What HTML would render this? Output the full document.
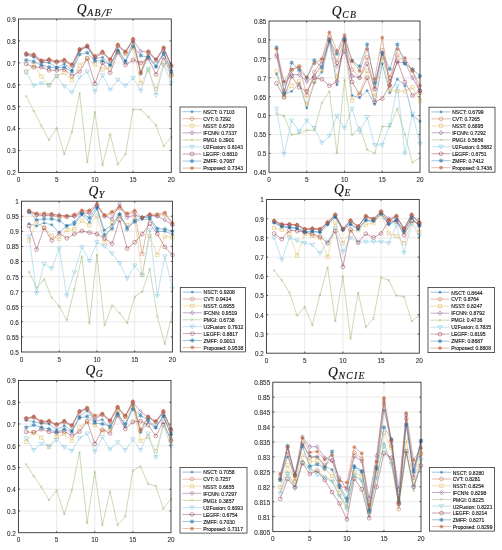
<!DOCTYPE html>
<html><head><meta charset="utf-8"><style>
html,body{margin:0;padding:0;background:#fff;}
body{width:502px;height:550px;overflow:hidden;}
svg{display:block;filter:blur(0.3px) saturate(0.75);}
.tl text{font-family:"Liberation Sans",Arial,sans-serif;font-size:6.4px;fill:#2a2a2a;stroke:#2a2a2a;stroke-width:0.08px;}
.lt{font-family:"Liberation Sans",Arial,sans-serif;font-size:5.8px;fill:#1a1a1a;stroke:#1a1a1a;stroke-width:0.16px;}
.ti{font-family:"Liberation Serif","Times New Roman",serif;font-style:italic;font-size:13.6px;fill:#111;stroke:#111;stroke-width:0.15px;}
.sub{font-size:9.8px;letter-spacing:1.2px;}
.sl{font-size:12.5px;letter-spacing:0.6px;}
</style></head><body>
<svg width="502" height="550" viewBox="0 0 502 550">
<path d="M56.7 19V172.4M94.9 19V172.4M133.1 19V172.4M18.5 150.49H171.3M18.5 128.57H171.3M18.5 106.66H171.3M18.5 84.74H171.3M18.5 62.83H171.3M18.5 40.91H171.3" stroke="#dcdcdc" stroke-width="0.6" fill="none"/>
<g opacity="0.55"><polyline points="26.14,54.94 33.78,57.13 41.42,62.17 49.06,62.83 56.7,67.21 64.34,63.92 71.98,70.28 79.62,50.34 87.26,46.83 94.9,58.45 102.54,57.35 110.18,65.02 117.82,49.68 125.46,60.86 133.1,42.01 140.74,73.79 148.38,55.82 156.02,66.12 163.66,52.31 171.3,70.28" fill="none" stroke="#0072BD" stroke-width="0.75" stroke-linejoin="round"/></g>
<g opacity="0.62"><circle cx="26.14" cy="54.94" r="1.2" fill="#0072BD" stroke="#0072BD" stroke-width="0.4"/><circle cx="33.78" cy="57.13" r="1.2" fill="#0072BD" stroke="#0072BD" stroke-width="0.4"/><circle cx="41.42" cy="62.17" r="1.2" fill="#0072BD" stroke="#0072BD" stroke-width="0.4"/><circle cx="49.06" cy="62.83" r="1.2" fill="#0072BD" stroke="#0072BD" stroke-width="0.4"/><circle cx="56.7" cy="67.21" r="1.2" fill="#0072BD" stroke="#0072BD" stroke-width="0.4"/><circle cx="64.34" cy="63.92" r="1.2" fill="#0072BD" stroke="#0072BD" stroke-width="0.4"/><circle cx="71.98" cy="70.28" r="1.2" fill="#0072BD" stroke="#0072BD" stroke-width="0.4"/><circle cx="79.62" cy="50.34" r="1.2" fill="#0072BD" stroke="#0072BD" stroke-width="0.4"/><circle cx="87.26" cy="46.83" r="1.2" fill="#0072BD" stroke="#0072BD" stroke-width="0.4"/><circle cx="94.9" cy="58.45" r="1.2" fill="#0072BD" stroke="#0072BD" stroke-width="0.4"/><circle cx="102.54" cy="57.35" r="1.2" fill="#0072BD" stroke="#0072BD" stroke-width="0.4"/><circle cx="110.18" cy="65.02" r="1.2" fill="#0072BD" stroke="#0072BD" stroke-width="0.4"/><circle cx="117.82" cy="49.68" r="1.2" fill="#0072BD" stroke="#0072BD" stroke-width="0.4"/><circle cx="125.46" cy="60.86" r="1.2" fill="#0072BD" stroke="#0072BD" stroke-width="0.4"/><circle cx="133.1" cy="42.01" r="1.2" fill="#0072BD" stroke="#0072BD" stroke-width="0.4"/><circle cx="140.74" cy="73.79" r="1.2" fill="#0072BD" stroke="#0072BD" stroke-width="0.4"/><circle cx="148.38" cy="55.82" r="1.2" fill="#0072BD" stroke="#0072BD" stroke-width="0.4"/><circle cx="156.02" cy="66.12" r="1.2" fill="#0072BD" stroke="#0072BD" stroke-width="0.4"/><circle cx="163.66" cy="52.31" r="1.2" fill="#0072BD" stroke="#0072BD" stroke-width="0.4"/><circle cx="171.3" cy="70.28" r="1.2" fill="#0072BD" stroke="#0072BD" stroke-width="0.4"/></g>
<g opacity="0.55"><polyline points="26.14,54.5 33.78,55.6 41.42,61.51 49.06,60.42 56.7,62.39 64.34,60.86 71.98,65.68 79.62,50.12 87.26,46.61 94.9,57.13 102.54,52.75 110.18,60.42 117.82,45.74 125.46,52.75 133.1,40.04 140.74,73.35 148.38,52.53 156.02,60.42 163.66,48.58 171.3,66.33" fill="none" stroke="#D95319" stroke-width="0.75" stroke-linejoin="round"/></g>
<g opacity="0.62"><circle cx="26.14" cy="54.5" r="1.9" fill="none" stroke="#D95319" stroke-width="0.7"/><circle cx="33.78" cy="55.6" r="1.9" fill="none" stroke="#D95319" stroke-width="0.7"/><circle cx="41.42" cy="61.51" r="1.9" fill="none" stroke="#D95319" stroke-width="0.7"/><circle cx="49.06" cy="60.42" r="1.9" fill="none" stroke="#D95319" stroke-width="0.7"/><circle cx="56.7" cy="62.39" r="1.9" fill="none" stroke="#D95319" stroke-width="0.7"/><circle cx="64.34" cy="60.86" r="1.9" fill="none" stroke="#D95319" stroke-width="0.7"/><circle cx="71.98" cy="65.68" r="1.9" fill="none" stroke="#D95319" stroke-width="0.7"/><circle cx="79.62" cy="50.12" r="1.9" fill="none" stroke="#D95319" stroke-width="0.7"/><circle cx="87.26" cy="46.61" r="1.9" fill="none" stroke="#D95319" stroke-width="0.7"/><circle cx="94.9" cy="57.13" r="1.9" fill="none" stroke="#D95319" stroke-width="0.7"/><circle cx="102.54" cy="52.75" r="1.9" fill="none" stroke="#D95319" stroke-width="0.7"/><circle cx="110.18" cy="60.42" r="1.9" fill="none" stroke="#D95319" stroke-width="0.7"/><circle cx="117.82" cy="45.74" r="1.9" fill="none" stroke="#D95319" stroke-width="0.7"/><circle cx="125.46" cy="52.75" r="1.9" fill="none" stroke="#D95319" stroke-width="0.7"/><circle cx="133.1" cy="40.04" r="1.9" fill="none" stroke="#D95319" stroke-width="0.7"/><circle cx="140.74" cy="73.35" r="1.9" fill="none" stroke="#D95319" stroke-width="0.7"/><circle cx="148.38" cy="52.53" r="1.9" fill="none" stroke="#D95319" stroke-width="0.7"/><circle cx="156.02" cy="60.42" r="1.9" fill="none" stroke="#D95319" stroke-width="0.7"/><circle cx="163.66" cy="48.58" r="1.9" fill="none" stroke="#D95319" stroke-width="0.7"/><circle cx="171.3" cy="66.33" r="1.9" fill="none" stroke="#D95319" stroke-width="0.7"/></g>
<g opacity="0.55"><polyline points="26.14,71.59 33.78,65.02 41.42,76.42 49.06,85.18 56.7,75.98 64.34,72.69 71.98,80.36 79.62,65.68 87.26,58.45 94.9,64.36 102.54,69.4 110.18,67.21 117.82,51.43 125.46,54.06 133.1,47.49 140.74,82.99 148.38,70.28 156.02,89.13 163.66,62.83 171.3,75.98" fill="none" stroke="#EDB120" stroke-width="0.75" stroke-linejoin="round"/></g>
<g opacity="0.62"><rect x="24.44" y="69.89" width="3.4" height="3.4" fill="none" stroke="#EDB120" stroke-width="0.7"/><rect x="32.08" y="63.32" width="3.4" height="3.4" fill="none" stroke="#EDB120" stroke-width="0.7"/><rect x="39.72" y="74.72" width="3.4" height="3.4" fill="none" stroke="#EDB120" stroke-width="0.7"/><rect x="47.36" y="83.48" width="3.4" height="3.4" fill="none" stroke="#EDB120" stroke-width="0.7"/><rect x="55" y="74.28" width="3.4" height="3.4" fill="none" stroke="#EDB120" stroke-width="0.7"/><rect x="62.64" y="70.99" width="3.4" height="3.4" fill="none" stroke="#EDB120" stroke-width="0.7"/><rect x="70.28" y="78.66" width="3.4" height="3.4" fill="none" stroke="#EDB120" stroke-width="0.7"/><rect x="77.92" y="63.98" width="3.4" height="3.4" fill="none" stroke="#EDB120" stroke-width="0.7"/><rect x="85.56" y="56.75" width="3.4" height="3.4" fill="none" stroke="#EDB120" stroke-width="0.7"/><rect x="93.2" y="62.66" width="3.4" height="3.4" fill="none" stroke="#EDB120" stroke-width="0.7"/><rect x="100.84" y="67.7" width="3.4" height="3.4" fill="none" stroke="#EDB120" stroke-width="0.7"/><rect x="108.48" y="65.51" width="3.4" height="3.4" fill="none" stroke="#EDB120" stroke-width="0.7"/><rect x="116.12" y="49.73" width="3.4" height="3.4" fill="none" stroke="#EDB120" stroke-width="0.7"/><rect x="123.76" y="52.36" width="3.4" height="3.4" fill="none" stroke="#EDB120" stroke-width="0.7"/><rect x="131.4" y="45.79" width="3.4" height="3.4" fill="none" stroke="#EDB120" stroke-width="0.7"/><rect x="139.04" y="81.29" width="3.4" height="3.4" fill="none" stroke="#EDB120" stroke-width="0.7"/><rect x="146.68" y="68.58" width="3.4" height="3.4" fill="none" stroke="#EDB120" stroke-width="0.7"/><rect x="154.32" y="87.43" width="3.4" height="3.4" fill="none" stroke="#EDB120" stroke-width="0.7"/><rect x="161.96" y="61.13" width="3.4" height="3.4" fill="none" stroke="#EDB120" stroke-width="0.7"/><rect x="169.6" y="74.28" width="3.4" height="3.4" fill="none" stroke="#EDB120" stroke-width="0.7"/></g>
<g opacity="0.55"><polyline points="26.14,54.06 33.78,55.16 41.42,61.08 49.06,59.98 56.7,61.95 64.34,60.42 71.98,65.24 79.62,49.68 87.26,46.17 94.9,58.45 102.54,52.31 110.18,59.98 117.82,45.3 125.46,52.31 133.1,39.6 140.74,51.43 148.38,52.09 156.02,59.98 163.66,48.15 171.3,65.9" fill="none" stroke="#7E2F8E" stroke-width="0.75" stroke-linejoin="round"/></g>
<g opacity="0.62"><path d="M26.14 51.86L27.9 54.06L26.14 56.26L24.38 54.06Z" fill="none" stroke="#7E2F8E" stroke-width="0.7"/><path d="M33.78 52.96L35.54 55.16L33.78 57.36L32.02 55.16Z" fill="none" stroke="#7E2F8E" stroke-width="0.7"/><path d="M41.42 58.88L43.18 61.08L41.42 63.28L39.66 61.08Z" fill="none" stroke="#7E2F8E" stroke-width="0.7"/><path d="M49.06 57.78L50.82 59.98L49.06 62.18L47.3 59.98Z" fill="none" stroke="#7E2F8E" stroke-width="0.7"/><path d="M56.7 59.75L58.46 61.95L56.7 64.15L54.94 61.95Z" fill="none" stroke="#7E2F8E" stroke-width="0.7"/><path d="M64.34 58.22L66.1 60.42L64.34 62.62L62.58 60.42Z" fill="none" stroke="#7E2F8E" stroke-width="0.7"/><path d="M71.98 63.04L73.74 65.24L71.98 67.44L70.22 65.24Z" fill="none" stroke="#7E2F8E" stroke-width="0.7"/><path d="M79.62 47.48L81.38 49.68L79.62 51.88L77.86 49.68Z" fill="none" stroke="#7E2F8E" stroke-width="0.7"/><path d="M87.26 43.97L89.02 46.17L87.26 48.37L85.5 46.17Z" fill="none" stroke="#7E2F8E" stroke-width="0.7"/><path d="M94.9 56.25L96.66 58.45L94.9 60.65L93.14 58.45Z" fill="none" stroke="#7E2F8E" stroke-width="0.7"/><path d="M102.54 50.11L104.3 52.31L102.54 54.51L100.78 52.31Z" fill="none" stroke="#7E2F8E" stroke-width="0.7"/><path d="M110.18 57.78L111.94 59.98L110.18 62.18L108.42 59.98Z" fill="none" stroke="#7E2F8E" stroke-width="0.7"/><path d="M117.82 43.1L119.58 45.3L117.82 47.5L116.06 45.3Z" fill="none" stroke="#7E2F8E" stroke-width="0.7"/><path d="M125.46 50.11L127.22 52.31L125.46 54.51L123.7 52.31Z" fill="none" stroke="#7E2F8E" stroke-width="0.7"/><path d="M133.1 37.4L134.86 39.6L133.1 41.8L131.34 39.6Z" fill="none" stroke="#7E2F8E" stroke-width="0.7"/><path d="M140.74 49.23L142.5 51.43L140.74 53.63L138.98 51.43Z" fill="none" stroke="#7E2F8E" stroke-width="0.7"/><path d="M148.38 49.89L150.14 52.09L148.38 54.29L146.62 52.09Z" fill="none" stroke="#7E2F8E" stroke-width="0.7"/><path d="M156.02 57.78L157.78 59.98L156.02 62.18L154.26 59.98Z" fill="none" stroke="#7E2F8E" stroke-width="0.7"/><path d="M163.66 45.95L165.42 48.15L163.66 50.35L161.9 48.15Z" fill="none" stroke="#7E2F8E" stroke-width="0.7"/><path d="M171.3 63.7L173.06 65.9L171.3 68.1L169.54 65.9Z" fill="none" stroke="#7E2F8E" stroke-width="0.7"/></g>
<g opacity="0.55"><polyline points="26.14,96.14 33.78,111.04 41.42,125.72 49.06,139.97 56.7,127.91 64.34,154.21 71.98,131.86 79.62,93.07 87.26,162.32 94.9,112.14 102.54,165.17 110.18,134.27 117.82,164.51 125.46,154.21 133.1,109.51 140.74,109.51 148.38,116.74 156.02,125.28 163.66,146.1 171.3,137.34" fill="none" stroke="#77AC30" stroke-width="0.75" stroke-linejoin="round"/></g>
<g opacity="0.62"><path d="M24.94 94.94L27.34 97.34M24.94 97.34L27.34 94.94" stroke="#77AC30" stroke-width="0.6"/><path d="M32.58 109.84L34.98 112.24M32.58 112.24L34.98 109.84" stroke="#77AC30" stroke-width="0.6"/><path d="M40.22 124.52L42.62 126.92M40.22 126.92L42.62 124.52" stroke="#77AC30" stroke-width="0.6"/><path d="M47.86 138.77L50.26 141.17M47.86 141.17L50.26 138.77" stroke="#77AC30" stroke-width="0.6"/><path d="M55.5 126.71L57.9 129.11M55.5 129.11L57.9 126.71" stroke="#77AC30" stroke-width="0.6"/><path d="M63.14 153.01L65.54 155.41M63.14 155.41L65.54 153.01" stroke="#77AC30" stroke-width="0.6"/><path d="M70.78 130.66L73.18 133.06M70.78 133.06L73.18 130.66" stroke="#77AC30" stroke-width="0.6"/><path d="M78.42 91.87L80.82 94.27M78.42 94.27L80.82 91.87" stroke="#77AC30" stroke-width="0.6"/><path d="M86.06 161.12L88.46 163.52M86.06 163.52L88.46 161.12" stroke="#77AC30" stroke-width="0.6"/><path d="M93.7 110.94L96.1 113.34M93.7 113.34L96.1 110.94" stroke="#77AC30" stroke-width="0.6"/><path d="M101.34 163.97L103.74 166.37M101.34 166.37L103.74 163.97" stroke="#77AC30" stroke-width="0.6"/><path d="M108.98 133.07L111.38 135.47M108.98 135.47L111.38 133.07" stroke="#77AC30" stroke-width="0.6"/><path d="M116.62 163.31L119.02 165.71M116.62 165.71L119.02 163.31" stroke="#77AC30" stroke-width="0.6"/><path d="M124.26 153.01L126.66 155.41M124.26 155.41L126.66 153.01" stroke="#77AC30" stroke-width="0.6"/><path d="M131.9 108.31L134.3 110.71M131.9 110.71L134.3 108.31" stroke="#77AC30" stroke-width="0.6"/><path d="M139.54 108.31L141.94 110.71M139.54 110.71L141.94 108.31" stroke="#77AC30" stroke-width="0.6"/><path d="M147.18 115.54L149.58 117.94M147.18 117.94L149.58 115.54" stroke="#77AC30" stroke-width="0.6"/><path d="M154.82 124.08L157.22 126.48M154.82 126.48L157.22 124.08" stroke="#77AC30" stroke-width="0.6"/><path d="M162.46 144.9L164.86 147.3M162.46 147.3L164.86 144.9" stroke="#77AC30" stroke-width="0.6"/><path d="M170.1 136.14L172.5 138.54M170.1 138.54L172.5 136.14" stroke="#77AC30" stroke-width="0.6"/></g>
<g opacity="0.55"><polyline points="26.14,72.25 33.78,85.62 41.42,83.21 49.06,85.18 56.7,75.98 64.34,86.28 71.98,92.41 79.62,77.29 87.26,71.59 94.9,91.54 102.54,75.32 110.18,89.78 117.82,79.7 125.46,85.62 133.1,77.95 140.74,90.66 148.38,68.53 156.02,95.04 163.66,65.02 171.3,82.99" fill="none" stroke="#4DBEEE" stroke-width="0.75" stroke-linejoin="round"/></g>
<g opacity="0.62"><path d="M23.94 70.71L28.34 70.71L26.14 74.45Z" fill="none" stroke="#4DBEEE" stroke-width="0.7"/><path d="M31.58 84.08L35.98 84.08L33.78 87.82Z" fill="none" stroke="#4DBEEE" stroke-width="0.7"/><path d="M39.22 81.67L43.62 81.67L41.42 85.41Z" fill="none" stroke="#4DBEEE" stroke-width="0.7"/><path d="M46.86 83.64L51.26 83.64L49.06 87.38Z" fill="none" stroke="#4DBEEE" stroke-width="0.7"/><path d="M54.5 74.44L58.9 74.44L56.7 78.18Z" fill="none" stroke="#4DBEEE" stroke-width="0.7"/><path d="M62.14 84.74L66.54 84.74L64.34 88.48Z" fill="none" stroke="#4DBEEE" stroke-width="0.7"/><path d="M69.78 90.87L74.18 90.87L71.98 94.61Z" fill="none" stroke="#4DBEEE" stroke-width="0.7"/><path d="M77.42 75.75L81.82 75.75L79.62 79.49Z" fill="none" stroke="#4DBEEE" stroke-width="0.7"/><path d="M85.06 70.05L89.46 70.05L87.26 73.79Z" fill="none" stroke="#4DBEEE" stroke-width="0.7"/><path d="M92.7 90L97.1 90L94.9 93.74Z" fill="none" stroke="#4DBEEE" stroke-width="0.7"/><path d="M100.34 73.78L104.74 73.78L102.54 77.52Z" fill="none" stroke="#4DBEEE" stroke-width="0.7"/><path d="M107.98 88.24L112.38 88.24L110.18 91.98Z" fill="none" stroke="#4DBEEE" stroke-width="0.7"/><path d="M115.62 78.16L120.02 78.16L117.82 81.9Z" fill="none" stroke="#4DBEEE" stroke-width="0.7"/><path d="M123.26 84.08L127.66 84.08L125.46 87.82Z" fill="none" stroke="#4DBEEE" stroke-width="0.7"/><path d="M130.9 76.41L135.3 76.41L133.1 80.15Z" fill="none" stroke="#4DBEEE" stroke-width="0.7"/><path d="M138.54 89.12L142.94 89.12L140.74 92.86Z" fill="none" stroke="#4DBEEE" stroke-width="0.7"/><path d="M146.18 66.99L150.58 66.99L148.38 70.73Z" fill="none" stroke="#4DBEEE" stroke-width="0.7"/><path d="M153.82 93.5L158.22 93.5L156.02 97.24Z" fill="none" stroke="#4DBEEE" stroke-width="0.7"/><path d="M161.46 63.48L165.86 63.48L163.66 67.22Z" fill="none" stroke="#4DBEEE" stroke-width="0.7"/><path d="M169.1 81.45L173.5 81.45L171.3 85.19Z" fill="none" stroke="#4DBEEE" stroke-width="0.7"/></g>
<g opacity="0.55"><polyline points="26.14,63.92 33.78,67.21 41.42,67.21 49.06,70.28 56.7,70.28 64.34,69.4 71.98,75.98 79.62,71.59 87.26,58.45 94.9,83.65 102.54,62.83 110.18,72.69 117.82,52.31 125.46,65.02 133.1,59.98 140.74,62.83 148.38,58.45 156.02,74.44 163.66,57.35 171.3,74.44" fill="none" stroke="#A2142F" stroke-width="0.75" stroke-linejoin="round"/></g>
<g opacity="0.62"><circle cx="26.14" cy="63.92" r="1.9" fill="none" stroke="#A2142F" stroke-width="0.7"/><circle cx="33.78" cy="67.21" r="1.9" fill="none" stroke="#A2142F" stroke-width="0.7"/><circle cx="41.42" cy="67.21" r="1.9" fill="none" stroke="#A2142F" stroke-width="0.7"/><circle cx="49.06" cy="70.28" r="1.9" fill="none" stroke="#A2142F" stroke-width="0.7"/><circle cx="56.7" cy="70.28" r="1.9" fill="none" stroke="#A2142F" stroke-width="0.7"/><circle cx="64.34" cy="69.4" r="1.9" fill="none" stroke="#A2142F" stroke-width="0.7"/><circle cx="71.98" cy="75.98" r="1.9" fill="none" stroke="#A2142F" stroke-width="0.7"/><circle cx="79.62" cy="71.59" r="1.9" fill="none" stroke="#A2142F" stroke-width="0.7"/><circle cx="87.26" cy="58.45" r="1.9" fill="none" stroke="#A2142F" stroke-width="0.7"/><circle cx="94.9" cy="83.65" r="1.9" fill="none" stroke="#A2142F" stroke-width="0.7"/><circle cx="102.54" cy="62.83" r="1.9" fill="none" stroke="#A2142F" stroke-width="0.7"/><circle cx="110.18" cy="72.69" r="1.9" fill="none" stroke="#A2142F" stroke-width="0.7"/><circle cx="117.82" cy="52.31" r="1.9" fill="none" stroke="#A2142F" stroke-width="0.7"/><circle cx="125.46" cy="65.02" r="1.9" fill="none" stroke="#A2142F" stroke-width="0.7"/><circle cx="133.1" cy="59.98" r="1.9" fill="none" stroke="#A2142F" stroke-width="0.7"/><circle cx="140.74" cy="62.83" r="1.9" fill="none" stroke="#A2142F" stroke-width="0.7"/><circle cx="148.38" cy="58.45" r="1.9" fill="none" stroke="#A2142F" stroke-width="0.7"/><circle cx="156.02" cy="74.44" r="1.9" fill="none" stroke="#A2142F" stroke-width="0.7"/><circle cx="163.66" cy="57.35" r="1.9" fill="none" stroke="#A2142F" stroke-width="0.7"/><circle cx="171.3" cy="74.44" r="1.9" fill="none" stroke="#A2142F" stroke-width="0.7"/></g>
<g opacity="0.55"><polyline points="26.14,60.2 33.78,61.51 41.42,65.02 49.06,67.21 56.7,67.87 64.34,67.21 71.98,71.59 79.62,54.28 87.26,52.75 94.9,60.86 102.54,60.86 110.18,65.02 117.82,50.78 125.46,61.73 133.1,46.39 140.74,55.6 148.38,57.35 156.02,66.77 163.66,53.62 171.3,71.59" fill="none" stroke="#0072BD" stroke-width="0.75" stroke-linejoin="round"/></g>
<g opacity="0.62"><polygon points="26.14,57.9 25.49,59.07 24.15,59.05 24.84,60.2 24.15,61.35 25.49,61.32 26.14,62.5 26.79,61.32 28.13,61.35 27.44,60.2 28.13,59.05 26.79,59.07" fill="#0072BD" stroke="#0072BD" stroke-width="0.3"/><polygon points="33.78,59.21 33.13,60.39 31.79,60.36 32.48,61.51 31.79,62.66 33.13,62.64 33.78,63.81 34.43,62.64 35.77,62.66 35.08,61.51 35.77,60.36 34.43,60.39" fill="#0072BD" stroke="#0072BD" stroke-width="0.3"/><polygon points="41.42,62.72 40.77,63.89 39.43,63.87 40.12,65.02 39.43,66.17 40.77,66.15 41.42,67.32 42.07,66.15 43.41,66.17 42.72,65.02 43.41,63.87 42.07,63.89" fill="#0072BD" stroke="#0072BD" stroke-width="0.3"/><polygon points="49.06,64.91 48.41,66.09 47.07,66.06 47.76,67.21 47.07,68.36 48.41,68.34 49.06,69.51 49.71,68.34 51.05,68.36 50.36,67.21 51.05,66.06 49.71,66.09" fill="#0072BD" stroke="#0072BD" stroke-width="0.3"/><polygon points="56.7,65.57 56.05,66.74 54.71,66.72 55.4,67.87 54.71,69.02 56.05,68.99 56.7,70.17 57.35,68.99 58.69,69.02 58,67.87 58.69,66.72 57.35,66.74" fill="#0072BD" stroke="#0072BD" stroke-width="0.3"/><polygon points="64.34,64.91 63.69,66.09 62.35,66.06 63.04,67.21 62.35,68.36 63.69,68.34 64.34,69.51 64.99,68.34 66.33,68.36 65.64,67.21 66.33,66.06 64.99,66.09" fill="#0072BD" stroke="#0072BD" stroke-width="0.3"/><polygon points="71.98,69.29 71.33,70.47 69.99,70.44 70.68,71.59 69.99,72.74 71.33,72.72 71.98,73.89 72.63,72.72 73.97,72.74 73.28,71.59 73.97,70.44 72.63,70.47" fill="#0072BD" stroke="#0072BD" stroke-width="0.3"/><polygon points="79.62,51.98 78.97,53.16 77.63,53.13 78.32,54.28 77.63,55.43 78.97,55.41 79.62,56.58 80.27,55.41 81.61,55.43 80.92,54.28 81.61,53.13 80.27,53.16" fill="#0072BD" stroke="#0072BD" stroke-width="0.3"/><polygon points="87.26,50.45 86.61,51.62 85.27,51.6 85.96,52.75 85.27,53.9 86.61,53.87 87.26,55.05 87.91,53.87 89.25,53.9 88.56,52.75 89.25,51.6 87.91,51.62" fill="#0072BD" stroke="#0072BD" stroke-width="0.3"/><polygon points="94.9,58.56 94.25,59.73 92.91,59.71 93.6,60.86 92.91,62.01 94.25,61.98 94.9,63.16 95.55,61.98 96.89,62.01 96.2,60.86 96.89,59.71 95.55,59.73" fill="#0072BD" stroke="#0072BD" stroke-width="0.3"/><polygon points="102.54,58.56 101.89,59.73 100.55,59.71 101.24,60.86 100.55,62.01 101.89,61.98 102.54,63.16 103.19,61.98 104.53,62.01 103.84,60.86 104.53,59.71 103.19,59.73" fill="#0072BD" stroke="#0072BD" stroke-width="0.3"/><polygon points="110.18,62.72 109.53,63.89 108.19,63.87 108.88,65.02 108.19,66.17 109.53,66.15 110.18,67.32 110.83,66.15 112.17,66.17 111.48,65.02 112.17,63.87 110.83,63.89" fill="#0072BD" stroke="#0072BD" stroke-width="0.3"/><polygon points="117.82,48.48 117.17,49.65 115.83,49.63 116.52,50.78 115.83,51.93 117.17,51.9 117.82,53.08 118.47,51.9 119.81,51.93 119.12,50.78 119.81,49.63 118.47,49.65" fill="#0072BD" stroke="#0072BD" stroke-width="0.3"/><polygon points="125.46,59.43 124.81,60.61 123.47,60.58 124.16,61.73 123.47,62.88 124.81,62.86 125.46,64.03 126.11,62.86 127.45,62.88 126.76,61.73 127.45,60.58 126.11,60.61" fill="#0072BD" stroke="#0072BD" stroke-width="0.3"/><polygon points="133.1,44.09 132.45,45.27 131.11,45.24 131.8,46.39 131.11,47.54 132.45,47.52 133.1,48.69 133.75,47.52 135.09,47.54 134.4,46.39 135.09,45.24 133.75,45.27" fill="#0072BD" stroke="#0072BD" stroke-width="0.3"/><polygon points="140.74,53.3 140.09,54.47 138.75,54.45 139.44,55.6 138.75,56.75 140.09,56.72 140.74,57.9 141.39,56.72 142.73,56.75 142.04,55.6 142.73,54.45 141.39,54.47" fill="#0072BD" stroke="#0072BD" stroke-width="0.3"/><polygon points="148.38,55.05 147.73,56.22 146.39,56.2 147.08,57.35 146.39,58.5 147.73,58.48 148.38,59.65 149.03,58.48 150.37,58.5 149.68,57.35 150.37,56.2 149.03,56.22" fill="#0072BD" stroke="#0072BD" stroke-width="0.3"/><polygon points="156.02,64.47 155.37,65.65 154.03,65.62 154.72,66.77 154.03,67.92 155.37,67.9 156.02,69.07 156.67,67.9 158.01,67.92 157.32,66.77 158.01,65.62 156.67,65.65" fill="#0072BD" stroke="#0072BD" stroke-width="0.3"/><polygon points="163.66,51.32 163.01,52.5 161.67,52.47 162.36,53.62 161.67,54.77 163.01,54.75 163.66,55.92 164.31,54.75 165.65,54.77 164.96,53.62 165.65,52.47 164.31,52.5" fill="#0072BD" stroke="#0072BD" stroke-width="0.3"/><polygon points="171.3,69.29 170.65,70.47 169.31,70.44 170,71.59 169.31,72.74 170.65,72.72 171.3,73.89 171.95,72.72 173.29,72.74 172.6,71.59 173.29,70.44 171.95,70.47" fill="#0072BD" stroke="#0072BD" stroke-width="0.3"/></g>
<g opacity="0.55"><polyline points="26.14,53.19 33.78,54.28 41.42,60.2 49.06,59.1 56.7,61.08 64.34,59.54 71.98,64.36 79.62,48.8 87.26,45.3 94.9,55.82 102.54,51.43 110.18,59.1 117.82,44.42 125.46,51.43 133.1,38.72 140.74,72.03 148.38,51.21 156.02,59.1 163.66,47.27 171.3,65.02" fill="none" stroke="#D95319" stroke-width="0.75" stroke-linejoin="round"/></g>
<g opacity="0.62"><circle cx="26.14" cy="53.19" r="1.6" fill="#D95319" stroke="#D95319" stroke-width="0.5"/><circle cx="33.78" cy="54.28" r="1.6" fill="#D95319" stroke="#D95319" stroke-width="0.5"/><circle cx="41.42" cy="60.2" r="1.6" fill="#D95319" stroke="#D95319" stroke-width="0.5"/><circle cx="49.06" cy="59.1" r="1.6" fill="#D95319" stroke="#D95319" stroke-width="0.5"/><circle cx="56.7" cy="61.08" r="1.6" fill="#D95319" stroke="#D95319" stroke-width="0.5"/><circle cx="64.34" cy="59.54" r="1.6" fill="#D95319" stroke="#D95319" stroke-width="0.5"/><circle cx="71.98" cy="64.36" r="1.6" fill="#D95319" stroke="#D95319" stroke-width="0.5"/><circle cx="79.62" cy="48.8" r="1.6" fill="#D95319" stroke="#D95319" stroke-width="0.5"/><circle cx="87.26" cy="45.3" r="1.6" fill="#D95319" stroke="#D95319" stroke-width="0.5"/><circle cx="94.9" cy="55.82" r="1.6" fill="#D95319" stroke="#D95319" stroke-width="0.5"/><circle cx="102.54" cy="51.43" r="1.6" fill="#D95319" stroke="#D95319" stroke-width="0.5"/><circle cx="110.18" cy="59.1" r="1.6" fill="#D95319" stroke="#D95319" stroke-width="0.5"/><circle cx="117.82" cy="44.42" r="1.6" fill="#D95319" stroke="#D95319" stroke-width="0.5"/><circle cx="125.46" cy="51.43" r="1.6" fill="#D95319" stroke="#D95319" stroke-width="0.5"/><circle cx="133.1" cy="38.72" r="1.6" fill="#D95319" stroke="#D95319" stroke-width="0.5"/><circle cx="140.74" cy="72.03" r="1.6" fill="#D95319" stroke="#D95319" stroke-width="0.5"/><circle cx="148.38" cy="51.21" r="1.6" fill="#D95319" stroke="#D95319" stroke-width="0.5"/><circle cx="156.02" cy="59.1" r="1.6" fill="#D95319" stroke="#D95319" stroke-width="0.5"/><circle cx="163.66" cy="47.27" r="1.6" fill="#D95319" stroke="#D95319" stroke-width="0.5"/><circle cx="171.3" cy="65.02" r="1.6" fill="#D95319" stroke="#D95319" stroke-width="0.5"/></g>
<rect x="18.5" y="19" width="152.8" height="153.4" fill="none" stroke="#333" stroke-width="0.9"/>
<path d="M56.7 172.4v-1.6M56.7 19v1.6M94.9 172.4v-1.6M94.9 19v1.6M133.1 172.4v-1.6M133.1 19v1.6M18.5 150.49h1.6M171.3 150.49h-1.6M18.5 128.57h1.6M171.3 128.57h-1.6M18.5 106.66h1.6M171.3 106.66h-1.6M18.5 84.74h1.6M171.3 84.74h-1.6M18.5 62.83h1.6M171.3 62.83h-1.6M18.5 40.91h1.6M171.3 40.91h-1.6" stroke="#333" stroke-width="0.8"/>
<g class="tl"><text x="18.5" y="181.9" text-anchor="middle">0</text><text x="56.7" y="181.9" text-anchor="middle">5</text><text x="94.9" y="181.9" text-anchor="middle">10</text><text x="133.1" y="181.9" text-anchor="middle">15</text><text x="171.3" y="181.9" text-anchor="middle">20</text><text x="15.9" y="175.3" text-anchor="end">0.2</text><text x="15.9" y="153.39" text-anchor="end">0.3</text><text x="15.9" y="131.47" text-anchor="end">0.4</text><text x="15.9" y="109.56" text-anchor="end">0.5</text><text x="15.9" y="87.64" text-anchor="end">0.6</text><text x="15.9" y="65.73" text-anchor="end">0.7</text><text x="15.9" y="43.81" text-anchor="end">0.8</text><text x="15.9" y="21.9" text-anchor="end">0.9</text></g>
<text class="ti" x="94.9" y="13.8" text-anchor="middle">Q<tspan class="sub" dx="0.6" dy="2">AB</tspan><tspan class="sl" dy="0.9">/</tspan><tspan class="sub" dy="-0.9">F</tspan></text>
<rect x="180" y="107" width="66.5" height="65.6" fill="#fff" stroke="#333" stroke-width="0.8"/><g opacity="0.55"><path d="M182.5 111.7H201.5" stroke="#0072BD" stroke-width="0.75"/></g><g opacity="0.62"><circle cx="192" cy="111.7" r="1.2" fill="#0072BD" stroke="#0072BD" stroke-width="0.4"/></g><text class="lt" transform="translate(203.2 114) scale(0.87 1)">NSCT: 0.7103</text><g opacity="0.55"><path d="M182.5 118.75H201.5" stroke="#D95319" stroke-width="0.75"/></g><g opacity="0.62"><circle cx="192" cy="118.75" r="1.9" fill="none" stroke="#D95319" stroke-width="0.7"/></g><text class="lt" transform="translate(203.2 121.05) scale(0.87 1)">CVT: 0.7292</text><g opacity="0.55"><path d="M182.5 125.8H201.5" stroke="#EDB120" stroke-width="0.75"/></g><g opacity="0.62"><rect x="190.3" y="124.1" width="3.4" height="3.4" fill="none" stroke="#EDB120" stroke-width="0.7"/></g><text class="lt" transform="translate(203.2 128.1) scale(0.87 1)">NSST: 0.6720</text><g opacity="0.55"><path d="M182.5 132.85H201.5" stroke="#7E2F8E" stroke-width="0.75"/></g><g opacity="0.62"><path d="M192 130.65L193.76 132.85L192 135.05L190.24 132.85Z" fill="none" stroke="#7E2F8E" stroke-width="0.7"/></g><text class="lt" transform="translate(203.2 135.15) scale(0.87 1)">IFCNN: 0.7337</text><g opacity="0.55"><path d="M182.5 139.9H201.5" stroke="#77AC30" stroke-width="0.75"/></g><g opacity="0.62"><path d="M190.8 138.7L193.2 141.1M190.8 141.1L193.2 138.7" stroke="#77AC30" stroke-width="0.6"/></g><text class="lt" transform="translate(203.2 142.2) scale(0.87 1)">PMGI: 0.3901</text><g opacity="0.55"><path d="M182.5 146.95H201.5" stroke="#4DBEEE" stroke-width="0.75"/></g><g opacity="0.62"><path d="M189.8 145.41L194.2 145.41L192 149.15Z" fill="none" stroke="#4DBEEE" stroke-width="0.7"/></g><text class="lt" transform="translate(203.2 149.25) scale(0.87 1)">U2Fusion: 0.6143</text><g opacity="0.55"><path d="M182.5 154H201.5" stroke="#A2142F" stroke-width="0.75"/></g><g opacity="0.62"><circle cx="192" cy="154" r="1.9" fill="none" stroke="#A2142F" stroke-width="0.7"/></g><text class="lt" transform="translate(203.2 156.3) scale(0.87 1)">LEGFF: 0.6810</text><g opacity="0.55"><path d="M182.5 161.05H201.5" stroke="#0072BD" stroke-width="0.75"/></g><g opacity="0.62"><polygon points="192,158.75 191.35,159.92 190.01,159.9 190.7,161.05 190.01,162.2 191.35,162.18 192,163.35 192.65,162.18 193.99,162.2 193.3,161.05 193.99,159.9 192.65,159.92" fill="#0072BD" stroke="#0072BD" stroke-width="0.3"/></g><text class="lt" transform="translate(203.2 163.35) scale(0.87 1)">ZMFF: 0.7087</text><g opacity="0.55"><path d="M182.5 168.1H201.5" stroke="#D95319" stroke-width="0.75"/></g><g opacity="0.62"><circle cx="192" cy="168.1" r="1.6" fill="#D95319" stroke="#D95319" stroke-width="0.5"/></g><text class="lt" transform="translate(203.2 170.4) scale(0.87 1)">Proposed: 0.7343</text>
<path d="M306.75 21V172.3M344.5 21V172.3M382.25 21V172.3M269 153.39H420M269 134.47H420M269 115.56H420M269 96.65H420M269 77.74H420M269 58.83H420M269 39.91H420" stroke="#dcdcdc" stroke-width="0.6" fill="none"/>
<g opacity="0.55"><polyline points="276.55,73.96 284.1,94.38 291.65,91.35 299.2,83.41 306.75,108 314.3,82.65 321.85,72.06 329.4,41.8 336.95,84.92 344.5,39.91 352.05,95.52 359.6,97.78 367.15,90.6 374.7,104.22 382.25,63.74 389.8,92.87 397.35,79.25 404.9,85.68 412.45,115.56 420,121.24" fill="none" stroke="#0072BD" stroke-width="0.75" stroke-linejoin="round"/></g>
<g opacity="0.62"><circle cx="276.55" cy="73.96" r="1.2" fill="#0072BD" stroke="#0072BD" stroke-width="0.4"/><circle cx="284.1" cy="94.38" r="1.2" fill="#0072BD" stroke="#0072BD" stroke-width="0.4"/><circle cx="291.65" cy="91.35" r="1.2" fill="#0072BD" stroke="#0072BD" stroke-width="0.4"/><circle cx="299.2" cy="83.41" r="1.2" fill="#0072BD" stroke="#0072BD" stroke-width="0.4"/><circle cx="306.75" cy="108" r="1.2" fill="#0072BD" stroke="#0072BD" stroke-width="0.4"/><circle cx="314.3" cy="82.65" r="1.2" fill="#0072BD" stroke="#0072BD" stroke-width="0.4"/><circle cx="321.85" cy="72.06" r="1.2" fill="#0072BD" stroke="#0072BD" stroke-width="0.4"/><circle cx="329.4" cy="41.8" r="1.2" fill="#0072BD" stroke="#0072BD" stroke-width="0.4"/><circle cx="336.95" cy="84.92" r="1.2" fill="#0072BD" stroke="#0072BD" stroke-width="0.4"/><circle cx="344.5" cy="39.91" r="1.2" fill="#0072BD" stroke="#0072BD" stroke-width="0.4"/><circle cx="352.05" cy="95.52" r="1.2" fill="#0072BD" stroke="#0072BD" stroke-width="0.4"/><circle cx="359.6" cy="97.78" r="1.2" fill="#0072BD" stroke="#0072BD" stroke-width="0.4"/><circle cx="367.15" cy="90.6" r="1.2" fill="#0072BD" stroke="#0072BD" stroke-width="0.4"/><circle cx="374.7" cy="104.22" r="1.2" fill="#0072BD" stroke="#0072BD" stroke-width="0.4"/><circle cx="382.25" cy="63.74" r="1.2" fill="#0072BD" stroke="#0072BD" stroke-width="0.4"/><circle cx="389.8" cy="92.87" r="1.2" fill="#0072BD" stroke="#0072BD" stroke-width="0.4"/><circle cx="397.35" cy="79.25" r="1.2" fill="#0072BD" stroke="#0072BD" stroke-width="0.4"/><circle cx="404.9" cy="85.68" r="1.2" fill="#0072BD" stroke="#0072BD" stroke-width="0.4"/><circle cx="412.45" cy="115.56" r="1.2" fill="#0072BD" stroke="#0072BD" stroke-width="0.4"/><circle cx="420" cy="121.24" r="1.2" fill="#0072BD" stroke="#0072BD" stroke-width="0.4"/></g>
<g opacity="0.55"><polyline points="276.55,56.18 284.1,90.98 291.65,70.17 299.2,66.39 306.75,95.14 314.3,72.06 321.85,60.72 329.4,36.51 336.95,62.61 344.5,39.91 352.05,69.42 359.6,77.74 367.15,57.31 374.7,88.71 382.25,50.13 389.8,77.74 397.35,55.04 404.9,62.61 412.45,70.17 420,92.87" fill="none" stroke="#D95319" stroke-width="0.75" stroke-linejoin="round"/></g>
<g opacity="0.62"><circle cx="276.55" cy="56.18" r="1.9" fill="none" stroke="#D95319" stroke-width="0.7"/><circle cx="284.1" cy="90.98" r="1.9" fill="none" stroke="#D95319" stroke-width="0.7"/><circle cx="291.65" cy="70.17" r="1.9" fill="none" stroke="#D95319" stroke-width="0.7"/><circle cx="299.2" cy="66.39" r="1.9" fill="none" stroke="#D95319" stroke-width="0.7"/><circle cx="306.75" cy="95.14" r="1.9" fill="none" stroke="#D95319" stroke-width="0.7"/><circle cx="314.3" cy="72.06" r="1.9" fill="none" stroke="#D95319" stroke-width="0.7"/><circle cx="321.85" cy="60.72" r="1.9" fill="none" stroke="#D95319" stroke-width="0.7"/><circle cx="329.4" cy="36.51" r="1.9" fill="none" stroke="#D95319" stroke-width="0.7"/><circle cx="336.95" cy="62.61" r="1.9" fill="none" stroke="#D95319" stroke-width="0.7"/><circle cx="344.5" cy="39.91" r="1.9" fill="none" stroke="#D95319" stroke-width="0.7"/><circle cx="352.05" cy="69.42" r="1.9" fill="none" stroke="#D95319" stroke-width="0.7"/><circle cx="359.6" cy="77.74" r="1.9" fill="none" stroke="#D95319" stroke-width="0.7"/><circle cx="367.15" cy="57.31" r="1.9" fill="none" stroke="#D95319" stroke-width="0.7"/><circle cx="374.7" cy="88.71" r="1.9" fill="none" stroke="#D95319" stroke-width="0.7"/><circle cx="382.25" cy="50.13" r="1.9" fill="none" stroke="#D95319" stroke-width="0.7"/><circle cx="389.8" cy="77.74" r="1.9" fill="none" stroke="#D95319" stroke-width="0.7"/><circle cx="397.35" cy="55.04" r="1.9" fill="none" stroke="#D95319" stroke-width="0.7"/><circle cx="404.9" cy="62.61" r="1.9" fill="none" stroke="#D95319" stroke-width="0.7"/><circle cx="412.45" cy="70.17" r="1.9" fill="none" stroke="#D95319" stroke-width="0.7"/><circle cx="420" cy="92.87" r="1.9" fill="none" stroke="#D95319" stroke-width="0.7"/></g>
<g opacity="0.55"><polyline points="276.55,70.93 284.1,96.65 291.65,85.68 299.2,81.52 306.75,104.22 314.3,81.52 321.85,69.79 329.4,39.91 336.95,76.98 344.5,47.48 352.05,100.43 359.6,92.87 367.15,70.93 374.7,96.65 382.25,57.31 389.8,90.6 397.35,90.98 404.9,91.35 412.45,87.19 420,100.43" fill="none" stroke="#EDB120" stroke-width="0.75" stroke-linejoin="round"/></g>
<g opacity="0.62"><rect x="274.85" y="69.23" width="3.4" height="3.4" fill="none" stroke="#EDB120" stroke-width="0.7"/><rect x="282.4" y="94.95" width="3.4" height="3.4" fill="none" stroke="#EDB120" stroke-width="0.7"/><rect x="289.95" y="83.98" width="3.4" height="3.4" fill="none" stroke="#EDB120" stroke-width="0.7"/><rect x="297.5" y="79.82" width="3.4" height="3.4" fill="none" stroke="#EDB120" stroke-width="0.7"/><rect x="305.05" y="102.52" width="3.4" height="3.4" fill="none" stroke="#EDB120" stroke-width="0.7"/><rect x="312.6" y="79.82" width="3.4" height="3.4" fill="none" stroke="#EDB120" stroke-width="0.7"/><rect x="320.15" y="68.09" width="3.4" height="3.4" fill="none" stroke="#EDB120" stroke-width="0.7"/><rect x="327.7" y="38.21" width="3.4" height="3.4" fill="none" stroke="#EDB120" stroke-width="0.7"/><rect x="335.25" y="75.28" width="3.4" height="3.4" fill="none" stroke="#EDB120" stroke-width="0.7"/><rect x="342.8" y="45.78" width="3.4" height="3.4" fill="none" stroke="#EDB120" stroke-width="0.7"/><rect x="350.35" y="98.73" width="3.4" height="3.4" fill="none" stroke="#EDB120" stroke-width="0.7"/><rect x="357.9" y="91.17" width="3.4" height="3.4" fill="none" stroke="#EDB120" stroke-width="0.7"/><rect x="365.45" y="69.23" width="3.4" height="3.4" fill="none" stroke="#EDB120" stroke-width="0.7"/><rect x="373" y="94.95" width="3.4" height="3.4" fill="none" stroke="#EDB120" stroke-width="0.7"/><rect x="380.55" y="55.61" width="3.4" height="3.4" fill="none" stroke="#EDB120" stroke-width="0.7"/><rect x="388.1" y="88.9" width="3.4" height="3.4" fill="none" stroke="#EDB120" stroke-width="0.7"/><rect x="395.65" y="89.28" width="3.4" height="3.4" fill="none" stroke="#EDB120" stroke-width="0.7"/><rect x="403.2" y="89.65" width="3.4" height="3.4" fill="none" stroke="#EDB120" stroke-width="0.7"/><rect x="410.75" y="85.49" width="3.4" height="3.4" fill="none" stroke="#EDB120" stroke-width="0.7"/><rect x="418.3" y="98.73" width="3.4" height="3.4" fill="none" stroke="#EDB120" stroke-width="0.7"/></g>
<g opacity="0.55"><polyline points="276.55,54.66 284.1,83.41 291.65,74.71 299.2,74.71 306.75,81.52 314.3,76.22 321.85,64.5 329.4,39.91 336.95,66.39 344.5,51.26 352.05,75.85 359.6,77.74 367.15,63.74 374.7,89.08 382.25,53.15 389.8,81.52 397.35,62.23 404.9,62.61 412.45,77.74 420,90.98" fill="none" stroke="#7E2F8E" stroke-width="0.75" stroke-linejoin="round"/></g>
<g opacity="0.62"><path d="M276.55 52.46L278.31 54.66L276.55 56.86L274.79 54.66Z" fill="none" stroke="#7E2F8E" stroke-width="0.7"/><path d="M284.1 81.21L285.86 83.41L284.1 85.61L282.34 83.41Z" fill="none" stroke="#7E2F8E" stroke-width="0.7"/><path d="M291.65 72.51L293.41 74.71L291.65 76.91L289.89 74.71Z" fill="none" stroke="#7E2F8E" stroke-width="0.7"/><path d="M299.2 72.51L300.96 74.71L299.2 76.91L297.44 74.71Z" fill="none" stroke="#7E2F8E" stroke-width="0.7"/><path d="M306.75 79.32L308.51 81.52L306.75 83.72L304.99 81.52Z" fill="none" stroke="#7E2F8E" stroke-width="0.7"/><path d="M314.3 74.02L316.06 76.22L314.3 78.42L312.54 76.22Z" fill="none" stroke="#7E2F8E" stroke-width="0.7"/><path d="M321.85 62.3L323.61 64.5L321.85 66.7L320.09 64.5Z" fill="none" stroke="#7E2F8E" stroke-width="0.7"/><path d="M329.4 37.71L331.16 39.91L329.4 42.11L327.64 39.91Z" fill="none" stroke="#7E2F8E" stroke-width="0.7"/><path d="M336.95 64.19L338.71 66.39L336.95 68.59L335.19 66.39Z" fill="none" stroke="#7E2F8E" stroke-width="0.7"/><path d="M344.5 49.06L346.26 51.26L344.5 53.46L342.74 51.26Z" fill="none" stroke="#7E2F8E" stroke-width="0.7"/><path d="M352.05 73.65L353.81 75.85L352.05 78.05L350.29 75.85Z" fill="none" stroke="#7E2F8E" stroke-width="0.7"/><path d="M359.6 75.54L361.36 77.74L359.6 79.94L357.84 77.74Z" fill="none" stroke="#7E2F8E" stroke-width="0.7"/><path d="M367.15 61.54L368.91 63.74L367.15 65.94L365.39 63.74Z" fill="none" stroke="#7E2F8E" stroke-width="0.7"/><path d="M374.7 86.88L376.46 89.08L374.7 91.28L372.94 89.08Z" fill="none" stroke="#7E2F8E" stroke-width="0.7"/><path d="M382.25 50.95L384.01 53.15L382.25 55.35L380.49 53.15Z" fill="none" stroke="#7E2F8E" stroke-width="0.7"/><path d="M389.8 79.32L391.56 81.52L389.8 83.72L388.04 81.52Z" fill="none" stroke="#7E2F8E" stroke-width="0.7"/><path d="M397.35 60.03L399.11 62.23L397.35 64.43L395.59 62.23Z" fill="none" stroke="#7E2F8E" stroke-width="0.7"/><path d="M404.9 60.41L406.66 62.61L404.9 64.81L403.14 62.61Z" fill="none" stroke="#7E2F8E" stroke-width="0.7"/><path d="M412.45 75.54L414.21 77.74L412.45 79.94L410.69 77.74Z" fill="none" stroke="#7E2F8E" stroke-width="0.7"/><path d="M420 88.78L421.76 90.98L420 93.18L418.24 90.98Z" fill="none" stroke="#7E2F8E" stroke-width="0.7"/></g>
<g opacity="0.55"><polyline points="276.55,113.67 284.1,115.94 291.65,134.85 299.2,133.34 306.75,130.31 314.3,130.31 321.85,102.7 329.4,91.35 336.95,153.39 344.5,79.63 352.05,134.85 359.6,127.29 367.15,149.61 374.7,153.39 382.25,126.53 389.8,126.53 397.35,108.75 404.9,134.47 412.45,162.47 420,157.93" fill="none" stroke="#77AC30" stroke-width="0.75" stroke-linejoin="round"/></g>
<g opacity="0.62"><path d="M275.35 112.47L277.75 114.87M275.35 114.87L277.75 112.47" stroke="#77AC30" stroke-width="0.6"/><path d="M282.9 114.74L285.3 117.14M282.9 117.14L285.3 114.74" stroke="#77AC30" stroke-width="0.6"/><path d="M290.45 133.65L292.85 136.05M290.45 136.05L292.85 133.65" stroke="#77AC30" stroke-width="0.6"/><path d="M298 132.14L300.4 134.54M298 134.54L300.4 132.14" stroke="#77AC30" stroke-width="0.6"/><path d="M305.55 129.11L307.95 131.51M305.55 131.51L307.95 129.11" stroke="#77AC30" stroke-width="0.6"/><path d="M313.1 129.11L315.5 131.51M313.1 131.51L315.5 129.11" stroke="#77AC30" stroke-width="0.6"/><path d="M320.65 101.5L323.05 103.9M320.65 103.9L323.05 101.5" stroke="#77AC30" stroke-width="0.6"/><path d="M328.2 90.15L330.6 92.55M328.2 92.55L330.6 90.15" stroke="#77AC30" stroke-width="0.6"/><path d="M335.75 152.19L338.15 154.59M335.75 154.59L338.15 152.19" stroke="#77AC30" stroke-width="0.6"/><path d="M343.3 78.43L345.7 80.83M343.3 80.83L345.7 78.43" stroke="#77AC30" stroke-width="0.6"/><path d="M350.85 133.65L353.25 136.05M350.85 136.05L353.25 133.65" stroke="#77AC30" stroke-width="0.6"/><path d="M358.4 126.09L360.8 128.49M358.4 128.49L360.8 126.09" stroke="#77AC30" stroke-width="0.6"/><path d="M365.95 148.41L368.35 150.81M365.95 150.81L368.35 148.41" stroke="#77AC30" stroke-width="0.6"/><path d="M373.5 152.19L375.9 154.59M373.5 154.59L375.9 152.19" stroke="#77AC30" stroke-width="0.6"/><path d="M381.05 125.33L383.45 127.73M381.05 127.73L383.45 125.33" stroke="#77AC30" stroke-width="0.6"/><path d="M388.6 125.33L391 127.73M388.6 127.73L391 125.33" stroke="#77AC30" stroke-width="0.6"/><path d="M396.15 107.55L398.55 109.95M396.15 109.95L398.55 107.55" stroke="#77AC30" stroke-width="0.6"/><path d="M403.7 133.28L406.1 135.67M403.7 135.67L406.1 133.28" stroke="#77AC30" stroke-width="0.6"/><path d="M411.25 161.27L413.65 163.67M411.25 163.67L413.65 161.27" stroke="#77AC30" stroke-width="0.6"/><path d="M418.8 156.73L421.2 159.13M418.8 159.13L421.2 156.73" stroke="#77AC30" stroke-width="0.6"/></g>
<g opacity="0.55"><polyline points="276.55,108.75 284.1,154.14 291.65,120.48 299.2,131.45 306.75,120.48 314.3,128.04 321.85,142.8 329.4,135.99 336.95,115.94 344.5,128.04 352.05,108.75 359.6,131.83 367.15,117.08 374.7,145.07 382.25,145.07 389.8,125.02 397.35,86.06 404.9,153.39 412.45,113.67 420,143.93" fill="none" stroke="#4DBEEE" stroke-width="0.75" stroke-linejoin="round"/></g>
<g opacity="0.62"><path d="M274.35 107.21L278.75 107.21L276.55 110.95Z" fill="none" stroke="#4DBEEE" stroke-width="0.7"/><path d="M281.9 152.6L286.3 152.6L284.1 156.34Z" fill="none" stroke="#4DBEEE" stroke-width="0.7"/><path d="M289.45 118.94L293.85 118.94L291.65 122.68Z" fill="none" stroke="#4DBEEE" stroke-width="0.7"/><path d="M297 129.91L301.4 129.91L299.2 133.65Z" fill="none" stroke="#4DBEEE" stroke-width="0.7"/><path d="M304.55 118.94L308.95 118.94L306.75 122.68Z" fill="none" stroke="#4DBEEE" stroke-width="0.7"/><path d="M312.1 126.5L316.5 126.5L314.3 130.24Z" fill="none" stroke="#4DBEEE" stroke-width="0.7"/><path d="M319.65 141.26L324.05 141.26L321.85 145Z" fill="none" stroke="#4DBEEE" stroke-width="0.7"/><path d="M327.2 134.45L331.6 134.45L329.4 138.19Z" fill="none" stroke="#4DBEEE" stroke-width="0.7"/><path d="M334.75 114.4L339.15 114.4L336.95 118.14Z" fill="none" stroke="#4DBEEE" stroke-width="0.7"/><path d="M342.3 126.5L346.7 126.5L344.5 130.24Z" fill="none" stroke="#4DBEEE" stroke-width="0.7"/><path d="M349.85 107.21L354.25 107.21L352.05 110.95Z" fill="none" stroke="#4DBEEE" stroke-width="0.7"/><path d="M357.4 130.29L361.8 130.29L359.6 134.03Z" fill="none" stroke="#4DBEEE" stroke-width="0.7"/><path d="M364.95 115.54L369.35 115.54L367.15 119.28Z" fill="none" stroke="#4DBEEE" stroke-width="0.7"/><path d="M372.5 143.53L376.9 143.53L374.7 147.27Z" fill="none" stroke="#4DBEEE" stroke-width="0.7"/><path d="M380.05 143.53L384.45 143.53L382.25 147.27Z" fill="none" stroke="#4DBEEE" stroke-width="0.7"/><path d="M387.6 123.48L392 123.48L389.8 127.22Z" fill="none" stroke="#4DBEEE" stroke-width="0.7"/><path d="M395.15 84.52L399.55 84.52L397.35 88.26Z" fill="none" stroke="#4DBEEE" stroke-width="0.7"/><path d="M402.7 151.85L407.1 151.85L404.9 155.59Z" fill="none" stroke="#4DBEEE" stroke-width="0.7"/><path d="M410.25 112.13L414.65 112.13L412.45 115.87Z" fill="none" stroke="#4DBEEE" stroke-width="0.7"/><path d="M417.8 142.39L422.2 142.39L420 146.13Z" fill="none" stroke="#4DBEEE" stroke-width="0.7"/></g>
<g opacity="0.55"><polyline points="276.55,83.41 284.1,97.41 291.65,76.22 299.2,87.19 306.75,91.35 314.3,77.74 321.85,79.25 329.4,85.68 336.95,81.52 344.5,39.91 352.05,81.9 359.6,94.76 367.15,77.74 374.7,101.95 382.25,98.54 389.8,85.3 397.35,60.72 404.9,81.9 412.45,95.52 420,90.6" fill="none" stroke="#A2142F" stroke-width="0.75" stroke-linejoin="round"/></g>
<g opacity="0.62"><circle cx="276.55" cy="83.41" r="1.9" fill="none" stroke="#A2142F" stroke-width="0.7"/><circle cx="284.1" cy="97.41" r="1.9" fill="none" stroke="#A2142F" stroke-width="0.7"/><circle cx="291.65" cy="76.22" r="1.9" fill="none" stroke="#A2142F" stroke-width="0.7"/><circle cx="299.2" cy="87.19" r="1.9" fill="none" stroke="#A2142F" stroke-width="0.7"/><circle cx="306.75" cy="91.35" r="1.9" fill="none" stroke="#A2142F" stroke-width="0.7"/><circle cx="314.3" cy="77.74" r="1.9" fill="none" stroke="#A2142F" stroke-width="0.7"/><circle cx="321.85" cy="79.25" r="1.9" fill="none" stroke="#A2142F" stroke-width="0.7"/><circle cx="329.4" cy="85.68" r="1.9" fill="none" stroke="#A2142F" stroke-width="0.7"/><circle cx="336.95" cy="81.52" r="1.9" fill="none" stroke="#A2142F" stroke-width="0.7"/><circle cx="344.5" cy="39.91" r="1.9" fill="none" stroke="#A2142F" stroke-width="0.7"/><circle cx="352.05" cy="81.9" r="1.9" fill="none" stroke="#A2142F" stroke-width="0.7"/><circle cx="359.6" cy="94.76" r="1.9" fill="none" stroke="#A2142F" stroke-width="0.7"/><circle cx="367.15" cy="77.74" r="1.9" fill="none" stroke="#A2142F" stroke-width="0.7"/><circle cx="374.7" cy="101.95" r="1.9" fill="none" stroke="#A2142F" stroke-width="0.7"/><circle cx="382.25" cy="98.54" r="1.9" fill="none" stroke="#A2142F" stroke-width="0.7"/><circle cx="389.8" cy="85.3" r="1.9" fill="none" stroke="#A2142F" stroke-width="0.7"/><circle cx="397.35" cy="60.72" r="1.9" fill="none" stroke="#A2142F" stroke-width="0.7"/><circle cx="404.9" cy="81.9" r="1.9" fill="none" stroke="#A2142F" stroke-width="0.7"/><circle cx="412.45" cy="95.52" r="1.9" fill="none" stroke="#A2142F" stroke-width="0.7"/><circle cx="420" cy="90.6" r="1.9" fill="none" stroke="#A2142F" stroke-width="0.7"/></g>
<g opacity="0.55"><polyline points="276.55,47.48 284.1,92.87 291.65,62.61 299.2,70.17 306.75,77.74 314.3,60.34 321.85,67.52 329.4,39.91 336.95,53.91 344.5,38.02 352.05,60.72 359.6,66.39 367.15,44.45 374.7,83.03 382.25,53.15 389.8,69.04 397.35,44.45 404.9,63.74 412.45,69.42 420,75.85" fill="none" stroke="#0072BD" stroke-width="0.75" stroke-linejoin="round"/></g>
<g opacity="0.62"><polygon points="276.55,45.18 275.9,46.35 274.56,46.33 275.25,47.48 274.56,48.63 275.9,48.6 276.55,49.78 277.2,48.6 278.54,48.63 277.85,47.48 278.54,46.33 277.2,46.35" fill="#0072BD" stroke="#0072BD" stroke-width="0.3"/><polygon points="284.1,90.57 283.45,91.74 282.11,91.72 282.8,92.87 282.11,94.02 283.45,93.99 284.1,95.17 284.75,93.99 286.09,94.02 285.4,92.87 286.09,91.72 284.75,91.74" fill="#0072BD" stroke="#0072BD" stroke-width="0.3"/><polygon points="291.65,60.31 291,61.48 289.66,61.46 290.35,62.61 289.66,63.76 291,63.73 291.65,64.91 292.3,63.73 293.64,63.76 292.95,62.61 293.64,61.46 292.3,61.48" fill="#0072BD" stroke="#0072BD" stroke-width="0.3"/><polygon points="299.2,67.87 298.55,69.05 297.21,69.02 297.9,70.17 297.21,71.32 298.55,71.3 299.2,72.47 299.85,71.3 301.19,71.32 300.5,70.17 301.19,69.02 299.85,69.05" fill="#0072BD" stroke="#0072BD" stroke-width="0.3"/><polygon points="306.75,75.44 306.1,76.61 304.76,76.59 305.45,77.74 304.76,78.89 306.1,78.86 306.75,80.04 307.4,78.86 308.74,78.89 308.05,77.74 308.74,76.59 307.4,76.61" fill="#0072BD" stroke="#0072BD" stroke-width="0.3"/><polygon points="314.3,58.04 313.65,59.21 312.31,59.19 313,60.34 312.31,61.49 313.65,61.46 314.3,62.64 314.95,61.46 316.29,61.49 315.6,60.34 316.29,59.19 314.95,59.21" fill="#0072BD" stroke="#0072BD" stroke-width="0.3"/><polygon points="321.85,65.22 321.2,66.4 319.86,66.37 320.55,67.52 319.86,68.67 321.2,68.65 321.85,69.82 322.5,68.65 323.84,68.67 323.15,67.52 323.84,66.37 322.5,66.4" fill="#0072BD" stroke="#0072BD" stroke-width="0.3"/><polygon points="329.4,37.61 328.75,38.79 327.41,38.76 328.1,39.91 327.41,41.06 328.75,41.04 329.4,42.21 330.05,41.04 331.39,41.06 330.7,39.91 331.39,38.76 330.05,38.79" fill="#0072BD" stroke="#0072BD" stroke-width="0.3"/><polygon points="336.95,51.61 336.3,52.78 334.96,52.76 335.65,53.91 334.96,55.06 336.3,55.03 336.95,56.21 337.6,55.03 338.94,55.06 338.25,53.91 338.94,52.76 337.6,52.78" fill="#0072BD" stroke="#0072BD" stroke-width="0.3"/><polygon points="344.5,35.72 343.85,36.9 342.51,36.87 343.2,38.02 342.51,39.17 343.85,39.15 344.5,40.32 345.15,39.15 346.49,39.17 345.8,38.02 346.49,36.87 345.15,36.9" fill="#0072BD" stroke="#0072BD" stroke-width="0.3"/><polygon points="352.05,58.42 351.4,59.59 350.06,59.57 350.75,60.72 350.06,61.87 351.4,61.84 352.05,63.02 352.7,61.84 354.04,61.87 353.35,60.72 354.04,59.57 352.7,59.59" fill="#0072BD" stroke="#0072BD" stroke-width="0.3"/><polygon points="359.6,64.09 358.95,65.26 357.61,65.24 358.3,66.39 357.61,67.54 358.95,67.52 359.6,68.69 360.25,67.52 361.59,67.54 360.9,66.39 361.59,65.24 360.25,65.26" fill="#0072BD" stroke="#0072BD" stroke-width="0.3"/><polygon points="367.15,42.15 366.5,43.33 365.16,43.3 365.85,44.45 365.16,45.6 366.5,45.58 367.15,46.75 367.8,45.58 369.14,45.6 368.45,44.45 369.14,43.3 367.8,43.33" fill="#0072BD" stroke="#0072BD" stroke-width="0.3"/><polygon points="374.7,80.73 374.05,81.91 372.71,81.88 373.4,83.03 372.71,84.18 374.05,84.16 374.7,85.33 375.35,84.16 376.69,84.18 376,83.03 376.69,81.88 375.35,81.91" fill="#0072BD" stroke="#0072BD" stroke-width="0.3"/><polygon points="382.25,50.85 381.6,52.03 380.26,52 380.95,53.15 380.26,54.3 381.6,54.28 382.25,55.45 382.9,54.28 384.24,54.3 383.55,53.15 384.24,52 382.9,52.03" fill="#0072BD" stroke="#0072BD" stroke-width="0.3"/><polygon points="389.8,66.74 389.15,67.91 387.81,67.89 388.5,69.04 387.81,70.19 389.15,70.16 389.8,71.34 390.45,70.16 391.79,70.19 391.1,69.04 391.79,67.89 390.45,67.91" fill="#0072BD" stroke="#0072BD" stroke-width="0.3"/><polygon points="397.35,42.15 396.7,43.33 395.36,43.3 396.05,44.45 395.36,45.6 396.7,45.58 397.35,46.75 398,45.58 399.34,45.6 398.65,44.45 399.34,43.3 398,43.33" fill="#0072BD" stroke="#0072BD" stroke-width="0.3"/><polygon points="404.9,61.44 404.25,62.62 402.91,62.59 403.6,63.74 402.91,64.89 404.25,64.87 404.9,66.04 405.55,64.87 406.89,64.89 406.2,63.74 406.89,62.59 405.55,62.62" fill="#0072BD" stroke="#0072BD" stroke-width="0.3"/><polygon points="412.45,67.12 411.8,68.29 410.46,68.27 411.15,69.42 410.46,70.57 411.8,70.54 412.45,71.72 413.1,70.54 414.44,70.57 413.75,69.42 414.44,68.27 413.1,68.29" fill="#0072BD" stroke="#0072BD" stroke-width="0.3"/><polygon points="420,73.55 419.35,74.72 418.01,74.7 418.7,75.85 418.01,77 419.35,76.97 420,78.15 420.65,76.97 421.99,77 421.3,75.85 421.99,74.7 420.65,74.72" fill="#0072BD" stroke="#0072BD" stroke-width="0.3"/></g>
<g opacity="0.55"><polyline points="276.55,48.99 284.1,81.52 291.65,69.42 299.2,66.77 306.75,77.74 314.3,63.36 321.85,58.83 329.4,32.35 336.95,50.88 344.5,35 352.05,61.09 359.6,70.93 367.15,48.99 374.7,79.25 382.25,37.64 389.8,85.68 397.35,48.99 404.9,58.07 412.45,70.93 420,85.68" fill="none" stroke="#D95319" stroke-width="0.75" stroke-linejoin="round"/></g>
<g opacity="0.62"><circle cx="276.55" cy="48.99" r="1.6" fill="#D95319" stroke="#D95319" stroke-width="0.5"/><circle cx="284.1" cy="81.52" r="1.6" fill="#D95319" stroke="#D95319" stroke-width="0.5"/><circle cx="291.65" cy="69.42" r="1.6" fill="#D95319" stroke="#D95319" stroke-width="0.5"/><circle cx="299.2" cy="66.77" r="1.6" fill="#D95319" stroke="#D95319" stroke-width="0.5"/><circle cx="306.75" cy="77.74" r="1.6" fill="#D95319" stroke="#D95319" stroke-width="0.5"/><circle cx="314.3" cy="63.36" r="1.6" fill="#D95319" stroke="#D95319" stroke-width="0.5"/><circle cx="321.85" cy="58.83" r="1.6" fill="#D95319" stroke="#D95319" stroke-width="0.5"/><circle cx="329.4" cy="32.35" r="1.6" fill="#D95319" stroke="#D95319" stroke-width="0.5"/><circle cx="336.95" cy="50.88" r="1.6" fill="#D95319" stroke="#D95319" stroke-width="0.5"/><circle cx="344.5" cy="35" r="1.6" fill="#D95319" stroke="#D95319" stroke-width="0.5"/><circle cx="352.05" cy="61.09" r="1.6" fill="#D95319" stroke="#D95319" stroke-width="0.5"/><circle cx="359.6" cy="70.93" r="1.6" fill="#D95319" stroke="#D95319" stroke-width="0.5"/><circle cx="367.15" cy="48.99" r="1.6" fill="#D95319" stroke="#D95319" stroke-width="0.5"/><circle cx="374.7" cy="79.25" r="1.6" fill="#D95319" stroke="#D95319" stroke-width="0.5"/><circle cx="382.25" cy="37.64" r="1.6" fill="#D95319" stroke="#D95319" stroke-width="0.5"/><circle cx="389.8" cy="85.68" r="1.6" fill="#D95319" stroke="#D95319" stroke-width="0.5"/><circle cx="397.35" cy="48.99" r="1.6" fill="#D95319" stroke="#D95319" stroke-width="0.5"/><circle cx="404.9" cy="58.07" r="1.6" fill="#D95319" stroke="#D95319" stroke-width="0.5"/><circle cx="412.45" cy="70.93" r="1.6" fill="#D95319" stroke="#D95319" stroke-width="0.5"/><circle cx="420" cy="85.68" r="1.6" fill="#D95319" stroke="#D95319" stroke-width="0.5"/></g>
<rect x="269" y="21" width="151" height="151.3" fill="none" stroke="#333" stroke-width="0.9"/>
<path d="M306.75 172.3v-1.6M306.75 21v1.6M344.5 172.3v-1.6M344.5 21v1.6M382.25 172.3v-1.6M382.25 21v1.6M269 153.39h1.6M420 153.39h-1.6M269 134.47h1.6M420 134.47h-1.6M269 115.56h1.6M420 115.56h-1.6M269 96.65h1.6M420 96.65h-1.6M269 77.74h1.6M420 77.74h-1.6M269 58.83h1.6M420 58.83h-1.6M269 39.91h1.6M420 39.91h-1.6" stroke="#333" stroke-width="0.8"/>
<g class="tl"><text x="269" y="181.8" text-anchor="middle">0</text><text x="306.75" y="181.8" text-anchor="middle">5</text><text x="344.5" y="181.8" text-anchor="middle">10</text><text x="382.25" y="181.8" text-anchor="middle">15</text><text x="420" y="181.8" text-anchor="middle">20</text><text x="266.4" y="175.2" text-anchor="end">0.45</text><text x="266.4" y="156.29" text-anchor="end">0.5</text><text x="266.4" y="137.38" text-anchor="end">0.55</text><text x="266.4" y="118.46" text-anchor="end">0.6</text><text x="266.4" y="99.55" text-anchor="end">0.65</text><text x="266.4" y="80.64" text-anchor="end">0.7</text><text x="266.4" y="61.73" text-anchor="end">0.75</text><text x="266.4" y="42.81" text-anchor="end">0.8</text><text x="266.4" y="23.9" text-anchor="end">0.85</text></g>
<text class="ti" x="344.5" y="15.8" text-anchor="middle">Q<tspan class="sub" dx="0.6" dy="2">CB</tspan></text>
<rect x="429" y="107.2" width="66" height="65" fill="#fff" stroke="#333" stroke-width="0.8"/><g opacity="0.55"><path d="M431.5 111.9H450.5" stroke="#0072BD" stroke-width="0.75"/></g><g opacity="0.62"><circle cx="441" cy="111.9" r="1.2" fill="#0072BD" stroke="#0072BD" stroke-width="0.4"/></g><text class="lt" transform="translate(452.2 114.2) scale(0.87 1)">NSCT: 0.6799</text><g opacity="0.55"><path d="M431.5 118.88H450.5" stroke="#D95319" stroke-width="0.75"/></g><g opacity="0.62"><circle cx="441" cy="118.88" r="1.9" fill="none" stroke="#D95319" stroke-width="0.7"/></g><text class="lt" transform="translate(452.2 121.17) scale(0.87 1)">CVT: 0.7265</text><g opacity="0.55"><path d="M431.5 125.85H450.5" stroke="#EDB120" stroke-width="0.75"/></g><g opacity="0.62"><rect x="439.3" y="124.15" width="3.4" height="3.4" fill="none" stroke="#EDB120" stroke-width="0.7"/></g><text class="lt" transform="translate(452.2 128.15) scale(0.87 1)">NSST: 0.6895</text><g opacity="0.55"><path d="M431.5 132.82H450.5" stroke="#7E2F8E" stroke-width="0.75"/></g><g opacity="0.62"><path d="M441 130.62L442.76 132.82L441 135.02L439.24 132.82Z" fill="none" stroke="#7E2F8E" stroke-width="0.7"/></g><text class="lt" transform="translate(452.2 135.12) scale(0.87 1)">IFCNN: 0.7292</text><g opacity="0.55"><path d="M431.5 139.8H450.5" stroke="#77AC30" stroke-width="0.75"/></g><g opacity="0.62"><path d="M439.8 138.6L442.2 141M439.8 141L442.2 138.6" stroke="#77AC30" stroke-width="0.6"/></g><text class="lt" transform="translate(452.2 142.1) scale(0.87 1)">PMGI: 0.5656</text><g opacity="0.55"><path d="M431.5 146.77H450.5" stroke="#4DBEEE" stroke-width="0.75"/></g><g opacity="0.62"><path d="M438.8 145.23L443.2 145.23L441 148.97Z" fill="none" stroke="#4DBEEE" stroke-width="0.7"/></g><text class="lt" transform="translate(452.2 149.07) scale(0.87 1)">U2Fusion: 0.5682</text><g opacity="0.55"><path d="M431.5 153.75H450.5" stroke="#A2142F" stroke-width="0.75"/></g><g opacity="0.62"><circle cx="441" cy="153.75" r="1.9" fill="none" stroke="#A2142F" stroke-width="0.7"/></g><text class="lt" transform="translate(452.2 156.05) scale(0.87 1)">LEGFF: 0.6751</text><g opacity="0.55"><path d="M431.5 160.72H450.5" stroke="#0072BD" stroke-width="0.75"/></g><g opacity="0.62"><polygon points="441,158.42 440.35,159.6 439.01,159.57 439.7,160.72 439.01,161.88 440.35,161.85 441,163.03 441.65,161.85 442.99,161.88 442.3,160.72 442.99,159.57 441.65,159.6" fill="#0072BD" stroke="#0072BD" stroke-width="0.3"/></g><text class="lt" transform="translate(452.2 163.03) scale(0.87 1)">ZMFF: 0.7412</text><g opacity="0.55"><path d="M431.5 167.7H450.5" stroke="#D95319" stroke-width="0.75"/></g><g opacity="0.62"><circle cx="441" cy="167.7" r="1.6" fill="#D95319" stroke="#D95319" stroke-width="0.5"/></g><text class="lt" transform="translate(452.2 170) scale(0.87 1)">Proposed: 0.7436</text>
<path d="M59.23 201.2V352M96.95 201.2V352M134.68 201.2V352M21.5 336.92H172.4M21.5 321.84H172.4M21.5 306.76H172.4M21.5 291.68H172.4M21.5 276.6H172.4M21.5 261.52H172.4M21.5 246.44H172.4M21.5 231.36H172.4M21.5 216.28H172.4" stroke="#dcdcdc" stroke-width="0.6" fill="none"/>
<g opacity="0.55"><polyline points="29.05,223.82 36.59,225.93 44.14,222.92 51.68,224.72 59.23,232.57 66.77,225.33 74.31,224.72 81.86,214.77 89.41,222.31 96.95,208.74 104.5,230.15 112.04,224.72 119.59,214.17 127.13,226.84 134.68,222.31 142.22,219.3 149.77,219.3 157.31,231.36 164.85,231.36 172.4,234.38" fill="none" stroke="#0072BD" stroke-width="0.75" stroke-linejoin="round"/></g>
<g opacity="0.62"><circle cx="29.05" cy="223.82" r="1.2" fill="#0072BD" stroke="#0072BD" stroke-width="0.4"/><circle cx="36.59" cy="225.93" r="1.2" fill="#0072BD" stroke="#0072BD" stroke-width="0.4"/><circle cx="44.14" cy="222.92" r="1.2" fill="#0072BD" stroke="#0072BD" stroke-width="0.4"/><circle cx="51.68" cy="224.72" r="1.2" fill="#0072BD" stroke="#0072BD" stroke-width="0.4"/><circle cx="59.23" cy="232.57" r="1.2" fill="#0072BD" stroke="#0072BD" stroke-width="0.4"/><circle cx="66.77" cy="225.33" r="1.2" fill="#0072BD" stroke="#0072BD" stroke-width="0.4"/><circle cx="74.31" cy="224.72" r="1.2" fill="#0072BD" stroke="#0072BD" stroke-width="0.4"/><circle cx="81.86" cy="214.77" r="1.2" fill="#0072BD" stroke="#0072BD" stroke-width="0.4"/><circle cx="89.41" cy="222.31" r="1.2" fill="#0072BD" stroke="#0072BD" stroke-width="0.4"/><circle cx="96.95" cy="208.74" r="1.2" fill="#0072BD" stroke="#0072BD" stroke-width="0.4"/><circle cx="104.5" cy="230.15" r="1.2" fill="#0072BD" stroke="#0072BD" stroke-width="0.4"/><circle cx="112.04" cy="224.72" r="1.2" fill="#0072BD" stroke="#0072BD" stroke-width="0.4"/><circle cx="119.59" cy="214.17" r="1.2" fill="#0072BD" stroke="#0072BD" stroke-width="0.4"/><circle cx="127.13" cy="226.84" r="1.2" fill="#0072BD" stroke="#0072BD" stroke-width="0.4"/><circle cx="134.68" cy="222.31" r="1.2" fill="#0072BD" stroke="#0072BD" stroke-width="0.4"/><circle cx="142.22" cy="219.3" r="1.2" fill="#0072BD" stroke="#0072BD" stroke-width="0.4"/><circle cx="149.77" cy="219.3" r="1.2" fill="#0072BD" stroke="#0072BD" stroke-width="0.4"/><circle cx="157.31" cy="231.36" r="1.2" fill="#0072BD" stroke="#0072BD" stroke-width="0.4"/><circle cx="164.85" cy="231.36" r="1.2" fill="#0072BD" stroke="#0072BD" stroke-width="0.4"/><circle cx="172.4" cy="234.38" r="1.2" fill="#0072BD" stroke="#0072BD" stroke-width="0.4"/></g>
<g opacity="0.55"><polyline points="29.05,211.76 36.59,214.77 44.14,214.77 51.68,215.38 59.23,217.18 66.77,217.18 74.31,215.98 81.86,211.76 89.41,211.76 96.95,205.42 104.5,216.58 112.04,213.26 119.59,208.44 127.13,214.77 134.68,212.06 142.22,253.98 149.77,215.68 157.31,215.68 164.85,214.17 172.4,224.42" fill="none" stroke="#D95319" stroke-width="0.75" stroke-linejoin="round"/></g>
<g opacity="0.62"><circle cx="29.05" cy="211.76" r="1.9" fill="none" stroke="#D95319" stroke-width="0.7"/><circle cx="36.59" cy="214.77" r="1.9" fill="none" stroke="#D95319" stroke-width="0.7"/><circle cx="44.14" cy="214.77" r="1.9" fill="none" stroke="#D95319" stroke-width="0.7"/><circle cx="51.68" cy="215.38" r="1.9" fill="none" stroke="#D95319" stroke-width="0.7"/><circle cx="59.23" cy="217.18" r="1.9" fill="none" stroke="#D95319" stroke-width="0.7"/><circle cx="66.77" cy="217.18" r="1.9" fill="none" stroke="#D95319" stroke-width="0.7"/><circle cx="74.31" cy="215.98" r="1.9" fill="none" stroke="#D95319" stroke-width="0.7"/><circle cx="81.86" cy="211.76" r="1.9" fill="none" stroke="#D95319" stroke-width="0.7"/><circle cx="89.41" cy="211.76" r="1.9" fill="none" stroke="#D95319" stroke-width="0.7"/><circle cx="96.95" cy="205.42" r="1.9" fill="none" stroke="#D95319" stroke-width="0.7"/><circle cx="104.5" cy="216.58" r="1.9" fill="none" stroke="#D95319" stroke-width="0.7"/><circle cx="112.04" cy="213.26" r="1.9" fill="none" stroke="#D95319" stroke-width="0.7"/><circle cx="119.59" cy="208.44" r="1.9" fill="none" stroke="#D95319" stroke-width="0.7"/><circle cx="127.13" cy="214.77" r="1.9" fill="none" stroke="#D95319" stroke-width="0.7"/><circle cx="134.68" cy="212.06" r="1.9" fill="none" stroke="#D95319" stroke-width="0.7"/><circle cx="142.22" cy="253.98" r="1.9" fill="none" stroke="#D95319" stroke-width="0.7"/><circle cx="149.77" cy="215.68" r="1.9" fill="none" stroke="#D95319" stroke-width="0.7"/><circle cx="157.31" cy="215.68" r="1.9" fill="none" stroke="#D95319" stroke-width="0.7"/><circle cx="164.85" cy="214.17" r="1.9" fill="none" stroke="#D95319" stroke-width="0.7"/><circle cx="172.4" cy="224.42" r="1.9" fill="none" stroke="#D95319" stroke-width="0.7"/></g>
<g opacity="0.55"><polyline points="29.05,240.41 36.59,222.31 44.14,228.34 51.68,235.88 59.23,238.9 66.77,230.15 74.31,229.25 81.86,220.5 89.41,225.33 96.95,216.28 104.5,242.22 112.04,222.31 119.59,215.68 127.13,225.33 134.68,218.99 142.22,274.79 149.77,235.88 157.31,254.88 164.85,236.49 172.4,237.39" fill="none" stroke="#EDB120" stroke-width="0.75" stroke-linejoin="round"/></g>
<g opacity="0.62"><rect x="27.35" y="238.71" width="3.4" height="3.4" fill="none" stroke="#EDB120" stroke-width="0.7"/><rect x="34.89" y="220.61" width="3.4" height="3.4" fill="none" stroke="#EDB120" stroke-width="0.7"/><rect x="42.44" y="226.64" width="3.4" height="3.4" fill="none" stroke="#EDB120" stroke-width="0.7"/><rect x="49.98" y="234.18" width="3.4" height="3.4" fill="none" stroke="#EDB120" stroke-width="0.7"/><rect x="57.52" y="237.2" width="3.4" height="3.4" fill="none" stroke="#EDB120" stroke-width="0.7"/><rect x="65.07" y="228.45" width="3.4" height="3.4" fill="none" stroke="#EDB120" stroke-width="0.7"/><rect x="72.61" y="227.55" width="3.4" height="3.4" fill="none" stroke="#EDB120" stroke-width="0.7"/><rect x="80.16" y="218.8" width="3.4" height="3.4" fill="none" stroke="#EDB120" stroke-width="0.7"/><rect x="87.7" y="223.63" width="3.4" height="3.4" fill="none" stroke="#EDB120" stroke-width="0.7"/><rect x="95.25" y="214.58" width="3.4" height="3.4" fill="none" stroke="#EDB120" stroke-width="0.7"/><rect x="102.8" y="240.52" width="3.4" height="3.4" fill="none" stroke="#EDB120" stroke-width="0.7"/><rect x="110.34" y="220.61" width="3.4" height="3.4" fill="none" stroke="#EDB120" stroke-width="0.7"/><rect x="117.89" y="213.98" width="3.4" height="3.4" fill="none" stroke="#EDB120" stroke-width="0.7"/><rect x="125.43" y="223.63" width="3.4" height="3.4" fill="none" stroke="#EDB120" stroke-width="0.7"/><rect x="132.98" y="217.29" width="3.4" height="3.4" fill="none" stroke="#EDB120" stroke-width="0.7"/><rect x="140.52" y="273.09" width="3.4" height="3.4" fill="none" stroke="#EDB120" stroke-width="0.7"/><rect x="148.07" y="234.18" width="3.4" height="3.4" fill="none" stroke="#EDB120" stroke-width="0.7"/><rect x="155.61" y="253.18" width="3.4" height="3.4" fill="none" stroke="#EDB120" stroke-width="0.7"/><rect x="163.16" y="234.79" width="3.4" height="3.4" fill="none" stroke="#EDB120" stroke-width="0.7"/><rect x="170.7" y="235.69" width="3.4" height="3.4" fill="none" stroke="#EDB120" stroke-width="0.7"/></g>
<g opacity="0.55"><polyline points="29.05,211.76 36.59,214.77 44.14,215.68 51.68,214.77 59.23,215.07 66.77,216.28 74.31,216.28 81.86,213.26 89.41,213.26 96.95,205.72 104.5,215.68 112.04,218.99 119.59,203.91 127.13,217.49 134.68,215.07 142.22,217.49 149.77,214.77 157.31,216.28 164.85,219.9 172.4,225.33" fill="none" stroke="#7E2F8E" stroke-width="0.75" stroke-linejoin="round"/></g>
<g opacity="0.62"><path d="M29.05 209.56L30.81 211.76L29.05 213.96L27.29 211.76Z" fill="none" stroke="#7E2F8E" stroke-width="0.7"/><path d="M36.59 212.57L38.35 214.77L36.59 216.97L34.83 214.77Z" fill="none" stroke="#7E2F8E" stroke-width="0.7"/><path d="M44.14 213.48L45.9 215.68L44.14 217.88L42.38 215.68Z" fill="none" stroke="#7E2F8E" stroke-width="0.7"/><path d="M51.68 212.57L53.44 214.77L51.68 216.97L49.92 214.77Z" fill="none" stroke="#7E2F8E" stroke-width="0.7"/><path d="M59.23 212.87L60.98 215.07L59.23 217.27L57.47 215.07Z" fill="none" stroke="#7E2F8E" stroke-width="0.7"/><path d="M66.77 214.08L68.53 216.28L66.77 218.48L65.01 216.28Z" fill="none" stroke="#7E2F8E" stroke-width="0.7"/><path d="M74.31 214.08L76.08 216.28L74.31 218.48L72.55 216.28Z" fill="none" stroke="#7E2F8E" stroke-width="0.7"/><path d="M81.86 211.06L83.62 213.26L81.86 215.46L80.1 213.26Z" fill="none" stroke="#7E2F8E" stroke-width="0.7"/><path d="M89.41 211.06L91.17 213.26L89.41 215.46L87.64 213.26Z" fill="none" stroke="#7E2F8E" stroke-width="0.7"/><path d="M96.95 203.52L98.71 205.72L96.95 207.92L95.19 205.72Z" fill="none" stroke="#7E2F8E" stroke-width="0.7"/><path d="M104.5 213.48L106.26 215.68L104.5 217.88L102.73 215.68Z" fill="none" stroke="#7E2F8E" stroke-width="0.7"/><path d="M112.04 216.79L113.8 218.99L112.04 221.19L110.28 218.99Z" fill="none" stroke="#7E2F8E" stroke-width="0.7"/><path d="M119.59 201.71L121.35 203.91L119.59 206.11L117.83 203.91Z" fill="none" stroke="#7E2F8E" stroke-width="0.7"/><path d="M127.13 215.29L128.89 217.49L127.13 219.69L125.37 217.49Z" fill="none" stroke="#7E2F8E" stroke-width="0.7"/><path d="M134.68 212.87L136.44 215.07L134.68 217.27L132.92 215.07Z" fill="none" stroke="#7E2F8E" stroke-width="0.7"/><path d="M142.22 215.29L143.98 217.49L142.22 219.69L140.46 217.49Z" fill="none" stroke="#7E2F8E" stroke-width="0.7"/><path d="M149.77 212.57L151.53 214.77L149.77 216.97L148.01 214.77Z" fill="none" stroke="#7E2F8E" stroke-width="0.7"/><path d="M157.31 214.08L159.07 216.28L157.31 218.48L155.55 216.28Z" fill="none" stroke="#7E2F8E" stroke-width="0.7"/><path d="M164.85 217.7L166.61 219.9L164.85 222.1L163.09 219.9Z" fill="none" stroke="#7E2F8E" stroke-width="0.7"/><path d="M172.4 223.13L174.16 225.33L172.4 227.53L170.64 225.33Z" fill="none" stroke="#7E2F8E" stroke-width="0.7"/></g>
<g opacity="0.55"><polyline points="29.05,271.77 36.59,288.06 44.14,279.31 51.68,297.71 59.23,306.16 66.77,320.33 74.31,289.57 81.86,256.39 89.41,323.35 96.95,254.88 104.5,325.46 112.04,305.55 119.59,313.09 127.13,323.05 134.68,296.81 142.22,291.68 149.77,269.06 157.31,316.41 164.85,343.86 172.4,312.79" fill="none" stroke="#77AC30" stroke-width="0.75" stroke-linejoin="round"/></g>
<g opacity="0.62"><path d="M27.85 270.57L30.25 272.97M27.85 272.97L30.25 270.57" stroke="#77AC30" stroke-width="0.6"/><path d="M35.39 286.86L37.79 289.26M35.39 289.26L37.79 286.86" stroke="#77AC30" stroke-width="0.6"/><path d="M42.94 278.11L45.34 280.51M42.94 280.51L45.34 278.11" stroke="#77AC30" stroke-width="0.6"/><path d="M50.48 296.51L52.88 298.91M50.48 298.91L52.88 296.51" stroke="#77AC30" stroke-width="0.6"/><path d="M58.02 304.96L60.43 307.36M58.02 307.36L60.43 304.96" stroke="#77AC30" stroke-width="0.6"/><path d="M65.57 319.13L67.97 321.53M65.57 321.53L67.97 319.13" stroke="#77AC30" stroke-width="0.6"/><path d="M73.11 288.37L75.52 290.77M73.11 290.77L75.52 288.37" stroke="#77AC30" stroke-width="0.6"/><path d="M80.66 255.19L83.06 257.59M80.66 257.59L83.06 255.19" stroke="#77AC30" stroke-width="0.6"/><path d="M88.2 322.15L90.61 324.55M88.2 324.55L90.61 322.15" stroke="#77AC30" stroke-width="0.6"/><path d="M95.75 253.68L98.15 256.08M95.75 256.08L98.15 253.68" stroke="#77AC30" stroke-width="0.6"/><path d="M103.3 324.26L105.7 326.66M103.3 326.66L105.7 324.26" stroke="#77AC30" stroke-width="0.6"/><path d="M110.84 304.35L113.24 306.75M110.84 306.75L113.24 304.35" stroke="#77AC30" stroke-width="0.6"/><path d="M118.39 311.89L120.79 314.29M118.39 314.29L120.79 311.89" stroke="#77AC30" stroke-width="0.6"/><path d="M125.93 321.85L128.33 324.25M125.93 324.25L128.33 321.85" stroke="#77AC30" stroke-width="0.6"/><path d="M133.48 295.61L135.88 298.01M133.48 298.01L135.88 295.61" stroke="#77AC30" stroke-width="0.6"/><path d="M141.02 290.48L143.42 292.88M141.02 292.88L143.42 290.48" stroke="#77AC30" stroke-width="0.6"/><path d="M148.57 267.86L150.97 270.26M148.57 270.26L150.97 267.86" stroke="#77AC30" stroke-width="0.6"/><path d="M156.11 315.21L158.51 317.61M156.11 317.61L158.51 315.21" stroke="#77AC30" stroke-width="0.6"/><path d="M163.66 342.66L166.05 345.06M163.66 345.06L166.05 342.66" stroke="#77AC30" stroke-width="0.6"/><path d="M171.2 311.59L173.6 313.99M171.2 313.99L173.6 311.59" stroke="#77AC30" stroke-width="0.6"/></g>
<g opacity="0.55"><polyline points="29.05,236.49 36.59,293.19 44.14,263.93 51.68,268.46 59.23,248.55 66.77,295.6 74.31,272.38 81.86,247.04 89.41,260.92 96.95,242.22 104.5,246.14 112.04,253.38 119.59,263.03 127.13,278.41 134.68,265.44 142.22,275.39 149.77,230.15 157.31,296.2 164.85,256.39 172.4,288.66" fill="none" stroke="#4DBEEE" stroke-width="0.75" stroke-linejoin="round"/></g>
<g opacity="0.62"><path d="M26.85 234.95L31.25 234.95L29.05 238.69Z" fill="none" stroke="#4DBEEE" stroke-width="0.7"/><path d="M34.39 291.65L38.79 291.65L36.59 295.39Z" fill="none" stroke="#4DBEEE" stroke-width="0.7"/><path d="M41.94 262.39L46.34 262.39L44.14 266.13Z" fill="none" stroke="#4DBEEE" stroke-width="0.7"/><path d="M49.48 266.92L53.88 266.92L51.68 270.66Z" fill="none" stroke="#4DBEEE" stroke-width="0.7"/><path d="M57.02 247.01L61.43 247.01L59.23 250.75Z" fill="none" stroke="#4DBEEE" stroke-width="0.7"/><path d="M64.57 294.06L68.97 294.06L66.77 297.8Z" fill="none" stroke="#4DBEEE" stroke-width="0.7"/><path d="M72.11 270.84L76.52 270.84L74.31 274.58Z" fill="none" stroke="#4DBEEE" stroke-width="0.7"/><path d="M79.66 245.5L84.06 245.5L81.86 249.24Z" fill="none" stroke="#4DBEEE" stroke-width="0.7"/><path d="M87.2 259.38L91.61 259.38L89.41 263.12Z" fill="none" stroke="#4DBEEE" stroke-width="0.7"/><path d="M94.75 240.68L99.15 240.68L96.95 244.42Z" fill="none" stroke="#4DBEEE" stroke-width="0.7"/><path d="M102.3 244.6L106.7 244.6L104.5 248.34Z" fill="none" stroke="#4DBEEE" stroke-width="0.7"/><path d="M109.84 251.84L114.24 251.84L112.04 255.58Z" fill="none" stroke="#4DBEEE" stroke-width="0.7"/><path d="M117.39 261.49L121.79 261.49L119.59 265.23Z" fill="none" stroke="#4DBEEE" stroke-width="0.7"/><path d="M124.93 276.87L129.33 276.87L127.13 280.61Z" fill="none" stroke="#4DBEEE" stroke-width="0.7"/><path d="M132.48 263.9L136.88 263.9L134.68 267.64Z" fill="none" stroke="#4DBEEE" stroke-width="0.7"/><path d="M140.02 273.85L144.42 273.85L142.22 277.59Z" fill="none" stroke="#4DBEEE" stroke-width="0.7"/><path d="M147.57 228.61L151.97 228.61L149.77 232.35Z" fill="none" stroke="#4DBEEE" stroke-width="0.7"/><path d="M155.11 294.66L159.51 294.66L157.31 298.4Z" fill="none" stroke="#4DBEEE" stroke-width="0.7"/><path d="M162.66 254.85L167.05 254.85L164.85 258.59Z" fill="none" stroke="#4DBEEE" stroke-width="0.7"/><path d="M170.2 287.12L174.6 287.12L172.4 290.86Z" fill="none" stroke="#4DBEEE" stroke-width="0.7"/></g>
<g opacity="0.55"><polyline points="29.05,225.93 36.59,249.46 44.14,227.74 51.68,240.41 59.23,233.47 66.77,238.3 74.31,234.07 81.86,231.06 89.41,232.57 96.95,234.07 104.5,238.3 112.04,243.73 119.59,219.9 127.13,248.55 134.68,242.22 142.22,234.07 149.77,223.82 157.31,234.07 164.85,247.04 172.4,254.88" fill="none" stroke="#A2142F" stroke-width="0.75" stroke-linejoin="round"/></g>
<g opacity="0.62"><circle cx="29.05" cy="225.93" r="1.9" fill="none" stroke="#A2142F" stroke-width="0.7"/><circle cx="36.59" cy="249.46" r="1.9" fill="none" stroke="#A2142F" stroke-width="0.7"/><circle cx="44.14" cy="227.74" r="1.9" fill="none" stroke="#A2142F" stroke-width="0.7"/><circle cx="51.68" cy="240.41" r="1.9" fill="none" stroke="#A2142F" stroke-width="0.7"/><circle cx="59.23" cy="233.47" r="1.9" fill="none" stroke="#A2142F" stroke-width="0.7"/><circle cx="66.77" cy="238.3" r="1.9" fill="none" stroke="#A2142F" stroke-width="0.7"/><circle cx="74.31" cy="234.07" r="1.9" fill="none" stroke="#A2142F" stroke-width="0.7"/><circle cx="81.86" cy="231.06" r="1.9" fill="none" stroke="#A2142F" stroke-width="0.7"/><circle cx="89.41" cy="232.57" r="1.9" fill="none" stroke="#A2142F" stroke-width="0.7"/><circle cx="96.95" cy="234.07" r="1.9" fill="none" stroke="#A2142F" stroke-width="0.7"/><circle cx="104.5" cy="238.3" r="1.9" fill="none" stroke="#A2142F" stroke-width="0.7"/><circle cx="112.04" cy="243.73" r="1.9" fill="none" stroke="#A2142F" stroke-width="0.7"/><circle cx="119.59" cy="219.9" r="1.9" fill="none" stroke="#A2142F" stroke-width="0.7"/><circle cx="127.13" cy="248.55" r="1.9" fill="none" stroke="#A2142F" stroke-width="0.7"/><circle cx="134.68" cy="242.22" r="1.9" fill="none" stroke="#A2142F" stroke-width="0.7"/><circle cx="142.22" cy="234.07" r="1.9" fill="none" stroke="#A2142F" stroke-width="0.7"/><circle cx="149.77" cy="223.82" r="1.9" fill="none" stroke="#A2142F" stroke-width="0.7"/><circle cx="157.31" cy="234.07" r="1.9" fill="none" stroke="#A2142F" stroke-width="0.7"/><circle cx="164.85" cy="247.04" r="1.9" fill="none" stroke="#A2142F" stroke-width="0.7"/><circle cx="172.4" cy="254.88" r="1.9" fill="none" stroke="#A2142F" stroke-width="0.7"/></g>
<g opacity="0.55"><polyline points="29.05,211.76 36.59,219.9 44.14,218.99 51.68,218.99 59.23,220.5 66.77,226.23 74.31,222.31 81.86,213.26 89.41,218.09 96.95,206.93 104.5,234.98 112.04,228.65 119.59,214.17 127.13,229.25 134.68,220.5 142.22,217.49 149.77,217.49 157.31,228.65 164.85,229.25 172.4,231.06" fill="none" stroke="#0072BD" stroke-width="0.75" stroke-linejoin="round"/></g>
<g opacity="0.62"><polygon points="29.05,209.46 28.4,210.63 27.05,210.61 27.75,211.76 27.05,212.91 28.4,212.88 29.05,214.06 29.7,212.88 31.04,212.91 30.35,211.76 31.04,210.61 29.7,210.63" fill="#0072BD" stroke="#0072BD" stroke-width="0.3"/><polygon points="36.59,217.6 35.94,218.77 34.6,218.75 35.29,219.9 34.6,221.05 35.94,221.03 36.59,222.2 37.24,221.03 38.58,221.05 37.89,219.9 38.58,218.75 37.24,218.77" fill="#0072BD" stroke="#0072BD" stroke-width="0.3"/><polygon points="44.14,216.69 43.49,217.87 42.14,217.84 42.84,218.99 42.14,220.14 43.49,220.12 44.14,221.29 44.79,220.12 46.13,220.14 45.44,218.99 46.13,217.84 44.79,217.87" fill="#0072BD" stroke="#0072BD" stroke-width="0.3"/><polygon points="51.68,216.69 51.03,217.87 49.69,217.84 50.38,218.99 49.69,220.14 51.03,220.12 51.68,221.29 52.33,220.12 53.67,220.14 52.98,218.99 53.67,217.84 52.33,217.87" fill="#0072BD" stroke="#0072BD" stroke-width="0.3"/><polygon points="59.23,218.2 58.58,219.38 57.23,219.35 57.93,220.5 57.23,221.65 58.58,221.63 59.23,222.8 59.88,221.63 61.22,221.65 60.52,220.5 61.22,219.35 59.88,219.38" fill="#0072BD" stroke="#0072BD" stroke-width="0.3"/><polygon points="66.77,223.93 66.12,225.11 64.78,225.08 65.47,226.23 64.78,227.38 66.12,227.36 66.77,228.53 67.42,227.36 68.76,227.38 68.07,226.23 68.76,225.08 67.42,225.11" fill="#0072BD" stroke="#0072BD" stroke-width="0.3"/><polygon points="74.31,220.01 73.66,221.19 72.32,221.16 73.02,222.31 72.32,223.46 73.66,223.44 74.31,224.61 74.97,223.44 76.31,223.46 75.61,222.31 76.31,221.16 74.97,221.19" fill="#0072BD" stroke="#0072BD" stroke-width="0.3"/><polygon points="81.86,210.96 81.21,212.14 79.87,212.11 80.56,213.26 79.87,214.41 81.21,214.39 81.86,215.56 82.51,214.39 83.85,214.41 83.16,213.26 83.85,212.11 82.51,212.14" fill="#0072BD" stroke="#0072BD" stroke-width="0.3"/><polygon points="89.41,215.79 88.75,216.96 87.41,216.94 88.11,218.09 87.41,219.24 88.75,219.22 89.41,220.39 90.06,219.22 91.4,219.24 90.7,218.09 91.4,216.94 90.06,216.96" fill="#0072BD" stroke="#0072BD" stroke-width="0.3"/><polygon points="96.95,204.63 96.3,205.8 94.96,205.78 95.65,206.93 94.96,208.08 96.3,208.06 96.95,209.23 97.6,208.06 98.94,208.08 98.25,206.93 98.94,205.78 97.6,205.8" fill="#0072BD" stroke="#0072BD" stroke-width="0.3"/><polygon points="104.5,232.68 103.84,233.85 102.5,233.83 103.2,234.98 102.5,236.13 103.84,236.11 104.5,237.28 105.15,236.11 106.49,236.13 105.8,234.98 106.49,233.83 105.15,233.85" fill="#0072BD" stroke="#0072BD" stroke-width="0.3"/><polygon points="112.04,226.35 111.39,227.52 110.05,227.5 110.74,228.65 110.05,229.8 111.39,229.77 112.04,230.95 112.69,229.77 114.03,229.8 113.34,228.65 114.03,227.5 112.69,227.52" fill="#0072BD" stroke="#0072BD" stroke-width="0.3"/><polygon points="119.59,211.87 118.94,213.04 117.59,213.02 118.29,214.17 117.59,215.32 118.94,215.29 119.59,216.47 120.24,215.29 121.58,215.32 120.89,214.17 121.58,213.02 120.24,213.04" fill="#0072BD" stroke="#0072BD" stroke-width="0.3"/><polygon points="127.13,226.95 126.48,228.12 125.14,228.1 125.83,229.25 125.14,230.4 126.48,230.37 127.13,231.55 127.78,230.37 129.12,230.4 128.43,229.25 129.12,228.1 127.78,228.12" fill="#0072BD" stroke="#0072BD" stroke-width="0.3"/><polygon points="134.68,218.2 134.03,219.38 132.68,219.35 133.38,220.5 132.68,221.65 134.03,221.63 134.68,222.8 135.33,221.63 136.67,221.65 135.98,220.5 136.67,219.35 135.33,219.38" fill="#0072BD" stroke="#0072BD" stroke-width="0.3"/><polygon points="142.22,215.19 141.57,216.36 140.23,216.34 140.92,217.49 140.23,218.64 141.57,218.61 142.22,219.79 142.87,218.61 144.21,218.64 143.52,217.49 144.21,216.34 142.87,216.36" fill="#0072BD" stroke="#0072BD" stroke-width="0.3"/><polygon points="149.77,215.19 149.12,216.36 147.77,216.34 148.47,217.49 147.77,218.64 149.12,218.61 149.77,219.79 150.42,218.61 151.76,218.64 151.07,217.49 151.76,216.34 150.42,216.36" fill="#0072BD" stroke="#0072BD" stroke-width="0.3"/><polygon points="157.31,226.35 156.66,227.52 155.32,227.5 156.01,228.65 155.32,229.8 156.66,229.77 157.31,230.95 157.96,229.77 159.3,229.8 158.61,228.65 159.3,227.5 157.96,227.52" fill="#0072BD" stroke="#0072BD" stroke-width="0.3"/><polygon points="164.85,226.95 164.2,228.12 162.86,228.1 163.55,229.25 162.86,230.4 164.2,230.37 164.85,231.55 165.5,230.37 166.85,230.4 166.16,229.25 166.85,228.1 165.5,228.12" fill="#0072BD" stroke="#0072BD" stroke-width="0.3"/><polygon points="172.4,228.76 171.75,229.93 170.41,229.91 171.1,231.06 170.41,232.21 171.75,232.18 172.4,233.36 173.05,232.18 174.39,232.21 173.7,231.06 174.39,229.91 173.05,229.93" fill="#0072BD" stroke="#0072BD" stroke-width="0.3"/></g>
<g opacity="0.55"><polyline points="29.05,210.25 36.59,213.26 44.14,213.26 51.68,213.87 59.23,215.68 66.77,215.68 74.31,214.47 81.86,210.25 89.41,210.25 96.95,203.91 104.5,215.07 112.04,211.76 119.59,206.93 127.13,213.26 134.68,210.55 142.22,217.79 149.77,214.17 157.31,214.17 164.85,212.66 172.4,222.92" fill="none" stroke="#D95319" stroke-width="0.75" stroke-linejoin="round"/></g>
<g opacity="0.62"><circle cx="29.05" cy="210.25" r="1.6" fill="#D95319" stroke="#D95319" stroke-width="0.5"/><circle cx="36.59" cy="213.26" r="1.6" fill="#D95319" stroke="#D95319" stroke-width="0.5"/><circle cx="44.14" cy="213.26" r="1.6" fill="#D95319" stroke="#D95319" stroke-width="0.5"/><circle cx="51.68" cy="213.87" r="1.6" fill="#D95319" stroke="#D95319" stroke-width="0.5"/><circle cx="59.23" cy="215.68" r="1.6" fill="#D95319" stroke="#D95319" stroke-width="0.5"/><circle cx="66.77" cy="215.68" r="1.6" fill="#D95319" stroke="#D95319" stroke-width="0.5"/><circle cx="74.31" cy="214.47" r="1.6" fill="#D95319" stroke="#D95319" stroke-width="0.5"/><circle cx="81.86" cy="210.25" r="1.6" fill="#D95319" stroke="#D95319" stroke-width="0.5"/><circle cx="89.41" cy="210.25" r="1.6" fill="#D95319" stroke="#D95319" stroke-width="0.5"/><circle cx="96.95" cy="203.91" r="1.6" fill="#D95319" stroke="#D95319" stroke-width="0.5"/><circle cx="104.5" cy="215.07" r="1.6" fill="#D95319" stroke="#D95319" stroke-width="0.5"/><circle cx="112.04" cy="211.76" r="1.6" fill="#D95319" stroke="#D95319" stroke-width="0.5"/><circle cx="119.59" cy="206.93" r="1.6" fill="#D95319" stroke="#D95319" stroke-width="0.5"/><circle cx="127.13" cy="213.26" r="1.6" fill="#D95319" stroke="#D95319" stroke-width="0.5"/><circle cx="134.68" cy="210.55" r="1.6" fill="#D95319" stroke="#D95319" stroke-width="0.5"/><circle cx="142.22" cy="217.79" r="1.6" fill="#D95319" stroke="#D95319" stroke-width="0.5"/><circle cx="149.77" cy="214.17" r="1.6" fill="#D95319" stroke="#D95319" stroke-width="0.5"/><circle cx="157.31" cy="214.17" r="1.6" fill="#D95319" stroke="#D95319" stroke-width="0.5"/><circle cx="164.85" cy="212.66" r="1.6" fill="#D95319" stroke="#D95319" stroke-width="0.5"/><circle cx="172.4" cy="222.92" r="1.6" fill="#D95319" stroke="#D95319" stroke-width="0.5"/></g>
<rect x="21.5" y="201.2" width="150.9" height="150.8" fill="none" stroke="#333" stroke-width="0.9"/>
<path d="M59.23 352v-1.6M59.23 201.2v1.6M96.95 352v-1.6M96.95 201.2v1.6M134.68 352v-1.6M134.68 201.2v1.6M21.5 336.92h1.6M172.4 336.92h-1.6M21.5 321.84h1.6M172.4 321.84h-1.6M21.5 306.76h1.6M172.4 306.76h-1.6M21.5 291.68h1.6M172.4 291.68h-1.6M21.5 276.6h1.6M172.4 276.6h-1.6M21.5 261.52h1.6M172.4 261.52h-1.6M21.5 246.44h1.6M172.4 246.44h-1.6M21.5 231.36h1.6M172.4 231.36h-1.6M21.5 216.28h1.6M172.4 216.28h-1.6" stroke="#333" stroke-width="0.8"/>
<g class="tl"><text x="21.5" y="361.5" text-anchor="middle">0</text><text x="59.23" y="361.5" text-anchor="middle">5</text><text x="96.95" y="361.5" text-anchor="middle">10</text><text x="134.68" y="361.5" text-anchor="middle">15</text><text x="172.4" y="361.5" text-anchor="middle">20</text><text x="18.9" y="354.9" text-anchor="end">0.5</text><text x="18.9" y="339.82" text-anchor="end">0.55</text><text x="18.9" y="324.74" text-anchor="end">0.6</text><text x="18.9" y="309.66" text-anchor="end">0.65</text><text x="18.9" y="294.58" text-anchor="end">0.7</text><text x="18.9" y="279.5" text-anchor="end">0.75</text><text x="18.9" y="264.42" text-anchor="end">0.8</text><text x="18.9" y="249.34" text-anchor="end">0.85</text><text x="18.9" y="234.26" text-anchor="end">0.9</text><text x="18.9" y="219.18" text-anchor="end">0.95</text><text x="18.9" y="204.1" text-anchor="end">1</text></g>
<text class="ti" x="96.95" y="196" text-anchor="middle">Q<tspan class="sub" dx="0.6" dy="2">Y</tspan></text>
<rect x="180.3" y="287.4" width="65.2" height="64.5" fill="#fff" stroke="#333" stroke-width="0.8"/><g opacity="0.55"><path d="M182.8 292.1H201.8" stroke="#0072BD" stroke-width="0.75"/></g><g opacity="0.62"><circle cx="192.3" cy="292.1" r="1.2" fill="#0072BD" stroke="#0072BD" stroke-width="0.4"/></g><text class="lt" transform="translate(203.5 294.4) scale(0.87 1)">NSCT: 0.9208</text><g opacity="0.55"><path d="M182.8 299.01H201.8" stroke="#D95319" stroke-width="0.75"/></g><g opacity="0.62"><circle cx="192.3" cy="299.01" r="1.9" fill="none" stroke="#D95319" stroke-width="0.7"/></g><text class="lt" transform="translate(203.5 301.31) scale(0.87 1)">CVT: 0.9434</text><g opacity="0.55"><path d="M182.8 305.92H201.8" stroke="#EDB120" stroke-width="0.75"/></g><g opacity="0.62"><rect x="190.6" y="304.22" width="3.4" height="3.4" fill="none" stroke="#EDB120" stroke-width="0.7"/></g><text class="lt" transform="translate(203.5 308.22) scale(0.87 1)">NSST: 0.8955</text><g opacity="0.55"><path d="M182.8 312.84H201.8" stroke="#7E2F8E" stroke-width="0.75"/></g><g opacity="0.62"><path d="M192.3 310.64L194.06 312.84L192.3 315.04L190.54 312.84Z" fill="none" stroke="#7E2F8E" stroke-width="0.7"/></g><text class="lt" transform="translate(203.5 315.14) scale(0.87 1)">IFCNN: 0.9519</text><g opacity="0.55"><path d="M182.8 319.75H201.8" stroke="#77AC30" stroke-width="0.75"/></g><g opacity="0.62"><path d="M191.1 318.55L193.5 320.95M191.1 320.95L193.5 318.55" stroke="#77AC30" stroke-width="0.6"/></g><text class="lt" transform="translate(203.5 322.05) scale(0.87 1)">PMGI: 0.6738</text><g opacity="0.55"><path d="M182.8 326.66H201.8" stroke="#4DBEEE" stroke-width="0.75"/></g><g opacity="0.62"><path d="M190.1 325.12L194.5 325.12L192.3 328.86Z" fill="none" stroke="#4DBEEE" stroke-width="0.7"/></g><text class="lt" transform="translate(203.5 328.96) scale(0.87 1)">U2Fusion: 0.7912</text><g opacity="0.55"><path d="M182.8 333.57H201.8" stroke="#A2142F" stroke-width="0.75"/></g><g opacity="0.62"><circle cx="192.3" cy="333.57" r="1.9" fill="none" stroke="#A2142F" stroke-width="0.7"/></g><text class="lt" transform="translate(203.5 335.87) scale(0.87 1)">LEGFF: 0.8817</text><g opacity="0.55"><path d="M182.8 340.49H201.8" stroke="#0072BD" stroke-width="0.75"/></g><g opacity="0.62"><polygon points="192.3,338.19 191.65,339.36 190.31,339.34 191,340.49 190.31,341.64 191.65,341.61 192.3,342.79 192.95,341.61 194.29,341.64 193.6,340.49 194.29,339.34 192.95,339.36" fill="#0072BD" stroke="#0072BD" stroke-width="0.3"/></g><text class="lt" transform="translate(203.5 342.79) scale(0.87 1)">ZMFF: 0.9013</text><g opacity="0.55"><path d="M182.8 347.4H201.8" stroke="#D95319" stroke-width="0.75"/></g><g opacity="0.62"><circle cx="192.3" cy="347.4" r="1.6" fill="#D95319" stroke="#D95319" stroke-width="0.5"/></g><text class="lt" transform="translate(203.5 349.7) scale(0.87 1)">Proposed: 0.9538</text>
<path d="M304.7 199.5V353.2M342.9 199.5V353.2M381.1 199.5V353.2M266.5 333.99H419.3M266.5 314.77H419.3M266.5 295.56H419.3M266.5 276.35H419.3M266.5 257.14H419.3M266.5 237.92H419.3M266.5 218.71H419.3" stroke="#dcdcdc" stroke-width="0.6" fill="none"/>
<g opacity="0.55"><polyline points="274.14,222.94 281.78,226.97 289.42,227.74 297.06,228.7 304.7,232.55 312.34,231.78 319.98,232.55 327.62,224.67 335.26,217.37 342.9,230.24 350.54,224.67 358.18,229.47 365.82,220.63 373.46,221.4 381.1,214.29 388.74,224.67 396.38,220.63 404.02,231.78 411.66,218.14 419.3,226.21" fill="none" stroke="#0072BD" stroke-width="0.75" stroke-linejoin="round"/></g>
<g opacity="0.62"><circle cx="274.14" cy="222.94" r="1.2" fill="#0072BD" stroke="#0072BD" stroke-width="0.4"/><circle cx="281.78" cy="226.97" r="1.2" fill="#0072BD" stroke="#0072BD" stroke-width="0.4"/><circle cx="289.42" cy="227.74" r="1.2" fill="#0072BD" stroke="#0072BD" stroke-width="0.4"/><circle cx="297.06" cy="228.7" r="1.2" fill="#0072BD" stroke="#0072BD" stroke-width="0.4"/><circle cx="304.7" cy="232.55" r="1.2" fill="#0072BD" stroke="#0072BD" stroke-width="0.4"/><circle cx="312.34" cy="231.78" r="1.2" fill="#0072BD" stroke="#0072BD" stroke-width="0.4"/><circle cx="319.98" cy="232.55" r="1.2" fill="#0072BD" stroke="#0072BD" stroke-width="0.4"/><circle cx="327.62" cy="224.67" r="1.2" fill="#0072BD" stroke="#0072BD" stroke-width="0.4"/><circle cx="335.26" cy="217.37" r="1.2" fill="#0072BD" stroke="#0072BD" stroke-width="0.4"/><circle cx="342.9" cy="230.24" r="1.2" fill="#0072BD" stroke="#0072BD" stroke-width="0.4"/><circle cx="350.54" cy="224.67" r="1.2" fill="#0072BD" stroke="#0072BD" stroke-width="0.4"/><circle cx="358.18" cy="229.47" r="1.2" fill="#0072BD" stroke="#0072BD" stroke-width="0.4"/><circle cx="365.82" cy="220.63" r="1.2" fill="#0072BD" stroke="#0072BD" stroke-width="0.4"/><circle cx="373.46" cy="221.4" r="1.2" fill="#0072BD" stroke="#0072BD" stroke-width="0.4"/><circle cx="381.1" cy="214.29" r="1.2" fill="#0072BD" stroke="#0072BD" stroke-width="0.4"/><circle cx="388.74" cy="224.67" r="1.2" fill="#0072BD" stroke="#0072BD" stroke-width="0.4"/><circle cx="396.38" cy="220.63" r="1.2" fill="#0072BD" stroke="#0072BD" stroke-width="0.4"/><circle cx="404.02" cy="231.78" r="1.2" fill="#0072BD" stroke="#0072BD" stroke-width="0.4"/><circle cx="411.66" cy="218.14" r="1.2" fill="#0072BD" stroke="#0072BD" stroke-width="0.4"/><circle cx="419.3" cy="226.21" r="1.2" fill="#0072BD" stroke="#0072BD" stroke-width="0.4"/></g>
<g opacity="0.55"><polyline points="274.14,221.4 281.78,224.86 289.42,224.86 297.06,225.44 304.7,229.66 312.34,229.09 319.98,229.66 327.62,222.94 335.26,215.25 342.9,229.47 350.54,221.02 358.18,226.97 365.82,216.6 373.46,219.48 381.1,212.18 388.74,221.4 396.38,216.6 404.02,229.09 411.66,215.25 419.3,222.94" fill="none" stroke="#D95319" stroke-width="0.75" stroke-linejoin="round"/></g>
<g opacity="0.62"><circle cx="274.14" cy="221.4" r="1.9" fill="none" stroke="#D95319" stroke-width="0.7"/><circle cx="281.78" cy="224.86" r="1.9" fill="none" stroke="#D95319" stroke-width="0.7"/><circle cx="289.42" cy="224.86" r="1.9" fill="none" stroke="#D95319" stroke-width="0.7"/><circle cx="297.06" cy="225.44" r="1.9" fill="none" stroke="#D95319" stroke-width="0.7"/><circle cx="304.7" cy="229.66" r="1.9" fill="none" stroke="#D95319" stroke-width="0.7"/><circle cx="312.34" cy="229.09" r="1.9" fill="none" stroke="#D95319" stroke-width="0.7"/><circle cx="319.98" cy="229.66" r="1.9" fill="none" stroke="#D95319" stroke-width="0.7"/><circle cx="327.62" cy="222.94" r="1.9" fill="none" stroke="#D95319" stroke-width="0.7"/><circle cx="335.26" cy="215.25" r="1.9" fill="none" stroke="#D95319" stroke-width="0.7"/><circle cx="342.9" cy="229.47" r="1.9" fill="none" stroke="#D95319" stroke-width="0.7"/><circle cx="350.54" cy="221.02" r="1.9" fill="none" stroke="#D95319" stroke-width="0.7"/><circle cx="358.18" cy="226.97" r="1.9" fill="none" stroke="#D95319" stroke-width="0.7"/><circle cx="365.82" cy="216.6" r="1.9" fill="none" stroke="#D95319" stroke-width="0.7"/><circle cx="373.46" cy="219.48" r="1.9" fill="none" stroke="#D95319" stroke-width="0.7"/><circle cx="381.1" cy="212.18" r="1.9" fill="none" stroke="#D95319" stroke-width="0.7"/><circle cx="388.74" cy="221.4" r="1.9" fill="none" stroke="#D95319" stroke-width="0.7"/><circle cx="396.38" cy="216.6" r="1.9" fill="none" stroke="#D95319" stroke-width="0.7"/><circle cx="404.02" cy="229.09" r="1.9" fill="none" stroke="#D95319" stroke-width="0.7"/><circle cx="411.66" cy="215.25" r="1.9" fill="none" stroke="#D95319" stroke-width="0.7"/><circle cx="419.3" cy="222.94" r="1.9" fill="none" stroke="#D95319" stroke-width="0.7"/></g>
<g opacity="0.55"><polyline points="274.14,227.93 281.78,229.86 289.42,234.08 297.06,255.6 304.7,234.08 312.34,236 319.98,237.92 327.62,257.14 335.26,222.56 342.9,243.11 350.54,231.01 358.18,230.24 365.82,224.48 373.46,223.13 381.1,214.29 388.74,233.51 396.38,236 404.02,243.11 411.66,221.4 419.3,232.16" fill="none" stroke="#EDB120" stroke-width="0.75" stroke-linejoin="round"/></g>
<g opacity="0.62"><rect x="272.44" y="226.23" width="3.4" height="3.4" fill="none" stroke="#EDB120" stroke-width="0.7"/><rect x="280.08" y="228.16" width="3.4" height="3.4" fill="none" stroke="#EDB120" stroke-width="0.7"/><rect x="287.72" y="232.38" width="3.4" height="3.4" fill="none" stroke="#EDB120" stroke-width="0.7"/><rect x="295.36" y="253.9" width="3.4" height="3.4" fill="none" stroke="#EDB120" stroke-width="0.7"/><rect x="303" y="232.38" width="3.4" height="3.4" fill="none" stroke="#EDB120" stroke-width="0.7"/><rect x="310.64" y="234.3" width="3.4" height="3.4" fill="none" stroke="#EDB120" stroke-width="0.7"/><rect x="318.28" y="236.22" width="3.4" height="3.4" fill="none" stroke="#EDB120" stroke-width="0.7"/><rect x="325.92" y="255.44" width="3.4" height="3.4" fill="none" stroke="#EDB120" stroke-width="0.7"/><rect x="333.56" y="220.86" width="3.4" height="3.4" fill="none" stroke="#EDB120" stroke-width="0.7"/><rect x="341.2" y="241.41" width="3.4" height="3.4" fill="none" stroke="#EDB120" stroke-width="0.7"/><rect x="348.84" y="229.31" width="3.4" height="3.4" fill="none" stroke="#EDB120" stroke-width="0.7"/><rect x="356.48" y="228.54" width="3.4" height="3.4" fill="none" stroke="#EDB120" stroke-width="0.7"/><rect x="364.12" y="222.78" width="3.4" height="3.4" fill="none" stroke="#EDB120" stroke-width="0.7"/><rect x="371.76" y="221.43" width="3.4" height="3.4" fill="none" stroke="#EDB120" stroke-width="0.7"/><rect x="379.4" y="212.59" width="3.4" height="3.4" fill="none" stroke="#EDB120" stroke-width="0.7"/><rect x="387.04" y="231.81" width="3.4" height="3.4" fill="none" stroke="#EDB120" stroke-width="0.7"/><rect x="394.68" y="234.3" width="3.4" height="3.4" fill="none" stroke="#EDB120" stroke-width="0.7"/><rect x="402.32" y="241.41" width="3.4" height="3.4" fill="none" stroke="#EDB120" stroke-width="0.7"/><rect x="409.96" y="219.7" width="3.4" height="3.4" fill="none" stroke="#EDB120" stroke-width="0.7"/><rect x="417.6" y="230.46" width="3.4" height="3.4" fill="none" stroke="#EDB120" stroke-width="0.7"/></g>
<g opacity="0.55"><polyline points="274.14,221.02 281.78,224.48 289.42,224.48 297.06,225.05 304.7,229.28 312.34,228.7 319.98,229.28 327.62,222.56 335.26,214.87 342.9,229.09 350.54,220.63 358.18,226.59 365.82,216.21 373.46,219.1 381.1,211.8 388.74,218.71 396.38,216.21 404.02,228.7 411.66,214.87 419.3,222.56" fill="none" stroke="#7E2F8E" stroke-width="0.75" stroke-linejoin="round"/></g>
<g opacity="0.62"><path d="M274.14 218.82L275.9 221.02L274.14 223.22L272.38 221.02Z" fill="none" stroke="#7E2F8E" stroke-width="0.7"/><path d="M281.78 222.28L283.54 224.48L281.78 226.68L280.02 224.48Z" fill="none" stroke="#7E2F8E" stroke-width="0.7"/><path d="M289.42 222.28L291.18 224.48L289.42 226.68L287.66 224.48Z" fill="none" stroke="#7E2F8E" stroke-width="0.7"/><path d="M297.06 222.85L298.82 225.05L297.06 227.25L295.3 225.05Z" fill="none" stroke="#7E2F8E" stroke-width="0.7"/><path d="M304.7 227.08L306.46 229.28L304.7 231.48L302.94 229.28Z" fill="none" stroke="#7E2F8E" stroke-width="0.7"/><path d="M312.34 226.5L314.1 228.7L312.34 230.9L310.58 228.7Z" fill="none" stroke="#7E2F8E" stroke-width="0.7"/><path d="M319.98 227.08L321.74 229.28L319.98 231.48L318.22 229.28Z" fill="none" stroke="#7E2F8E" stroke-width="0.7"/><path d="M327.62 220.36L329.38 222.56L327.62 224.76L325.86 222.56Z" fill="none" stroke="#7E2F8E" stroke-width="0.7"/><path d="M335.26 212.67L337.02 214.87L335.26 217.07L333.5 214.87Z" fill="none" stroke="#7E2F8E" stroke-width="0.7"/><path d="M342.9 226.89L344.66 229.09L342.9 231.29L341.14 229.09Z" fill="none" stroke="#7E2F8E" stroke-width="0.7"/><path d="M350.54 218.43L352.3 220.63L350.54 222.83L348.78 220.63Z" fill="none" stroke="#7E2F8E" stroke-width="0.7"/><path d="M358.18 224.39L359.94 226.59L358.18 228.79L356.42 226.59Z" fill="none" stroke="#7E2F8E" stroke-width="0.7"/><path d="M365.82 214.01L367.58 216.21L365.82 218.41L364.06 216.21Z" fill="none" stroke="#7E2F8E" stroke-width="0.7"/><path d="M373.46 216.9L375.22 219.1L373.46 221.3L371.7 219.1Z" fill="none" stroke="#7E2F8E" stroke-width="0.7"/><path d="M381.1 209.6L382.86 211.8L381.1 214L379.34 211.8Z" fill="none" stroke="#7E2F8E" stroke-width="0.7"/><path d="M388.74 216.51L390.5 218.71L388.74 220.91L386.98 218.71Z" fill="none" stroke="#7E2F8E" stroke-width="0.7"/><path d="M396.38 214.01L398.14 216.21L396.38 218.41L394.62 216.21Z" fill="none" stroke="#7E2F8E" stroke-width="0.7"/><path d="M404.02 226.5L405.78 228.7L404.02 230.9L402.26 228.7Z" fill="none" stroke="#7E2F8E" stroke-width="0.7"/><path d="M411.66 212.67L413.42 214.87L411.66 217.07L409.9 214.87Z" fill="none" stroke="#7E2F8E" stroke-width="0.7"/><path d="M419.3 220.36L421.06 222.56L419.3 224.76L417.54 222.56Z" fill="none" stroke="#7E2F8E" stroke-width="0.7"/></g>
<g opacity="0.55"><polyline points="274.14,270.39 281.78,280.19 289.42,292.49 297.06,315.54 304.7,306.71 312.34,325.15 319.98,294.99 327.62,267.32 335.26,321.12 342.9,276.35 350.54,338.6 358.18,292.87 365.82,327.26 373.46,318.62 381.1,277.31 388.74,280.19 396.38,295.56 404.02,296.52 411.66,321.12 419.3,315.54" fill="none" stroke="#77AC30" stroke-width="0.75" stroke-linejoin="round"/></g>
<g opacity="0.62"><path d="M272.94 269.19L275.34 271.59M272.94 271.59L275.34 269.19" stroke="#77AC30" stroke-width="0.6"/><path d="M280.58 278.99L282.98 281.39M280.58 281.39L282.98 278.99" stroke="#77AC30" stroke-width="0.6"/><path d="M288.22 291.29L290.62 293.69M288.22 293.69L290.62 291.29" stroke="#77AC30" stroke-width="0.6"/><path d="M295.86 314.34L298.26 316.74M295.86 316.74L298.26 314.34" stroke="#77AC30" stroke-width="0.6"/><path d="M303.5 305.51L305.9 307.91M303.5 307.91L305.9 305.51" stroke="#77AC30" stroke-width="0.6"/><path d="M311.14 323.95L313.54 326.35M311.14 326.35L313.54 323.95" stroke="#77AC30" stroke-width="0.6"/><path d="M318.78 293.79L321.18 296.19M318.78 296.19L321.18 293.79" stroke="#77AC30" stroke-width="0.6"/><path d="M326.42 266.12L328.82 268.52M326.42 268.52L328.82 266.12" stroke="#77AC30" stroke-width="0.6"/><path d="M334.06 319.92L336.46 322.32M334.06 322.32L336.46 319.92" stroke="#77AC30" stroke-width="0.6"/><path d="M341.7 275.15L344.1 277.55M341.7 277.55L344.1 275.15" stroke="#77AC30" stroke-width="0.6"/><path d="M349.34 337.4L351.74 339.8M349.34 339.8L351.74 337.4" stroke="#77AC30" stroke-width="0.6"/><path d="M356.98 291.67L359.38 294.07M356.98 294.07L359.38 291.67" stroke="#77AC30" stroke-width="0.6"/><path d="M364.62 326.06L367.02 328.46M364.62 328.46L367.02 326.06" stroke="#77AC30" stroke-width="0.6"/><path d="M372.26 317.42L374.66 319.82M372.26 319.82L374.66 317.42" stroke="#77AC30" stroke-width="0.6"/><path d="M379.9 276.11L382.3 278.51M379.9 278.51L382.3 276.11" stroke="#77AC30" stroke-width="0.6"/><path d="M387.54 278.99L389.94 281.39M387.54 281.39L389.94 278.99" stroke="#77AC30" stroke-width="0.6"/><path d="M395.18 294.36L397.58 296.76M395.18 296.76L397.58 294.36" stroke="#77AC30" stroke-width="0.6"/><path d="M402.82 295.32L405.22 297.72M402.82 297.72L405.22 295.32" stroke="#77AC30" stroke-width="0.6"/><path d="M410.46 319.92L412.86 322.32M410.46 322.32L412.86 319.92" stroke="#77AC30" stroke-width="0.6"/><path d="M418.1 314.34L420.5 316.74M418.1 316.74L420.5 314.34" stroke="#77AC30" stroke-width="0.6"/></g>
<g opacity="0.55"><polyline points="274.14,237.92 281.78,259.83 289.42,237.92 297.06,240.61 304.7,243.11 312.34,244.65 319.98,253.3 327.62,241.77 335.26,228.32 342.9,251.76 350.54,237.92 358.18,241.77 365.82,241.77 373.46,241.77 381.1,241.77 388.74,243.11 396.38,225.44 404.02,252.72 411.66,223.9 419.3,236" fill="none" stroke="#4DBEEE" stroke-width="0.75" stroke-linejoin="round"/></g>
<g opacity="0.62"><path d="M271.94 236.38L276.34 236.38L274.14 240.12Z" fill="none" stroke="#4DBEEE" stroke-width="0.7"/><path d="M279.58 258.29L283.98 258.29L281.78 262.03Z" fill="none" stroke="#4DBEEE" stroke-width="0.7"/><path d="M287.22 236.38L291.62 236.38L289.42 240.12Z" fill="none" stroke="#4DBEEE" stroke-width="0.7"/><path d="M294.86 239.07L299.26 239.07L297.06 242.81Z" fill="none" stroke="#4DBEEE" stroke-width="0.7"/><path d="M302.5 241.57L306.9 241.57L304.7 245.31Z" fill="none" stroke="#4DBEEE" stroke-width="0.7"/><path d="M310.14 243.11L314.54 243.11L312.34 246.85Z" fill="none" stroke="#4DBEEE" stroke-width="0.7"/><path d="M317.78 251.76L322.18 251.76L319.98 255.5Z" fill="none" stroke="#4DBEEE" stroke-width="0.7"/><path d="M325.42 240.23L329.82 240.23L327.62 243.97Z" fill="none" stroke="#4DBEEE" stroke-width="0.7"/><path d="M333.06 226.78L337.46 226.78L335.26 230.52Z" fill="none" stroke="#4DBEEE" stroke-width="0.7"/><path d="M340.7 250.22L345.1 250.22L342.9 253.96Z" fill="none" stroke="#4DBEEE" stroke-width="0.7"/><path d="M348.34 236.38L352.74 236.38L350.54 240.12Z" fill="none" stroke="#4DBEEE" stroke-width="0.7"/><path d="M355.98 240.23L360.38 240.23L358.18 243.97Z" fill="none" stroke="#4DBEEE" stroke-width="0.7"/><path d="M363.62 240.23L368.02 240.23L365.82 243.97Z" fill="none" stroke="#4DBEEE" stroke-width="0.7"/><path d="M371.26 240.23L375.66 240.23L373.46 243.97Z" fill="none" stroke="#4DBEEE" stroke-width="0.7"/><path d="M378.9 240.23L383.3 240.23L381.1 243.97Z" fill="none" stroke="#4DBEEE" stroke-width="0.7"/><path d="M386.54 241.57L390.94 241.57L388.74 245.31Z" fill="none" stroke="#4DBEEE" stroke-width="0.7"/><path d="M394.18 223.9L398.58 223.9L396.38 227.64Z" fill="none" stroke="#4DBEEE" stroke-width="0.7"/><path d="M401.82 251.18L406.22 251.18L404.02 254.92Z" fill="none" stroke="#4DBEEE" stroke-width="0.7"/><path d="M409.46 222.36L413.86 222.36L411.66 226.1Z" fill="none" stroke="#4DBEEE" stroke-width="0.7"/><path d="M417.1 234.46L421.5 234.46L419.3 238.2Z" fill="none" stroke="#4DBEEE" stroke-width="0.7"/></g>
<g opacity="0.55"><polyline points="274.14,233.51 281.78,239.08 289.42,230.24 297.06,231.01 304.7,232.16 312.34,234.08 319.98,236.58 327.62,243.11 335.26,231.01 342.9,266.74 350.54,229.47 358.18,242.73 365.82,233.7 373.46,237.54 381.1,233.51 388.74,220.63 396.38,221.4 404.02,235.04 411.66,220.63 419.3,224.48" fill="none" stroke="#A2142F" stroke-width="0.75" stroke-linejoin="round"/></g>
<g opacity="0.62"><circle cx="274.14" cy="233.51" r="1.9" fill="none" stroke="#A2142F" stroke-width="0.7"/><circle cx="281.78" cy="239.08" r="1.9" fill="none" stroke="#A2142F" stroke-width="0.7"/><circle cx="289.42" cy="230.24" r="1.9" fill="none" stroke="#A2142F" stroke-width="0.7"/><circle cx="297.06" cy="231.01" r="1.9" fill="none" stroke="#A2142F" stroke-width="0.7"/><circle cx="304.7" cy="232.16" r="1.9" fill="none" stroke="#A2142F" stroke-width="0.7"/><circle cx="312.34" cy="234.08" r="1.9" fill="none" stroke="#A2142F" stroke-width="0.7"/><circle cx="319.98" cy="236.58" r="1.9" fill="none" stroke="#A2142F" stroke-width="0.7"/><circle cx="327.62" cy="243.11" r="1.9" fill="none" stroke="#A2142F" stroke-width="0.7"/><circle cx="335.26" cy="231.01" r="1.9" fill="none" stroke="#A2142F" stroke-width="0.7"/><circle cx="342.9" cy="266.74" r="1.9" fill="none" stroke="#A2142F" stroke-width="0.7"/><circle cx="350.54" cy="229.47" r="1.9" fill="none" stroke="#A2142F" stroke-width="0.7"/><circle cx="358.18" cy="242.73" r="1.9" fill="none" stroke="#A2142F" stroke-width="0.7"/><circle cx="365.82" cy="233.7" r="1.9" fill="none" stroke="#A2142F" stroke-width="0.7"/><circle cx="373.46" cy="237.54" r="1.9" fill="none" stroke="#A2142F" stroke-width="0.7"/><circle cx="381.1" cy="233.51" r="1.9" fill="none" stroke="#A2142F" stroke-width="0.7"/><circle cx="388.74" cy="220.63" r="1.9" fill="none" stroke="#A2142F" stroke-width="0.7"/><circle cx="396.38" cy="221.4" r="1.9" fill="none" stroke="#A2142F" stroke-width="0.7"/><circle cx="404.02" cy="235.04" r="1.9" fill="none" stroke="#A2142F" stroke-width="0.7"/><circle cx="411.66" cy="220.63" r="1.9" fill="none" stroke="#A2142F" stroke-width="0.7"/><circle cx="419.3" cy="224.48" r="1.9" fill="none" stroke="#A2142F" stroke-width="0.7"/></g>
<g opacity="0.55"><polyline points="274.14,222.17 281.78,226.21 289.42,226.97 297.06,227.93 304.7,231.78 312.34,231.01 319.98,231.78 327.62,223.9 335.26,216.6 342.9,229.47 350.54,223.9 358.18,228.7 365.82,219.87 373.46,220.63 381.1,213.53 388.74,223.9 396.38,219.87 404.02,231.01 411.66,217.37 419.3,225.44" fill="none" stroke="#0072BD" stroke-width="0.75" stroke-linejoin="round"/></g>
<g opacity="0.62"><polygon points="274.14,219.87 273.49,221.04 272.15,221.02 272.84,222.17 272.15,223.32 273.49,223.3 274.14,224.47 274.79,223.3 276.13,223.32 275.44,222.17 276.13,221.02 274.79,221.04" fill="#0072BD" stroke="#0072BD" stroke-width="0.3"/><polygon points="281.78,223.91 281.13,225.08 279.79,225.06 280.48,226.21 279.79,227.36 281.13,227.33 281.78,228.51 282.43,227.33 283.77,227.36 283.08,226.21 283.77,225.06 282.43,225.08" fill="#0072BD" stroke="#0072BD" stroke-width="0.3"/><polygon points="289.42,224.67 288.77,225.85 287.43,225.82 288.12,226.97 287.43,228.12 288.77,228.1 289.42,229.27 290.07,228.1 291.41,228.12 290.72,226.97 291.41,225.82 290.07,225.85" fill="#0072BD" stroke="#0072BD" stroke-width="0.3"/><polygon points="297.06,225.63 296.41,226.81 295.07,226.78 295.76,227.93 295.07,229.08 296.41,229.06 297.06,230.23 297.71,229.06 299.05,229.08 298.36,227.93 299.05,226.78 297.71,226.81" fill="#0072BD" stroke="#0072BD" stroke-width="0.3"/><polygon points="304.7,229.48 304.05,230.65 302.71,230.63 303.4,231.78 302.71,232.93 304.05,232.9 304.7,234.08 305.35,232.9 306.69,232.93 306,231.78 306.69,230.63 305.35,230.65" fill="#0072BD" stroke="#0072BD" stroke-width="0.3"/><polygon points="312.34,228.71 311.69,229.88 310.35,229.86 311.04,231.01 310.35,232.16 311.69,232.13 312.34,233.31 312.99,232.13 314.33,232.16 313.64,231.01 314.33,229.86 312.99,229.88" fill="#0072BD" stroke="#0072BD" stroke-width="0.3"/><polygon points="319.98,229.48 319.33,230.65 317.99,230.63 318.68,231.78 317.99,232.93 319.33,232.9 319.98,234.08 320.63,232.9 321.97,232.93 321.28,231.78 321.97,230.63 320.63,230.65" fill="#0072BD" stroke="#0072BD" stroke-width="0.3"/><polygon points="327.62,221.6 326.97,222.77 325.63,222.75 326.32,223.9 325.63,225.05 326.97,225.03 327.62,226.2 328.27,225.03 329.61,225.05 328.92,223.9 329.61,222.75 328.27,222.77" fill="#0072BD" stroke="#0072BD" stroke-width="0.3"/><polygon points="335.26,214.3 334.61,215.47 333.27,215.45 333.96,216.6 333.27,217.75 334.61,217.72 335.26,218.9 335.91,217.72 337.25,217.75 336.56,216.6 337.25,215.45 335.91,215.47" fill="#0072BD" stroke="#0072BD" stroke-width="0.3"/><polygon points="342.9,227.17 342.25,228.35 340.91,228.32 341.6,229.47 340.91,230.62 342.25,230.6 342.9,231.77 343.55,230.6 344.89,230.62 344.2,229.47 344.89,228.32 343.55,228.35" fill="#0072BD" stroke="#0072BD" stroke-width="0.3"/><polygon points="350.54,221.6 349.89,222.77 348.55,222.75 349.24,223.9 348.55,225.05 349.89,225.03 350.54,226.2 351.19,225.03 352.53,225.05 351.84,223.9 352.53,222.75 351.19,222.77" fill="#0072BD" stroke="#0072BD" stroke-width="0.3"/><polygon points="358.18,226.4 357.53,227.58 356.19,227.55 356.88,228.7 356.19,229.85 357.53,229.83 358.18,231 358.83,229.83 360.17,229.85 359.48,228.7 360.17,227.55 358.83,227.58" fill="#0072BD" stroke="#0072BD" stroke-width="0.3"/><polygon points="365.82,217.57 365.17,218.74 363.83,218.72 364.52,219.87 363.83,221.02 365.17,220.99 365.82,222.17 366.47,220.99 367.81,221.02 367.12,219.87 367.81,218.72 366.47,218.74" fill="#0072BD" stroke="#0072BD" stroke-width="0.3"/><polygon points="373.46,218.33 372.81,219.51 371.47,219.48 372.16,220.63 371.47,221.78 372.81,221.76 373.46,222.93 374.11,221.76 375.45,221.78 374.76,220.63 375.45,219.48 374.11,219.51" fill="#0072BD" stroke="#0072BD" stroke-width="0.3"/><polygon points="381.1,211.23 380.45,212.4 379.11,212.38 379.8,213.53 379.11,214.68 380.45,214.65 381.1,215.83 381.75,214.65 383.09,214.68 382.4,213.53 383.09,212.38 381.75,212.4" fill="#0072BD" stroke="#0072BD" stroke-width="0.3"/><polygon points="388.74,221.6 388.09,222.77 386.75,222.75 387.44,223.9 386.75,225.05 388.09,225.03 388.74,226.2 389.39,225.03 390.73,225.05 390.04,223.9 390.73,222.75 389.39,222.77" fill="#0072BD" stroke="#0072BD" stroke-width="0.3"/><polygon points="396.38,217.57 395.73,218.74 394.39,218.72 395.08,219.87 394.39,221.02 395.73,220.99 396.38,222.17 397.03,220.99 398.37,221.02 397.68,219.87 398.37,218.72 397.03,218.74" fill="#0072BD" stroke="#0072BD" stroke-width="0.3"/><polygon points="404.02,228.71 403.37,229.88 402.03,229.86 402.72,231.01 402.03,232.16 403.37,232.13 404.02,233.31 404.67,232.13 406.01,232.16 405.32,231.01 406.01,229.86 404.67,229.88" fill="#0072BD" stroke="#0072BD" stroke-width="0.3"/><polygon points="411.66,215.07 411.01,216.24 409.67,216.22 410.36,217.37 409.67,218.52 411.01,218.49 411.66,219.67 412.31,218.49 413.65,218.52 412.96,217.37 413.65,216.22 412.31,216.24" fill="#0072BD" stroke="#0072BD" stroke-width="0.3"/><polygon points="419.3,223.14 418.65,224.31 417.31,224.29 418,225.44 417.31,226.59 418.65,226.56 419.3,227.74 419.95,226.56 421.29,226.59 420.6,225.44 421.29,224.29 419.95,224.31" fill="#0072BD" stroke="#0072BD" stroke-width="0.3"/></g>
<g opacity="0.55"><polyline points="274.14,220.63 281.78,224.09 289.42,224.09 297.06,224.67 304.7,228.9 312.34,228.32 319.98,228.9 327.62,222.17 335.26,214.49 342.9,228.7 350.54,220.25 358.18,226.21 365.82,215.83 373.46,218.71 381.1,211.41 388.74,220.63 396.38,215.83 404.02,228.32 411.66,214.49 419.3,222.17" fill="none" stroke="#D95319" stroke-width="0.75" stroke-linejoin="round"/></g>
<g opacity="0.62"><circle cx="274.14" cy="220.63" r="1.6" fill="#D95319" stroke="#D95319" stroke-width="0.5"/><circle cx="281.78" cy="224.09" r="1.6" fill="#D95319" stroke="#D95319" stroke-width="0.5"/><circle cx="289.42" cy="224.09" r="1.6" fill="#D95319" stroke="#D95319" stroke-width="0.5"/><circle cx="297.06" cy="224.67" r="1.6" fill="#D95319" stroke="#D95319" stroke-width="0.5"/><circle cx="304.7" cy="228.9" r="1.6" fill="#D95319" stroke="#D95319" stroke-width="0.5"/><circle cx="312.34" cy="228.32" r="1.6" fill="#D95319" stroke="#D95319" stroke-width="0.5"/><circle cx="319.98" cy="228.9" r="1.6" fill="#D95319" stroke="#D95319" stroke-width="0.5"/><circle cx="327.62" cy="222.17" r="1.6" fill="#D95319" stroke="#D95319" stroke-width="0.5"/><circle cx="335.26" cy="214.49" r="1.6" fill="#D95319" stroke="#D95319" stroke-width="0.5"/><circle cx="342.9" cy="228.7" r="1.6" fill="#D95319" stroke="#D95319" stroke-width="0.5"/><circle cx="350.54" cy="220.25" r="1.6" fill="#D95319" stroke="#D95319" stroke-width="0.5"/><circle cx="358.18" cy="226.21" r="1.6" fill="#D95319" stroke="#D95319" stroke-width="0.5"/><circle cx="365.82" cy="215.83" r="1.6" fill="#D95319" stroke="#D95319" stroke-width="0.5"/><circle cx="373.46" cy="218.71" r="1.6" fill="#D95319" stroke="#D95319" stroke-width="0.5"/><circle cx="381.1" cy="211.41" r="1.6" fill="#D95319" stroke="#D95319" stroke-width="0.5"/><circle cx="388.74" cy="220.63" r="1.6" fill="#D95319" stroke="#D95319" stroke-width="0.5"/><circle cx="396.38" cy="215.83" r="1.6" fill="#D95319" stroke="#D95319" stroke-width="0.5"/><circle cx="404.02" cy="228.32" r="1.6" fill="#D95319" stroke="#D95319" stroke-width="0.5"/><circle cx="411.66" cy="214.49" r="1.6" fill="#D95319" stroke="#D95319" stroke-width="0.5"/><circle cx="419.3" cy="222.17" r="1.6" fill="#D95319" stroke="#D95319" stroke-width="0.5"/></g>
<rect x="266.5" y="199.5" width="152.8" height="153.7" fill="none" stroke="#333" stroke-width="0.9"/>
<path d="M304.7 353.2v-1.6M304.7 199.5v1.6M342.9 353.2v-1.6M342.9 199.5v1.6M381.1 353.2v-1.6M381.1 199.5v1.6M266.5 333.99h1.6M419.3 333.99h-1.6M266.5 314.77h1.6M419.3 314.77h-1.6M266.5 295.56h1.6M419.3 295.56h-1.6M266.5 276.35h1.6M419.3 276.35h-1.6M266.5 257.14h1.6M419.3 257.14h-1.6M266.5 237.92h1.6M419.3 237.92h-1.6M266.5 218.71h1.6M419.3 218.71h-1.6" stroke="#333" stroke-width="0.8"/>
<g class="tl"><text x="266.5" y="362.7" text-anchor="middle">0</text><text x="304.7" y="362.7" text-anchor="middle">5</text><text x="342.9" y="362.7" text-anchor="middle">10</text><text x="381.1" y="362.7" text-anchor="middle">15</text><text x="419.3" y="362.7" text-anchor="middle">20</text><text x="263.9" y="356.1" text-anchor="end">0.2</text><text x="263.9" y="336.89" text-anchor="end">0.3</text><text x="263.9" y="317.67" text-anchor="end">0.4</text><text x="263.9" y="298.46" text-anchor="end">0.5</text><text x="263.9" y="279.25" text-anchor="end">0.6</text><text x="263.9" y="260.04" text-anchor="end">0.7</text><text x="263.9" y="240.82" text-anchor="end">0.8</text><text x="263.9" y="221.61" text-anchor="end">0.9</text><text x="263.9" y="202.4" text-anchor="end">1</text></g>
<text class="ti" x="342.9" y="194.3" text-anchor="middle">Q<tspan class="sub" dx="0.6" dy="2">E</tspan></text>
<rect x="428" y="287.5" width="66.5" height="65.1" fill="#fff" stroke="#333" stroke-width="0.8"/><g opacity="0.55"><path d="M430.5 292.2H449.5" stroke="#0072BD" stroke-width="0.75"/></g><g opacity="0.62"><circle cx="440" cy="292.2" r="1.2" fill="#0072BD" stroke="#0072BD" stroke-width="0.4"/></g><text class="lt" transform="translate(451.2 294.5) scale(0.87 1)">NSCT: 0.8644</text><g opacity="0.55"><path d="M430.5 299.19H449.5" stroke="#D95319" stroke-width="0.75"/></g><g opacity="0.62"><circle cx="440" cy="299.19" r="1.9" fill="none" stroke="#D95319" stroke-width="0.7"/></g><text class="lt" transform="translate(451.2 301.49) scale(0.87 1)">CVT: 0.8764</text><g opacity="0.55"><path d="M430.5 306.18H449.5" stroke="#EDB120" stroke-width="0.75"/></g><g opacity="0.62"><rect x="438.3" y="304.48" width="3.4" height="3.4" fill="none" stroke="#EDB120" stroke-width="0.7"/></g><text class="lt" transform="translate(451.2 308.48) scale(0.87 1)">NSST: 0.8247</text><g opacity="0.55"><path d="M430.5 313.16H449.5" stroke="#7E2F8E" stroke-width="0.75"/></g><g opacity="0.62"><path d="M440 310.96L441.76 313.16L440 315.36L438.24 313.16Z" fill="none" stroke="#7E2F8E" stroke-width="0.7"/></g><text class="lt" transform="translate(451.2 315.46) scale(0.87 1)">IFCNN: 0.8792</text><g opacity="0.55"><path d="M430.5 320.15H449.5" stroke="#77AC30" stroke-width="0.75"/></g><g opacity="0.62"><path d="M438.8 318.95L441.2 321.35M438.8 321.35L441.2 318.95" stroke="#77AC30" stroke-width="0.6"/></g><text class="lt" transform="translate(451.2 322.45) scale(0.87 1)">PMGI: 0.4736</text><g opacity="0.55"><path d="M430.5 327.14H449.5" stroke="#4DBEEE" stroke-width="0.75"/></g><g opacity="0.62"><path d="M437.8 325.6L442.2 325.6L440 329.34Z" fill="none" stroke="#4DBEEE" stroke-width="0.7"/></g><text class="lt" transform="translate(451.2 329.44) scale(0.87 1)">U2Fusion: 0.7835</text><g opacity="0.55"><path d="M430.5 334.12H449.5" stroke="#A2142F" stroke-width="0.75"/></g><g opacity="0.62"><circle cx="440" cy="334.12" r="1.9" fill="none" stroke="#A2142F" stroke-width="0.7"/></g><text class="lt" transform="translate(451.2 336.43) scale(0.87 1)">LEGFF: 0.8195</text><g opacity="0.55"><path d="M430.5 341.11H449.5" stroke="#0072BD" stroke-width="0.75"/></g><g opacity="0.62"><polygon points="440,338.81 439.35,339.99 438.01,339.96 438.7,341.11 438.01,342.26 439.35,342.24 440,343.41 440.65,342.24 441.99,342.26 441.3,341.11 441.99,339.96 440.65,339.99" fill="#0072BD" stroke="#0072BD" stroke-width="0.3"/></g><text class="lt" transform="translate(451.2 343.41) scale(0.87 1)">ZMFF: 0.8687</text><g opacity="0.55"><path d="M430.5 348.1H449.5" stroke="#D95319" stroke-width="0.75"/></g><g opacity="0.62"><circle cx="440" cy="348.1" r="1.6" fill="#D95319" stroke="#D95319" stroke-width="0.5"/></g><text class="lt" transform="translate(451.2 350.4) scale(0.87 1)">Proposed: 0.8808</text>
<path d="M56.62 380.5V532.7M94.75 380.5V532.7M132.88 380.5V532.7M18.5 510.96H171M18.5 489.21H171M18.5 467.47H171M18.5 445.73H171M18.5 423.99H171M18.5 402.24H171" stroke="#dcdcdc" stroke-width="0.6" fill="none"/>
<g opacity="0.55"><polyline points="26.12,420.29 33.75,421.81 41.38,423.33 49,423.99 56.62,429.64 64.25,425.73 71.88,430.51 79.5,416.38 87.12,410.94 94.75,421.16 102.38,419.64 110,428.12 117.62,412.46 125.25,426.59 132.88,405.29 140.5,432.47 148.12,421.81 155.75,428.12 163.38,415.51 171,435.29" fill="none" stroke="#0072BD" stroke-width="0.75" stroke-linejoin="round"/></g>
<g opacity="0.62"><circle cx="26.12" cy="420.29" r="1.2" fill="#0072BD" stroke="#0072BD" stroke-width="0.4"/><circle cx="33.75" cy="421.81" r="1.2" fill="#0072BD" stroke="#0072BD" stroke-width="0.4"/><circle cx="41.38" cy="423.33" r="1.2" fill="#0072BD" stroke="#0072BD" stroke-width="0.4"/><circle cx="49" cy="423.99" r="1.2" fill="#0072BD" stroke="#0072BD" stroke-width="0.4"/><circle cx="56.62" cy="429.64" r="1.2" fill="#0072BD" stroke="#0072BD" stroke-width="0.4"/><circle cx="64.25" cy="425.73" r="1.2" fill="#0072BD" stroke="#0072BD" stroke-width="0.4"/><circle cx="71.88" cy="430.51" r="1.2" fill="#0072BD" stroke="#0072BD" stroke-width="0.4"/><circle cx="79.5" cy="416.38" r="1.2" fill="#0072BD" stroke="#0072BD" stroke-width="0.4"/><circle cx="87.12" cy="410.94" r="1.2" fill="#0072BD" stroke="#0072BD" stroke-width="0.4"/><circle cx="94.75" cy="421.16" r="1.2" fill="#0072BD" stroke="#0072BD" stroke-width="0.4"/><circle cx="102.38" cy="419.64" r="1.2" fill="#0072BD" stroke="#0072BD" stroke-width="0.4"/><circle cx="110" cy="428.12" r="1.2" fill="#0072BD" stroke="#0072BD" stroke-width="0.4"/><circle cx="117.62" cy="412.46" r="1.2" fill="#0072BD" stroke="#0072BD" stroke-width="0.4"/><circle cx="125.25" cy="426.59" r="1.2" fill="#0072BD" stroke="#0072BD" stroke-width="0.4"/><circle cx="132.88" cy="405.29" r="1.2" fill="#0072BD" stroke="#0072BD" stroke-width="0.4"/><circle cx="140.5" cy="432.47" r="1.2" fill="#0072BD" stroke="#0072BD" stroke-width="0.4"/><circle cx="148.12" cy="421.81" r="1.2" fill="#0072BD" stroke="#0072BD" stroke-width="0.4"/><circle cx="155.75" cy="428.12" r="1.2" fill="#0072BD" stroke="#0072BD" stroke-width="0.4"/><circle cx="163.38" cy="415.51" r="1.2" fill="#0072BD" stroke="#0072BD" stroke-width="0.4"/><circle cx="171" cy="435.29" r="1.2" fill="#0072BD" stroke="#0072BD" stroke-width="0.4"/></g>
<g opacity="0.55"><polyline points="26.12,419.2 33.75,417.68 41.38,422.46 49,422.03 56.62,425.29 64.25,422.03 71.88,426.38 79.5,412.24 87.12,408.98 94.75,416.81 102.38,414.85 110,421.59 117.62,407.9 125.25,416.81 132.88,402.68 140.5,430.94 148.12,417.68 155.75,422.46 163.38,412.24 171,430.29" fill="none" stroke="#D95319" stroke-width="0.75" stroke-linejoin="round"/></g>
<g opacity="0.62"><circle cx="26.12" cy="419.2" r="1.9" fill="none" stroke="#D95319" stroke-width="0.7"/><circle cx="33.75" cy="417.68" r="1.9" fill="none" stroke="#D95319" stroke-width="0.7"/><circle cx="41.38" cy="422.46" r="1.9" fill="none" stroke="#D95319" stroke-width="0.7"/><circle cx="49" cy="422.03" r="1.9" fill="none" stroke="#D95319" stroke-width="0.7"/><circle cx="56.62" cy="425.29" r="1.9" fill="none" stroke="#D95319" stroke-width="0.7"/><circle cx="64.25" cy="422.03" r="1.9" fill="none" stroke="#D95319" stroke-width="0.7"/><circle cx="71.88" cy="426.38" r="1.9" fill="none" stroke="#D95319" stroke-width="0.7"/><circle cx="79.5" cy="412.24" r="1.9" fill="none" stroke="#D95319" stroke-width="0.7"/><circle cx="87.12" cy="408.98" r="1.9" fill="none" stroke="#D95319" stroke-width="0.7"/><circle cx="94.75" cy="416.81" r="1.9" fill="none" stroke="#D95319" stroke-width="0.7"/><circle cx="102.38" cy="414.85" r="1.9" fill="none" stroke="#D95319" stroke-width="0.7"/><circle cx="110" cy="421.59" r="1.9" fill="none" stroke="#D95319" stroke-width="0.7"/><circle cx="117.62" cy="407.9" r="1.9" fill="none" stroke="#D95319" stroke-width="0.7"/><circle cx="125.25" cy="416.81" r="1.9" fill="none" stroke="#D95319" stroke-width="0.7"/><circle cx="132.88" cy="402.68" r="1.9" fill="none" stroke="#D95319" stroke-width="0.7"/><circle cx="140.5" cy="430.94" r="1.9" fill="none" stroke="#D95319" stroke-width="0.7"/><circle cx="148.12" cy="417.68" r="1.9" fill="none" stroke="#D95319" stroke-width="0.7"/><circle cx="155.75" cy="422.46" r="1.9" fill="none" stroke="#D95319" stroke-width="0.7"/><circle cx="163.38" cy="412.24" r="1.9" fill="none" stroke="#D95319" stroke-width="0.7"/><circle cx="171" cy="430.29" r="1.9" fill="none" stroke="#D95319" stroke-width="0.7"/></g>
<g opacity="0.55"><polyline points="26.12,441.81 33.75,432.03 41.38,437.68 49,447.03 56.62,437.03 64.25,433.77 71.88,440.73 79.5,427.46 87.12,421.81 94.75,425.07 102.38,431.38 110,428.99 117.62,410.07 125.25,418.77 132.88,407.03 140.5,440.73 148.12,436.81 155.75,450.95 163.38,425.07 171,439.21" fill="none" stroke="#EDB120" stroke-width="0.75" stroke-linejoin="round"/></g>
<g opacity="0.62"><rect x="24.43" y="440.11" width="3.4" height="3.4" fill="none" stroke="#EDB120" stroke-width="0.7"/><rect x="32.05" y="430.33" width="3.4" height="3.4" fill="none" stroke="#EDB120" stroke-width="0.7"/><rect x="39.67" y="435.98" width="3.4" height="3.4" fill="none" stroke="#EDB120" stroke-width="0.7"/><rect x="47.3" y="445.33" width="3.4" height="3.4" fill="none" stroke="#EDB120" stroke-width="0.7"/><rect x="54.92" y="435.33" width="3.4" height="3.4" fill="none" stroke="#EDB120" stroke-width="0.7"/><rect x="62.55" y="432.07" width="3.4" height="3.4" fill="none" stroke="#EDB120" stroke-width="0.7"/><rect x="70.17" y="439.03" width="3.4" height="3.4" fill="none" stroke="#EDB120" stroke-width="0.7"/><rect x="77.8" y="425.76" width="3.4" height="3.4" fill="none" stroke="#EDB120" stroke-width="0.7"/><rect x="85.42" y="420.11" width="3.4" height="3.4" fill="none" stroke="#EDB120" stroke-width="0.7"/><rect x="93.05" y="423.37" width="3.4" height="3.4" fill="none" stroke="#EDB120" stroke-width="0.7"/><rect x="100.67" y="429.68" width="3.4" height="3.4" fill="none" stroke="#EDB120" stroke-width="0.7"/><rect x="108.3" y="427.29" width="3.4" height="3.4" fill="none" stroke="#EDB120" stroke-width="0.7"/><rect x="115.92" y="408.37" width="3.4" height="3.4" fill="none" stroke="#EDB120" stroke-width="0.7"/><rect x="123.55" y="417.07" width="3.4" height="3.4" fill="none" stroke="#EDB120" stroke-width="0.7"/><rect x="131.18" y="405.33" width="3.4" height="3.4" fill="none" stroke="#EDB120" stroke-width="0.7"/><rect x="138.8" y="439.03" width="3.4" height="3.4" fill="none" stroke="#EDB120" stroke-width="0.7"/><rect x="146.43" y="435.11" width="3.4" height="3.4" fill="none" stroke="#EDB120" stroke-width="0.7"/><rect x="154.05" y="449.25" width="3.4" height="3.4" fill="none" stroke="#EDB120" stroke-width="0.7"/><rect x="161.68" y="423.37" width="3.4" height="3.4" fill="none" stroke="#EDB120" stroke-width="0.7"/><rect x="169.3" y="437.51" width="3.4" height="3.4" fill="none" stroke="#EDB120" stroke-width="0.7"/></g>
<g opacity="0.55"><polyline points="26.12,418.55 33.75,417.03 41.38,421.81 49,421.38 56.62,424.64 64.25,421.38 71.88,425.73 79.5,411.59 87.12,408.33 94.75,419.64 102.38,414.2 110,420.94 117.62,407.24 125.25,416.16 132.88,402.03 140.5,411.59 148.12,417.03 155.75,421.81 163.38,411.59 171,429.64" fill="none" stroke="#7E2F8E" stroke-width="0.75" stroke-linejoin="round"/></g>
<g opacity="0.62"><path d="M26.12 416.35L27.89 418.55L26.12 420.75L24.36 418.55Z" fill="none" stroke="#7E2F8E" stroke-width="0.7"/><path d="M33.75 414.83L35.51 417.03L33.75 419.23L31.99 417.03Z" fill="none" stroke="#7E2F8E" stroke-width="0.7"/><path d="M41.38 419.61L43.13 421.81L41.38 424.01L39.62 421.81Z" fill="none" stroke="#7E2F8E" stroke-width="0.7"/><path d="M49 419.18L50.76 421.38L49 423.58L47.24 421.38Z" fill="none" stroke="#7E2F8E" stroke-width="0.7"/><path d="M56.62 422.44L58.38 424.64L56.62 426.84L54.87 424.64Z" fill="none" stroke="#7E2F8E" stroke-width="0.7"/><path d="M64.25 419.18L66.01 421.38L64.25 423.58L62.49 421.38Z" fill="none" stroke="#7E2F8E" stroke-width="0.7"/><path d="M71.88 423.53L73.64 425.73L71.88 427.93L70.11 425.73Z" fill="none" stroke="#7E2F8E" stroke-width="0.7"/><path d="M79.5 409.39L81.26 411.59L79.5 413.79L77.74 411.59Z" fill="none" stroke="#7E2F8E" stroke-width="0.7"/><path d="M87.12 406.13L88.89 408.33L87.12 410.53L85.36 408.33Z" fill="none" stroke="#7E2F8E" stroke-width="0.7"/><path d="M94.75 417.44L96.51 419.64L94.75 421.84L92.99 419.64Z" fill="none" stroke="#7E2F8E" stroke-width="0.7"/><path d="M102.38 412L104.14 414.2L102.38 416.4L100.61 414.2Z" fill="none" stroke="#7E2F8E" stroke-width="0.7"/><path d="M110 418.74L111.76 420.94L110 423.14L108.24 420.94Z" fill="none" stroke="#7E2F8E" stroke-width="0.7"/><path d="M117.62 405.04L119.39 407.24L117.62 409.44L115.86 407.24Z" fill="none" stroke="#7E2F8E" stroke-width="0.7"/><path d="M125.25 413.96L127.01 416.16L125.25 418.36L123.49 416.16Z" fill="none" stroke="#7E2F8E" stroke-width="0.7"/><path d="M132.88 399.83L134.63 402.03L132.88 404.23L131.12 402.03Z" fill="none" stroke="#7E2F8E" stroke-width="0.7"/><path d="M140.5 409.39L142.26 411.59L140.5 413.79L138.74 411.59Z" fill="none" stroke="#7E2F8E" stroke-width="0.7"/><path d="M148.12 414.83L149.88 417.03L148.12 419.23L146.37 417.03Z" fill="none" stroke="#7E2F8E" stroke-width="0.7"/><path d="M155.75 419.61L157.51 421.81L155.75 424.01L153.99 421.81Z" fill="none" stroke="#7E2F8E" stroke-width="0.7"/><path d="M163.38 409.39L165.13 411.59L163.38 413.79L161.62 411.59Z" fill="none" stroke="#7E2F8E" stroke-width="0.7"/><path d="M171 427.44L172.76 429.64L171 431.84L169.24 429.64Z" fill="none" stroke="#7E2F8E" stroke-width="0.7"/></g>
<g opacity="0.55"><polyline points="26.12,464.21 33.75,476.17 41.38,487.04 49,500.09 56.62,490.3 64.25,514.22 71.88,490.3 79.5,452.25 87.12,522.92 94.75,471.82 102.38,525.09 110,491.39 117.62,525.09 125.25,516.39 132.88,470.73 140.5,466.38 148.12,483.78 155.75,485.95 163.38,508.78 171,499" fill="none" stroke="#77AC30" stroke-width="0.75" stroke-linejoin="round"/></g>
<g opacity="0.62"><path d="M24.93 463.01L27.32 465.41M24.93 465.41L27.32 463.01" stroke="#77AC30" stroke-width="0.6"/><path d="M32.55 474.97L34.95 477.37M32.55 477.37L34.95 474.97" stroke="#77AC30" stroke-width="0.6"/><path d="M40.17 485.84L42.58 488.24M40.17 488.24L42.58 485.84" stroke="#77AC30" stroke-width="0.6"/><path d="M47.8 498.89L50.2 501.29M47.8 501.29L50.2 498.89" stroke="#77AC30" stroke-width="0.6"/><path d="M55.42 489.1L57.83 491.5M55.42 491.5L57.83 489.1" stroke="#77AC30" stroke-width="0.6"/><path d="M63.05 513.02L65.45 515.42M63.05 515.42L65.45 513.02" stroke="#77AC30" stroke-width="0.6"/><path d="M70.67 489.1L73.08 491.5M70.67 491.5L73.08 489.1" stroke="#77AC30" stroke-width="0.6"/><path d="M78.3 451.05L80.7 453.45M78.3 453.45L80.7 451.05" stroke="#77AC30" stroke-width="0.6"/><path d="M85.92 521.72L88.33 524.12M85.92 524.12L88.33 521.72" stroke="#77AC30" stroke-width="0.6"/><path d="M93.55 470.62L95.95 473.02M93.55 473.02L95.95 470.62" stroke="#77AC30" stroke-width="0.6"/><path d="M101.17 523.89L103.58 526.29M101.17 526.29L103.58 523.89" stroke="#77AC30" stroke-width="0.6"/><path d="M108.8 490.19L111.2 492.59M108.8 492.59L111.2 490.19" stroke="#77AC30" stroke-width="0.6"/><path d="M116.42 523.89L118.83 526.29M116.42 526.29L118.83 523.89" stroke="#77AC30" stroke-width="0.6"/><path d="M124.05 515.19L126.45 517.59M124.05 517.59L126.45 515.19" stroke="#77AC30" stroke-width="0.6"/><path d="M131.68 469.53L134.07 471.93M131.68 471.93L134.07 469.53" stroke="#77AC30" stroke-width="0.6"/><path d="M139.3 465.18L141.7 467.58M139.3 467.58L141.7 465.18" stroke="#77AC30" stroke-width="0.6"/><path d="M146.93 482.58L149.32 484.98M146.93 484.98L149.32 482.58" stroke="#77AC30" stroke-width="0.6"/><path d="M154.55 484.75L156.95 487.15M154.55 487.15L156.95 484.75" stroke="#77AC30" stroke-width="0.6"/><path d="M162.18 507.58L164.57 509.98M162.18 509.98L164.57 507.58" stroke="#77AC30" stroke-width="0.6"/><path d="M169.8 497.8L172.2 500.2M169.8 500.2L172.2 497.8" stroke="#77AC30" stroke-width="0.6"/></g>
<g opacity="0.55"><polyline points="26.12,438.12 33.75,450.08 41.38,443.77 49,446.16 56.62,439.86 64.25,447.03 71.88,450.95 79.5,438.12 87.12,433.55 94.75,451.6 102.38,437.03 110,449.42 117.62,442.25 125.25,450.08 132.88,439.21 140.5,450.08 148.12,433.55 155.75,457.25 163.38,425.07 171,446.16" fill="none" stroke="#4DBEEE" stroke-width="0.75" stroke-linejoin="round"/></g>
<g opacity="0.62"><path d="M23.93 436.58L28.32 436.58L26.12 440.32Z" fill="none" stroke="#4DBEEE" stroke-width="0.7"/><path d="M31.55 448.54L35.95 448.54L33.75 452.28Z" fill="none" stroke="#4DBEEE" stroke-width="0.7"/><path d="M39.17 442.23L43.58 442.23L41.38 445.97Z" fill="none" stroke="#4DBEEE" stroke-width="0.7"/><path d="M46.8 444.62L51.2 444.62L49 448.36Z" fill="none" stroke="#4DBEEE" stroke-width="0.7"/><path d="M54.42 438.32L58.83 438.32L56.62 442.06Z" fill="none" stroke="#4DBEEE" stroke-width="0.7"/><path d="M62.05 445.49L66.45 445.49L64.25 449.23Z" fill="none" stroke="#4DBEEE" stroke-width="0.7"/><path d="M69.67 449.41L74.08 449.41L71.88 453.15Z" fill="none" stroke="#4DBEEE" stroke-width="0.7"/><path d="M77.3 436.58L81.7 436.58L79.5 440.32Z" fill="none" stroke="#4DBEEE" stroke-width="0.7"/><path d="M84.92 432.01L89.33 432.01L87.12 435.75Z" fill="none" stroke="#4DBEEE" stroke-width="0.7"/><path d="M92.55 450.06L96.95 450.06L94.75 453.8Z" fill="none" stroke="#4DBEEE" stroke-width="0.7"/><path d="M100.17 435.49L104.58 435.49L102.38 439.23Z" fill="none" stroke="#4DBEEE" stroke-width="0.7"/><path d="M107.8 447.88L112.2 447.88L110 451.62Z" fill="none" stroke="#4DBEEE" stroke-width="0.7"/><path d="M115.42 440.71L119.83 440.71L117.62 444.45Z" fill="none" stroke="#4DBEEE" stroke-width="0.7"/><path d="M123.05 448.54L127.45 448.54L125.25 452.28Z" fill="none" stroke="#4DBEEE" stroke-width="0.7"/><path d="M130.68 437.67L135.07 437.67L132.88 441.41Z" fill="none" stroke="#4DBEEE" stroke-width="0.7"/><path d="M138.3 448.54L142.7 448.54L140.5 452.28Z" fill="none" stroke="#4DBEEE" stroke-width="0.7"/><path d="M145.93 432.01L150.32 432.01L148.12 435.75Z" fill="none" stroke="#4DBEEE" stroke-width="0.7"/><path d="M153.55 455.71L157.95 455.71L155.75 459.45Z" fill="none" stroke="#4DBEEE" stroke-width="0.7"/><path d="M161.18 423.53L165.57 423.53L163.38 427.27Z" fill="none" stroke="#4DBEEE" stroke-width="0.7"/><path d="M168.8 444.62L173.2 444.62L171 448.36Z" fill="none" stroke="#4DBEEE" stroke-width="0.7"/></g>
<g opacity="0.55"><polyline points="26.12,431.81 33.75,432.47 41.38,429.2 49,431.81 56.62,432.68 64.25,431.6 71.88,435.51 79.5,431.81 87.12,421.16 94.75,443.77 102.38,429.64 110,433.34 117.62,415.51 125.25,428.99 132.88,421.81 140.5,421.16 148.12,425.07 155.75,435.94 163.38,421.81 171,440.73" fill="none" stroke="#A2142F" stroke-width="0.75" stroke-linejoin="round"/></g>
<g opacity="0.62"><circle cx="26.12" cy="431.81" r="1.9" fill="none" stroke="#A2142F" stroke-width="0.7"/><circle cx="33.75" cy="432.47" r="1.9" fill="none" stroke="#A2142F" stroke-width="0.7"/><circle cx="41.38" cy="429.2" r="1.9" fill="none" stroke="#A2142F" stroke-width="0.7"/><circle cx="49" cy="431.81" r="1.9" fill="none" stroke="#A2142F" stroke-width="0.7"/><circle cx="56.62" cy="432.68" r="1.9" fill="none" stroke="#A2142F" stroke-width="0.7"/><circle cx="64.25" cy="431.6" r="1.9" fill="none" stroke="#A2142F" stroke-width="0.7"/><circle cx="71.88" cy="435.51" r="1.9" fill="none" stroke="#A2142F" stroke-width="0.7"/><circle cx="79.5" cy="431.81" r="1.9" fill="none" stroke="#A2142F" stroke-width="0.7"/><circle cx="87.12" cy="421.16" r="1.9" fill="none" stroke="#A2142F" stroke-width="0.7"/><circle cx="94.75" cy="443.77" r="1.9" fill="none" stroke="#A2142F" stroke-width="0.7"/><circle cx="102.38" cy="429.64" r="1.9" fill="none" stroke="#A2142F" stroke-width="0.7"/><circle cx="110" cy="433.34" r="1.9" fill="none" stroke="#A2142F" stroke-width="0.7"/><circle cx="117.62" cy="415.51" r="1.9" fill="none" stroke="#A2142F" stroke-width="0.7"/><circle cx="125.25" cy="428.99" r="1.9" fill="none" stroke="#A2142F" stroke-width="0.7"/><circle cx="132.88" cy="421.81" r="1.9" fill="none" stroke="#A2142F" stroke-width="0.7"/><circle cx="140.5" cy="421.16" r="1.9" fill="none" stroke="#A2142F" stroke-width="0.7"/><circle cx="148.12" cy="425.07" r="1.9" fill="none" stroke="#A2142F" stroke-width="0.7"/><circle cx="155.75" cy="435.94" r="1.9" fill="none" stroke="#A2142F" stroke-width="0.7"/><circle cx="163.38" cy="421.81" r="1.9" fill="none" stroke="#A2142F" stroke-width="0.7"/><circle cx="171" cy="440.73" r="1.9" fill="none" stroke="#A2142F" stroke-width="0.7"/></g>
<g opacity="0.55"><polyline points="26.12,427.46 33.75,425.07 41.38,427.46 49,428.99 56.62,432.03 64.25,429.2 71.88,431.81 79.5,417.9 87.12,416.38 94.75,422.9 102.38,423.99 110,426.16 117.62,414.2 125.25,423.99 132.88,409.2 140.5,415.51 148.12,419.64 155.75,427.25 163.38,416.38 171,433.77" fill="none" stroke="#0072BD" stroke-width="0.75" stroke-linejoin="round"/></g>
<g opacity="0.62"><polygon points="26.12,425.16 25.48,426.34 24.13,426.31 24.82,427.46 24.13,428.61 25.48,428.59 26.12,429.76 26.77,428.59 28.12,428.61 27.43,427.46 28.12,426.31 26.78,426.34" fill="#0072BD" stroke="#0072BD" stroke-width="0.3"/><polygon points="33.75,422.77 33.1,423.95 31.76,423.92 32.45,425.07 31.76,426.22 33.1,426.2 33.75,427.37 34.4,426.2 35.74,426.22 35.05,425.07 35.74,423.92 34.4,423.95" fill="#0072BD" stroke="#0072BD" stroke-width="0.3"/><polygon points="41.38,425.16 40.73,426.34 39.38,426.31 40.08,427.46 39.38,428.61 40.73,428.59 41.38,429.76 42.02,428.59 43.37,428.61 42.67,427.46 43.37,426.31 42.02,426.34" fill="#0072BD" stroke="#0072BD" stroke-width="0.3"/><polygon points="49,426.69 48.35,427.86 47.01,427.84 47.7,428.99 47.01,430.14 48.35,430.11 49,431.29 49.65,430.11 50.99,430.14 50.3,428.99 50.99,427.84 49.65,427.86" fill="#0072BD" stroke="#0072BD" stroke-width="0.3"/><polygon points="56.62,429.73 55.98,430.9 54.63,430.88 55.33,432.03 54.63,433.18 55.98,433.16 56.62,434.33 57.27,433.16 58.62,433.18 57.92,432.03 58.62,430.88 57.27,430.9" fill="#0072BD" stroke="#0072BD" stroke-width="0.3"/><polygon points="64.25,426.9 63.6,428.08 62.26,428.05 62.95,429.2 62.26,430.35 63.6,430.33 64.25,431.5 64.9,430.33 66.24,430.35 65.55,429.2 66.24,428.05 64.9,428.08" fill="#0072BD" stroke="#0072BD" stroke-width="0.3"/><polygon points="71.88,429.51 71.22,430.69 69.88,430.66 70.58,431.81 69.88,432.96 71.22,432.94 71.88,434.11 72.53,432.94 73.87,432.96 73.17,431.81 73.87,430.66 72.53,430.69" fill="#0072BD" stroke="#0072BD" stroke-width="0.3"/><polygon points="79.5,415.6 78.85,416.77 77.51,416.75 78.2,417.9 77.51,419.05 78.85,419.02 79.5,420.2 80.15,419.02 81.49,419.05 80.8,417.9 81.49,416.75 80.15,416.77" fill="#0072BD" stroke="#0072BD" stroke-width="0.3"/><polygon points="87.12,414.08 86.47,415.25 85.13,415.23 85.83,416.38 85.13,417.53 86.47,417.5 87.12,418.68 87.78,417.5 89.12,417.53 88.42,416.38 89.12,415.23 87.78,415.25" fill="#0072BD" stroke="#0072BD" stroke-width="0.3"/><polygon points="94.75,420.6 94.1,421.77 92.76,421.75 93.45,422.9 92.76,424.05 94.1,424.02 94.75,425.2 95.4,424.02 96.74,424.05 96.05,422.9 96.74,421.75 95.4,421.77" fill="#0072BD" stroke="#0072BD" stroke-width="0.3"/><polygon points="102.38,421.69 101.72,422.86 100.38,422.84 101.08,423.99 100.38,425.14 101.72,425.11 102.38,426.29 103.03,425.11 104.37,425.14 103.67,423.99 104.37,422.84 103.03,422.86" fill="#0072BD" stroke="#0072BD" stroke-width="0.3"/><polygon points="110,423.86 109.35,425.03 108.01,425.01 108.7,426.16 108.01,427.31 109.35,427.29 110,428.46 110.65,427.29 111.99,427.31 111.3,426.16 111.99,425.01 110.65,425.03" fill="#0072BD" stroke="#0072BD" stroke-width="0.3"/><polygon points="117.62,411.9 116.97,413.08 115.63,413.05 116.33,414.2 115.63,415.35 116.97,415.33 117.62,416.5 118.28,415.33 119.62,415.35 118.92,414.2 119.62,413.05 118.28,413.08" fill="#0072BD" stroke="#0072BD" stroke-width="0.3"/><polygon points="125.25,421.69 124.6,422.86 123.26,422.84 123.95,423.99 123.26,425.14 124.6,425.11 125.25,426.29 125.9,425.11 127.24,425.14 126.55,423.99 127.24,422.84 125.9,422.86" fill="#0072BD" stroke="#0072BD" stroke-width="0.3"/><polygon points="132.88,406.9 132.22,408.07 130.88,408.05 131.57,409.2 130.88,410.35 132.22,410.33 132.88,411.5 133.53,410.33 134.87,410.35 134.18,409.2 134.87,408.05 133.53,408.07" fill="#0072BD" stroke="#0072BD" stroke-width="0.3"/><polygon points="140.5,413.21 139.85,414.38 138.51,414.36 139.2,415.51 138.51,416.66 139.85,416.63 140.5,417.81 141.15,416.63 142.49,416.66 141.8,415.51 142.49,414.36 141.15,414.38" fill="#0072BD" stroke="#0072BD" stroke-width="0.3"/><polygon points="148.12,417.34 147.47,418.51 146.13,418.49 146.82,419.64 146.13,420.79 147.47,420.76 148.12,421.94 148.78,420.76 150.12,420.79 149.43,419.64 150.12,418.49 148.78,418.51" fill="#0072BD" stroke="#0072BD" stroke-width="0.3"/><polygon points="155.75,424.95 155.1,426.12 153.76,426.1 154.45,427.25 153.76,428.4 155.1,428.37 155.75,429.55 156.4,428.37 157.74,428.4 157.05,427.25 157.74,426.1 156.4,426.12" fill="#0072BD" stroke="#0072BD" stroke-width="0.3"/><polygon points="163.38,414.08 162.72,415.25 161.38,415.23 162.07,416.38 161.38,417.53 162.72,417.5 163.38,418.68 164.03,417.5 165.37,417.53 164.68,416.38 165.37,415.23 164.03,415.25" fill="#0072BD" stroke="#0072BD" stroke-width="0.3"/><polygon points="171,431.47 170.35,432.64 169.01,432.62 169.7,433.77 169.01,434.92 170.35,434.9 171,436.07 171.65,434.9 172.99,434.92 172.3,433.77 172.99,432.62 171.65,432.64" fill="#0072BD" stroke="#0072BD" stroke-width="0.3"/></g>
<g opacity="0.55"><polyline points="26.12,417.9 33.75,416.38 41.38,421.16 49,420.72 56.62,423.99 64.25,420.72 71.88,425.07 79.5,410.94 87.12,407.68 94.75,415.51 102.38,413.55 110,420.29 117.62,406.59 125.25,415.51 132.88,401.37 140.5,429.64 148.12,416.38 155.75,421.16 163.38,410.94 171,428.99" fill="none" stroke="#D95319" stroke-width="0.75" stroke-linejoin="round"/></g>
<g opacity="0.62"><circle cx="26.12" cy="417.9" r="1.6" fill="#D95319" stroke="#D95319" stroke-width="0.5"/><circle cx="33.75" cy="416.38" r="1.6" fill="#D95319" stroke="#D95319" stroke-width="0.5"/><circle cx="41.38" cy="421.16" r="1.6" fill="#D95319" stroke="#D95319" stroke-width="0.5"/><circle cx="49" cy="420.72" r="1.6" fill="#D95319" stroke="#D95319" stroke-width="0.5"/><circle cx="56.62" cy="423.99" r="1.6" fill="#D95319" stroke="#D95319" stroke-width="0.5"/><circle cx="64.25" cy="420.72" r="1.6" fill="#D95319" stroke="#D95319" stroke-width="0.5"/><circle cx="71.88" cy="425.07" r="1.6" fill="#D95319" stroke="#D95319" stroke-width="0.5"/><circle cx="79.5" cy="410.94" r="1.6" fill="#D95319" stroke="#D95319" stroke-width="0.5"/><circle cx="87.12" cy="407.68" r="1.6" fill="#D95319" stroke="#D95319" stroke-width="0.5"/><circle cx="94.75" cy="415.51" r="1.6" fill="#D95319" stroke="#D95319" stroke-width="0.5"/><circle cx="102.38" cy="413.55" r="1.6" fill="#D95319" stroke="#D95319" stroke-width="0.5"/><circle cx="110" cy="420.29" r="1.6" fill="#D95319" stroke="#D95319" stroke-width="0.5"/><circle cx="117.62" cy="406.59" r="1.6" fill="#D95319" stroke="#D95319" stroke-width="0.5"/><circle cx="125.25" cy="415.51" r="1.6" fill="#D95319" stroke="#D95319" stroke-width="0.5"/><circle cx="132.88" cy="401.37" r="1.6" fill="#D95319" stroke="#D95319" stroke-width="0.5"/><circle cx="140.5" cy="429.64" r="1.6" fill="#D95319" stroke="#D95319" stroke-width="0.5"/><circle cx="148.12" cy="416.38" r="1.6" fill="#D95319" stroke="#D95319" stroke-width="0.5"/><circle cx="155.75" cy="421.16" r="1.6" fill="#D95319" stroke="#D95319" stroke-width="0.5"/><circle cx="163.38" cy="410.94" r="1.6" fill="#D95319" stroke="#D95319" stroke-width="0.5"/><circle cx="171" cy="428.99" r="1.6" fill="#D95319" stroke="#D95319" stroke-width="0.5"/></g>
<rect x="18.5" y="380.5" width="152.5" height="152.2" fill="none" stroke="#333" stroke-width="0.9"/>
<path d="M56.62 532.7v-1.6M56.62 380.5v1.6M94.75 532.7v-1.6M94.75 380.5v1.6M132.88 532.7v-1.6M132.88 380.5v1.6M18.5 510.96h1.6M171 510.96h-1.6M18.5 489.21h1.6M171 489.21h-1.6M18.5 467.47h1.6M171 467.47h-1.6M18.5 445.73h1.6M171 445.73h-1.6M18.5 423.99h1.6M171 423.99h-1.6M18.5 402.24h1.6M171 402.24h-1.6" stroke="#333" stroke-width="0.8"/>
<g class="tl"><text x="18.5" y="542.2" text-anchor="middle">0</text><text x="56.62" y="542.2" text-anchor="middle">5</text><text x="94.75" y="542.2" text-anchor="middle">10</text><text x="132.88" y="542.2" text-anchor="middle">15</text><text x="171" y="542.2" text-anchor="middle">20</text><text x="15.9" y="535.6" text-anchor="end">0.2</text><text x="15.9" y="513.86" text-anchor="end">0.3</text><text x="15.9" y="492.11" text-anchor="end">0.4</text><text x="15.9" y="470.37" text-anchor="end">0.5</text><text x="15.9" y="448.63" text-anchor="end">0.6</text><text x="15.9" y="426.89" text-anchor="end">0.7</text><text x="15.9" y="405.14" text-anchor="end">0.8</text><text x="15.9" y="383.4" text-anchor="end">0.9</text></g>
<text class="ti" x="94.75" y="375.3" text-anchor="middle">Q<tspan class="sub" dx="0.6" dy="2">G</tspan></text>
<rect x="180" y="467.4" width="67" height="65.7" fill="#fff" stroke="#333" stroke-width="0.8"/><g opacity="0.55"><path d="M182.5 472.1H201.5" stroke="#0072BD" stroke-width="0.75"/></g><g opacity="0.62"><circle cx="192" cy="472.1" r="1.2" fill="#0072BD" stroke="#0072BD" stroke-width="0.4"/></g><text class="lt" transform="translate(203.2 474.4) scale(0.87 1)">NSCT: 0.7058</text><g opacity="0.55"><path d="M182.5 479.16H201.5" stroke="#D95319" stroke-width="0.75"/></g><g opacity="0.62"><circle cx="192" cy="479.16" r="1.9" fill="none" stroke="#D95319" stroke-width="0.7"/></g><text class="lt" transform="translate(203.2 481.46) scale(0.87 1)">CVT: 0.7257</text><g opacity="0.55"><path d="M182.5 486.22H201.5" stroke="#EDB120" stroke-width="0.75"/></g><g opacity="0.62"><rect x="190.3" y="484.52" width="3.4" height="3.4" fill="none" stroke="#EDB120" stroke-width="0.7"/></g><text class="lt" transform="translate(203.2 488.52) scale(0.87 1)">NSST: 0.6655</text><g opacity="0.55"><path d="M182.5 493.29H201.5" stroke="#7E2F8E" stroke-width="0.75"/></g><g opacity="0.62"><path d="M192 491.09L193.76 493.29L192 495.49L190.24 493.29Z" fill="none" stroke="#7E2F8E" stroke-width="0.7"/></g><text class="lt" transform="translate(203.2 495.59) scale(0.87 1)">IFCNN: 0.7297</text><g opacity="0.55"><path d="M182.5 500.35H201.5" stroke="#77AC30" stroke-width="0.75"/></g><g opacity="0.62"><path d="M190.8 499.15L193.2 501.55M190.8 501.55L193.2 499.15" stroke="#77AC30" stroke-width="0.6"/></g><text class="lt" transform="translate(203.2 502.65) scale(0.87 1)">PMGI: 0.3857</text><g opacity="0.55"><path d="M182.5 507.41H201.5" stroke="#4DBEEE" stroke-width="0.75"/></g><g opacity="0.62"><path d="M189.8 505.87L194.2 505.87L192 509.61Z" fill="none" stroke="#4DBEEE" stroke-width="0.7"/></g><text class="lt" transform="translate(203.2 509.71) scale(0.87 1)">U2Fusion: 0.6093</text><g opacity="0.55"><path d="M182.5 514.48H201.5" stroke="#A2142F" stroke-width="0.75"/></g><g opacity="0.62"><circle cx="192" cy="514.48" r="1.9" fill="none" stroke="#A2142F" stroke-width="0.7"/></g><text class="lt" transform="translate(203.2 516.77) scale(0.87 1)">LEGFF: 0.6754</text><g opacity="0.55"><path d="M182.5 521.54H201.5" stroke="#0072BD" stroke-width="0.75"/></g><g opacity="0.62"><polygon points="192,519.24 191.35,520.41 190.01,520.39 190.7,521.54 190.01,522.69 191.35,522.66 192,523.84 192.65,522.66 193.99,522.69 193.3,521.54 193.99,520.39 192.65,520.41" fill="#0072BD" stroke="#0072BD" stroke-width="0.3"/></g><text class="lt" transform="translate(203.2 523.84) scale(0.87 1)">ZMFF: 0.7030</text><g opacity="0.55"><path d="M182.5 528.6H201.5" stroke="#D95319" stroke-width="0.75"/></g><g opacity="0.62"><circle cx="192" cy="528.6" r="1.6" fill="#D95319" stroke="#D95319" stroke-width="0.5"/></g><text class="lt" transform="translate(203.2 530.9) scale(0.87 1)">Proposed: 0.7317</text>
<path d="M309.85 382.2V531.6M346.9 382.2V531.6M383.95 382.2V531.6M272.8 516.66H421M272.8 501.72H421M272.8 486.78H421M272.8 471.84H421M272.8 456.9H421M272.8 441.96H421M272.8 427.02H421M272.8 412.08H421M272.8 397.14H421" stroke="#dcdcdc" stroke-width="0.6" fill="none"/>
<g opacity="0.55"><polyline points="280.21,479.01 287.62,456.9 295.03,474.23 302.44,444.05 309.85,456 317.26,456.9 324.67,466.16 332.08,469.75 339.49,487.98 346.9,501.72 354.31,465.57 361.72,470.64 369.13,508.89 376.54,466.76 383.95,410.29 391.36,439.27 398.77,498.43 406.18,424.63 413.59,469.45 421,440.47" fill="none" stroke="#0072BD" stroke-width="0.75" stroke-linejoin="round"/></g>
<g opacity="0.62"><circle cx="280.21" cy="479.01" r="1.2" fill="#0072BD" stroke="#0072BD" stroke-width="0.4"/><circle cx="287.62" cy="456.9" r="1.2" fill="#0072BD" stroke="#0072BD" stroke-width="0.4"/><circle cx="295.03" cy="474.23" r="1.2" fill="#0072BD" stroke="#0072BD" stroke-width="0.4"/><circle cx="302.44" cy="444.05" r="1.2" fill="#0072BD" stroke="#0072BD" stroke-width="0.4"/><circle cx="309.85" cy="456" r="1.2" fill="#0072BD" stroke="#0072BD" stroke-width="0.4"/><circle cx="317.26" cy="456.9" r="1.2" fill="#0072BD" stroke="#0072BD" stroke-width="0.4"/><circle cx="324.67" cy="466.16" r="1.2" fill="#0072BD" stroke="#0072BD" stroke-width="0.4"/><circle cx="332.08" cy="469.75" r="1.2" fill="#0072BD" stroke="#0072BD" stroke-width="0.4"/><circle cx="339.49" cy="487.98" r="1.2" fill="#0072BD" stroke="#0072BD" stroke-width="0.4"/><circle cx="346.9" cy="501.72" r="1.2" fill="#0072BD" stroke="#0072BD" stroke-width="0.4"/><circle cx="354.31" cy="465.57" r="1.2" fill="#0072BD" stroke="#0072BD" stroke-width="0.4"/><circle cx="361.72" cy="470.64" r="1.2" fill="#0072BD" stroke="#0072BD" stroke-width="0.4"/><circle cx="369.13" cy="508.89" r="1.2" fill="#0072BD" stroke="#0072BD" stroke-width="0.4"/><circle cx="376.54" cy="466.76" r="1.2" fill="#0072BD" stroke="#0072BD" stroke-width="0.4"/><circle cx="383.95" cy="410.29" r="1.2" fill="#0072BD" stroke="#0072BD" stroke-width="0.4"/><circle cx="391.36" cy="439.27" r="1.2" fill="#0072BD" stroke="#0072BD" stroke-width="0.4"/><circle cx="398.77" cy="498.43" r="1.2" fill="#0072BD" stroke="#0072BD" stroke-width="0.4"/><circle cx="406.18" cy="424.63" r="1.2" fill="#0072BD" stroke="#0072BD" stroke-width="0.4"/><circle cx="413.59" cy="469.45" r="1.2" fill="#0072BD" stroke="#0072BD" stroke-width="0.4"/><circle cx="421" cy="440.47" r="1.2" fill="#0072BD" stroke="#0072BD" stroke-width="0.4"/></g>
<g opacity="0.55"><polyline points="280.21,479.31 287.62,452.12 295.03,481.4 302.44,443.16 309.85,457.8 317.26,456.9 324.67,464.97 332.08,460.49 339.49,486.18 346.9,487.98 354.31,452.42 361.72,458.69 369.13,510.39 376.54,467.06 383.95,403.41 391.36,445.84 398.77,509.19 406.18,418.35 413.59,465.57 421,453.31" fill="none" stroke="#D95319" stroke-width="0.75" stroke-linejoin="round"/></g>
<g opacity="0.62"><circle cx="280.21" cy="479.31" r="1.9" fill="none" stroke="#D95319" stroke-width="0.7"/><circle cx="287.62" cy="452.12" r="1.9" fill="none" stroke="#D95319" stroke-width="0.7"/><circle cx="295.03" cy="481.4" r="1.9" fill="none" stroke="#D95319" stroke-width="0.7"/><circle cx="302.44" cy="443.16" r="1.9" fill="none" stroke="#D95319" stroke-width="0.7"/><circle cx="309.85" cy="457.8" r="1.9" fill="none" stroke="#D95319" stroke-width="0.7"/><circle cx="317.26" cy="456.9" r="1.9" fill="none" stroke="#D95319" stroke-width="0.7"/><circle cx="324.67" cy="464.97" r="1.9" fill="none" stroke="#D95319" stroke-width="0.7"/><circle cx="332.08" cy="460.49" r="1.9" fill="none" stroke="#D95319" stroke-width="0.7"/><circle cx="339.49" cy="486.18" r="1.9" fill="none" stroke="#D95319" stroke-width="0.7"/><circle cx="346.9" cy="487.98" r="1.9" fill="none" stroke="#D95319" stroke-width="0.7"/><circle cx="354.31" cy="452.42" r="1.9" fill="none" stroke="#D95319" stroke-width="0.7"/><circle cx="361.72" cy="458.69" r="1.9" fill="none" stroke="#D95319" stroke-width="0.7"/><circle cx="369.13" cy="510.39" r="1.9" fill="none" stroke="#D95319" stroke-width="0.7"/><circle cx="376.54" cy="467.06" r="1.9" fill="none" stroke="#D95319" stroke-width="0.7"/><circle cx="383.95" cy="403.41" r="1.9" fill="none" stroke="#D95319" stroke-width="0.7"/><circle cx="391.36" cy="445.84" r="1.9" fill="none" stroke="#D95319" stroke-width="0.7"/><circle cx="398.77" cy="509.19" r="1.9" fill="none" stroke="#D95319" stroke-width="0.7"/><circle cx="406.18" cy="418.35" r="1.9" fill="none" stroke="#D95319" stroke-width="0.7"/><circle cx="413.59" cy="465.57" r="1.9" fill="none" stroke="#D95319" stroke-width="0.7"/><circle cx="421" cy="453.31" r="1.9" fill="none" stroke="#D95319" stroke-width="0.7"/></g>
<g opacity="0.55"><polyline points="280.21,487.08 287.62,465.27 295.03,480.8 302.44,455.11 309.85,461.38 317.26,461.38 324.67,468.85 332.08,476.02 339.49,492.76 346.9,507.4 354.31,472.14 361.72,476.32 369.13,510.68 376.54,471.84 383.95,433 391.36,447.94 398.77,501.72 406.18,440.47 413.59,480.8 421,453.91" fill="none" stroke="#EDB120" stroke-width="0.75" stroke-linejoin="round"/></g>
<g opacity="0.62"><rect x="278.51" y="485.38" width="3.4" height="3.4" fill="none" stroke="#EDB120" stroke-width="0.7"/><rect x="285.92" y="463.57" width="3.4" height="3.4" fill="none" stroke="#EDB120" stroke-width="0.7"/><rect x="293.33" y="479.1" width="3.4" height="3.4" fill="none" stroke="#EDB120" stroke-width="0.7"/><rect x="300.74" y="453.41" width="3.4" height="3.4" fill="none" stroke="#EDB120" stroke-width="0.7"/><rect x="308.15" y="459.68" width="3.4" height="3.4" fill="none" stroke="#EDB120" stroke-width="0.7"/><rect x="315.56" y="459.68" width="3.4" height="3.4" fill="none" stroke="#EDB120" stroke-width="0.7"/><rect x="322.97" y="467.15" width="3.4" height="3.4" fill="none" stroke="#EDB120" stroke-width="0.7"/><rect x="330.38" y="474.32" width="3.4" height="3.4" fill="none" stroke="#EDB120" stroke-width="0.7"/><rect x="337.79" y="491.06" width="3.4" height="3.4" fill="none" stroke="#EDB120" stroke-width="0.7"/><rect x="345.2" y="505.7" width="3.4" height="3.4" fill="none" stroke="#EDB120" stroke-width="0.7"/><rect x="352.61" y="470.44" width="3.4" height="3.4" fill="none" stroke="#EDB120" stroke-width="0.7"/><rect x="360.02" y="474.62" width="3.4" height="3.4" fill="none" stroke="#EDB120" stroke-width="0.7"/><rect x="367.43" y="508.98" width="3.4" height="3.4" fill="none" stroke="#EDB120" stroke-width="0.7"/><rect x="374.84" y="470.14" width="3.4" height="3.4" fill="none" stroke="#EDB120" stroke-width="0.7"/><rect x="382.25" y="431.3" width="3.4" height="3.4" fill="none" stroke="#EDB120" stroke-width="0.7"/><rect x="389.66" y="446.24" width="3.4" height="3.4" fill="none" stroke="#EDB120" stroke-width="0.7"/><rect x="397.07" y="500.02" width="3.4" height="3.4" fill="none" stroke="#EDB120" stroke-width="0.7"/><rect x="404.48" y="438.77" width="3.4" height="3.4" fill="none" stroke="#EDB120" stroke-width="0.7"/><rect x="411.89" y="479.1" width="3.4" height="3.4" fill="none" stroke="#EDB120" stroke-width="0.7"/><rect x="419.3" y="452.21" width="3.4" height="3.4" fill="none" stroke="#EDB120" stroke-width="0.7"/></g>
<g opacity="0.55"><polyline points="280.21,476.92 287.62,447.94 295.03,474.83 302.44,436.88 309.85,446.74 317.26,446.74 324.67,457.8 332.08,460.49 339.49,478.11 346.9,489.77 354.31,456.3 361.72,461.08 369.13,498.43 376.54,455.7 383.95,400.13 391.36,441.96 398.77,489.17 406.18,415.07 413.59,477.22 421,441.96" fill="none" stroke="#7E2F8E" stroke-width="0.75" stroke-linejoin="round"/></g>
<g opacity="0.62"><path d="M280.21 474.72L281.97 476.92L280.21 479.12L278.45 476.92Z" fill="none" stroke="#7E2F8E" stroke-width="0.7"/><path d="M287.62 445.74L289.38 447.94L287.62 450.14L285.86 447.94Z" fill="none" stroke="#7E2F8E" stroke-width="0.7"/><path d="M295.03 472.63L296.79 474.83L295.03 477.03L293.27 474.83Z" fill="none" stroke="#7E2F8E" stroke-width="0.7"/><path d="M302.44 434.68L304.2 436.88L302.44 439.08L300.68 436.88Z" fill="none" stroke="#7E2F8E" stroke-width="0.7"/><path d="M309.85 444.54L311.61 446.74L309.85 448.94L308.09 446.74Z" fill="none" stroke="#7E2F8E" stroke-width="0.7"/><path d="M317.26 444.54L319.02 446.74L317.26 448.94L315.5 446.74Z" fill="none" stroke="#7E2F8E" stroke-width="0.7"/><path d="M324.67 455.6L326.43 457.8L324.67 460L322.91 457.8Z" fill="none" stroke="#7E2F8E" stroke-width="0.7"/><path d="M332.08 458.29L333.84 460.49L332.08 462.69L330.32 460.49Z" fill="none" stroke="#7E2F8E" stroke-width="0.7"/><path d="M339.49 475.91L341.25 478.11L339.49 480.31L337.73 478.11Z" fill="none" stroke="#7E2F8E" stroke-width="0.7"/><path d="M346.9 487.57L348.66 489.77L346.9 491.97L345.14 489.77Z" fill="none" stroke="#7E2F8E" stroke-width="0.7"/><path d="M354.31 454.1L356.07 456.3L354.31 458.5L352.55 456.3Z" fill="none" stroke="#7E2F8E" stroke-width="0.7"/><path d="M361.72 458.88L363.48 461.08L361.72 463.28L359.96 461.08Z" fill="none" stroke="#7E2F8E" stroke-width="0.7"/><path d="M369.13 496.23L370.89 498.43L369.13 500.63L367.37 498.43Z" fill="none" stroke="#7E2F8E" stroke-width="0.7"/><path d="M376.54 453.5L378.3 455.7L376.54 457.9L374.78 455.7Z" fill="none" stroke="#7E2F8E" stroke-width="0.7"/><path d="M383.95 397.93L385.71 400.13L383.95 402.33L382.19 400.13Z" fill="none" stroke="#7E2F8E" stroke-width="0.7"/><path d="M391.36 439.76L393.12 441.96L391.36 444.16L389.6 441.96Z" fill="none" stroke="#7E2F8E" stroke-width="0.7"/><path d="M398.77 486.97L400.53 489.17L398.77 491.37L397.01 489.17Z" fill="none" stroke="#7E2F8E" stroke-width="0.7"/><path d="M406.18 412.87L407.94 415.07L406.18 417.27L404.42 415.07Z" fill="none" stroke="#7E2F8E" stroke-width="0.7"/><path d="M413.59 475.02L415.35 477.22L413.59 479.42L411.83 477.22Z" fill="none" stroke="#7E2F8E" stroke-width="0.7"/><path d="M421 439.76L422.76 441.96L421 444.16L419.24 441.96Z" fill="none" stroke="#7E2F8E" stroke-width="0.7"/></g>
<g opacity="0.55"><polyline points="280.21,491.86 287.62,471.54 295.03,486.78 302.44,459.89 309.85,468.85 317.26,471.84 324.67,476.32 332.08,480.8 339.49,495.74 346.9,506.2 354.31,474.83 361.72,480.8 369.13,513.67 376.54,477.82 383.95,443.16 391.36,462.88 398.77,503.21 406.18,450.92 413.59,490.66 421,459.89" fill="none" stroke="#77AC30" stroke-width="0.75" stroke-linejoin="round"/></g>
<g opacity="0.62"><path d="M279.01 490.66L281.41 493.06M279.01 493.06L281.41 490.66" stroke="#77AC30" stroke-width="0.6"/><path d="M286.42 470.34L288.82 472.74M286.42 472.74L288.82 470.34" stroke="#77AC30" stroke-width="0.6"/><path d="M293.83 485.58L296.23 487.98M293.83 487.98L296.23 485.58" stroke="#77AC30" stroke-width="0.6"/><path d="M301.24 458.69L303.64 461.09M301.24 461.09L303.64 458.69" stroke="#77AC30" stroke-width="0.6"/><path d="M308.65 467.65L311.05 470.05M308.65 470.05L311.05 467.65" stroke="#77AC30" stroke-width="0.6"/><path d="M316.06 470.64L318.46 473.04M316.06 473.04L318.46 470.64" stroke="#77AC30" stroke-width="0.6"/><path d="M323.47 475.12L325.87 477.52M323.47 477.52L325.87 475.12" stroke="#77AC30" stroke-width="0.6"/><path d="M330.88 479.6L333.28 482M330.88 482L333.28 479.6" stroke="#77AC30" stroke-width="0.6"/><path d="M338.29 494.54L340.69 496.94M338.29 496.94L340.69 494.54" stroke="#77AC30" stroke-width="0.6"/><path d="M345.7 505L348.1 507.4M345.7 507.4L348.1 505" stroke="#77AC30" stroke-width="0.6"/><path d="M353.11 473.63L355.51 476.03M353.11 476.03L355.51 473.63" stroke="#77AC30" stroke-width="0.6"/><path d="M360.52 479.6L362.92 482M360.52 482L362.92 479.6" stroke="#77AC30" stroke-width="0.6"/><path d="M367.93 512.47L370.33 514.87M367.93 514.87L370.33 512.47" stroke="#77AC30" stroke-width="0.6"/><path d="M375.34 476.62L377.74 479.02M375.34 479.02L377.74 476.62" stroke="#77AC30" stroke-width="0.6"/><path d="M382.75 441.96L385.15 444.36M382.75 444.36L385.15 441.96" stroke="#77AC30" stroke-width="0.6"/><path d="M390.16 461.68L392.56 464.08M390.16 464.08L392.56 461.68" stroke="#77AC30" stroke-width="0.6"/><path d="M397.57 502.01L399.97 504.41M397.57 504.41L399.97 502.01" stroke="#77AC30" stroke-width="0.6"/><path d="M404.98 449.72L407.38 452.12M404.98 452.12L407.38 449.72" stroke="#77AC30" stroke-width="0.6"/><path d="M412.39 489.46L414.79 491.86M412.39 491.86L414.79 489.46" stroke="#77AC30" stroke-width="0.6"/><path d="M419.8 458.69L422.2 461.09M419.8 461.09L422.2 458.69" stroke="#77AC30" stroke-width="0.6"/></g>
<g opacity="0.55"><polyline points="280.21,493.65 287.62,474.23 295.03,488.87 302.44,462.88 309.85,468.85 317.26,475.13 324.67,477.82 332.08,481.7 339.49,496.34 346.9,509.19 354.31,476.02 361.72,480.8 369.13,514.27 376.54,477.82 383.95,445.84 391.36,464.07 398.77,504.71 406.18,453.61 413.59,486.78 421,459.89" fill="none" stroke="#4DBEEE" stroke-width="0.75" stroke-linejoin="round"/></g>
<g opacity="0.62"><path d="M278.01 492.11L282.41 492.11L280.21 495.85Z" fill="none" stroke="#4DBEEE" stroke-width="0.7"/><path d="M285.42 472.69L289.82 472.69L287.62 476.43Z" fill="none" stroke="#4DBEEE" stroke-width="0.7"/><path d="M292.83 487.33L297.23 487.33L295.03 491.07Z" fill="none" stroke="#4DBEEE" stroke-width="0.7"/><path d="M300.24 461.34L304.64 461.34L302.44 465.08Z" fill="none" stroke="#4DBEEE" stroke-width="0.7"/><path d="M307.65 467.31L312.05 467.31L309.85 471.05Z" fill="none" stroke="#4DBEEE" stroke-width="0.7"/><path d="M315.06 473.59L319.46 473.59L317.26 477.33Z" fill="none" stroke="#4DBEEE" stroke-width="0.7"/><path d="M322.47 476.28L326.87 476.28L324.67 480.02Z" fill="none" stroke="#4DBEEE" stroke-width="0.7"/><path d="M329.88 480.16L334.28 480.16L332.08 483.9Z" fill="none" stroke="#4DBEEE" stroke-width="0.7"/><path d="M337.29 494.8L341.69 494.8L339.49 498.54Z" fill="none" stroke="#4DBEEE" stroke-width="0.7"/><path d="M344.7 507.65L349.1 507.65L346.9 511.39Z" fill="none" stroke="#4DBEEE" stroke-width="0.7"/><path d="M352.11 474.48L356.51 474.48L354.31 478.22Z" fill="none" stroke="#4DBEEE" stroke-width="0.7"/><path d="M359.52 479.26L363.92 479.26L361.72 483Z" fill="none" stroke="#4DBEEE" stroke-width="0.7"/><path d="M366.93 512.73L371.33 512.73L369.13 516.47Z" fill="none" stroke="#4DBEEE" stroke-width="0.7"/><path d="M374.34 476.28L378.74 476.28L376.54 480.02Z" fill="none" stroke="#4DBEEE" stroke-width="0.7"/><path d="M381.75 444.3L386.15 444.3L383.95 448.04Z" fill="none" stroke="#4DBEEE" stroke-width="0.7"/><path d="M389.16 462.53L393.56 462.53L391.36 466.27Z" fill="none" stroke="#4DBEEE" stroke-width="0.7"/><path d="M396.57 503.17L400.97 503.17L398.77 506.91Z" fill="none" stroke="#4DBEEE" stroke-width="0.7"/><path d="M403.98 452.07L408.38 452.07L406.18 455.81Z" fill="none" stroke="#4DBEEE" stroke-width="0.7"/><path d="M411.39 485.24L415.79 485.24L413.59 488.98Z" fill="none" stroke="#4DBEEE" stroke-width="0.7"/><path d="M418.8 458.35L423.2 458.35L421 462.09Z" fill="none" stroke="#4DBEEE" stroke-width="0.7"/></g>
<g opacity="0.55"><polyline points="280.21,499.03 287.62,479.01 295.03,487.08 302.44,463.17 309.85,473.93 317.26,470.64 324.67,479.91 332.08,492.16 339.49,503.51 346.9,519.35 354.31,478.71 361.72,489.17 369.13,518.15 376.54,486.78 383.95,453.31 391.36,457.8 398.77,503.81 406.18,450.92 413.59,486.78 421,465.57" fill="none" stroke="#A2142F" stroke-width="0.75" stroke-linejoin="round"/></g>
<g opacity="0.62"><circle cx="280.21" cy="499.03" r="1.9" fill="none" stroke="#A2142F" stroke-width="0.7"/><circle cx="287.62" cy="479.01" r="1.9" fill="none" stroke="#A2142F" stroke-width="0.7"/><circle cx="295.03" cy="487.08" r="1.9" fill="none" stroke="#A2142F" stroke-width="0.7"/><circle cx="302.44" cy="463.17" r="1.9" fill="none" stroke="#A2142F" stroke-width="0.7"/><circle cx="309.85" cy="473.93" r="1.9" fill="none" stroke="#A2142F" stroke-width="0.7"/><circle cx="317.26" cy="470.64" r="1.9" fill="none" stroke="#A2142F" stroke-width="0.7"/><circle cx="324.67" cy="479.91" r="1.9" fill="none" stroke="#A2142F" stroke-width="0.7"/><circle cx="332.08" cy="492.16" r="1.9" fill="none" stroke="#A2142F" stroke-width="0.7"/><circle cx="339.49" cy="503.51" r="1.9" fill="none" stroke="#A2142F" stroke-width="0.7"/><circle cx="346.9" cy="519.35" r="1.9" fill="none" stroke="#A2142F" stroke-width="0.7"/><circle cx="354.31" cy="478.71" r="1.9" fill="none" stroke="#A2142F" stroke-width="0.7"/><circle cx="361.72" cy="489.17" r="1.9" fill="none" stroke="#A2142F" stroke-width="0.7"/><circle cx="369.13" cy="518.15" r="1.9" fill="none" stroke="#A2142F" stroke-width="0.7"/><circle cx="376.54" cy="486.78" r="1.9" fill="none" stroke="#A2142F" stroke-width="0.7"/><circle cx="383.95" cy="453.31" r="1.9" fill="none" stroke="#A2142F" stroke-width="0.7"/><circle cx="391.36" cy="457.8" r="1.9" fill="none" stroke="#A2142F" stroke-width="0.7"/><circle cx="398.77" cy="503.81" r="1.9" fill="none" stroke="#A2142F" stroke-width="0.7"/><circle cx="406.18" cy="450.92" r="1.9" fill="none" stroke="#A2142F" stroke-width="0.7"/><circle cx="413.59" cy="486.78" r="1.9" fill="none" stroke="#A2142F" stroke-width="0.7"/><circle cx="421" cy="465.57" r="1.9" fill="none" stroke="#A2142F" stroke-width="0.7"/></g>
<g opacity="0.55"><polyline points="280.21,480.21 287.62,445.84 295.03,475.43 302.44,446.44 309.85,466.16 317.26,464.37 324.67,468.25 332.08,451.52 339.49,485.29 346.9,498.73 354.31,467.36 361.72,471.84 369.13,510.68 376.54,468.85 383.95,427.32 391.36,439.27 398.77,501.72 406.18,424.63 413.59,471.84 421,440.47" fill="none" stroke="#0072BD" stroke-width="0.75" stroke-linejoin="round"/></g>
<g opacity="0.62"><polygon points="280.21,477.91 279.56,479.08 278.22,479.06 278.91,480.21 278.22,481.36 279.56,481.33 280.21,482.51 280.86,481.33 282.2,481.36 281.51,480.21 282.2,479.06 280.86,479.08" fill="#0072BD" stroke="#0072BD" stroke-width="0.3"/><polygon points="287.62,443.54 286.97,444.72 285.63,444.69 286.32,445.84 285.63,446.99 286.97,446.97 287.62,448.14 288.27,446.97 289.61,446.99 288.92,445.84 289.61,444.69 288.27,444.72" fill="#0072BD" stroke="#0072BD" stroke-width="0.3"/><polygon points="295.03,473.13 294.38,474.3 293.04,474.28 293.73,475.43 293.04,476.58 294.38,476.55 295.03,477.73 295.68,476.55 297.02,476.58 296.33,475.43 297.02,474.28 295.68,474.3" fill="#0072BD" stroke="#0072BD" stroke-width="0.3"/><polygon points="302.44,444.14 301.79,445.32 300.45,445.29 301.14,446.44 300.45,447.59 301.79,447.57 302.44,448.74 303.09,447.57 304.43,447.59 303.74,446.44 304.43,445.29 303.09,445.32" fill="#0072BD" stroke="#0072BD" stroke-width="0.3"/><polygon points="309.85,463.86 309.2,465.04 307.86,465.01 308.55,466.16 307.86,467.31 309.2,467.29 309.85,468.46 310.5,467.29 311.84,467.31 311.15,466.16 311.84,465.01 310.5,465.04" fill="#0072BD" stroke="#0072BD" stroke-width="0.3"/><polygon points="317.26,462.07 316.61,463.24 315.27,463.22 315.96,464.37 315.27,465.52 316.61,465.5 317.26,466.67 317.91,465.5 319.25,465.52 318.56,464.37 319.25,463.22 317.91,463.24" fill="#0072BD" stroke="#0072BD" stroke-width="0.3"/><polygon points="324.67,465.95 324.02,467.13 322.68,467.1 323.37,468.25 322.68,469.4 324.02,469.38 324.67,470.55 325.32,469.38 326.66,469.4 325.97,468.25 326.66,467.1 325.32,467.13" fill="#0072BD" stroke="#0072BD" stroke-width="0.3"/><polygon points="332.08,449.22 331.43,450.4 330.09,450.37 330.78,451.52 330.09,452.67 331.43,452.65 332.08,453.82 332.73,452.65 334.07,452.67 333.38,451.52 334.07,450.37 332.73,450.4" fill="#0072BD" stroke="#0072BD" stroke-width="0.3"/><polygon points="339.49,482.99 338.84,484.16 337.5,484.14 338.19,485.29 337.5,486.44 338.84,486.41 339.49,487.59 340.14,486.41 341.48,486.44 340.79,485.29 341.48,484.14 340.14,484.16" fill="#0072BD" stroke="#0072BD" stroke-width="0.3"/><polygon points="346.9,496.43 346.25,497.61 344.91,497.58 345.6,498.73 344.91,499.88 346.25,499.86 346.9,501.03 347.55,499.86 348.89,499.88 348.2,498.73 348.89,497.58 347.55,497.61" fill="#0072BD" stroke="#0072BD" stroke-width="0.3"/><polygon points="354.31,465.06 353.66,466.23 352.32,466.21 353.01,467.36 352.32,468.51 353.66,468.48 354.31,469.66 354.96,468.48 356.3,468.51 355.61,467.36 356.3,466.21 354.96,466.23" fill="#0072BD" stroke="#0072BD" stroke-width="0.3"/><polygon points="361.72,469.54 361.07,470.71 359.73,470.69 360.42,471.84 359.73,472.99 361.07,472.97 361.72,474.14 362.37,472.97 363.71,472.99 363.02,471.84 363.71,470.69 362.37,470.71" fill="#0072BD" stroke="#0072BD" stroke-width="0.3"/><polygon points="369.13,508.38 368.48,509.56 367.14,509.53 367.83,510.68 367.14,511.83 368.48,511.81 369.13,512.98 369.78,511.81 371.12,511.83 370.43,510.68 371.12,509.53 369.78,509.56" fill="#0072BD" stroke="#0072BD" stroke-width="0.3"/><polygon points="376.54,466.55 375.89,467.73 374.55,467.7 375.24,468.85 374.55,470 375.89,469.98 376.54,471.15 377.19,469.98 378.53,470 377.84,468.85 378.53,467.7 377.19,467.73" fill="#0072BD" stroke="#0072BD" stroke-width="0.3"/><polygon points="383.95,425.02 383.3,426.19 381.96,426.17 382.65,427.32 381.96,428.47 383.3,428.44 383.95,429.62 384.6,428.44 385.94,428.47 385.25,427.32 385.94,426.17 384.6,426.19" fill="#0072BD" stroke="#0072BD" stroke-width="0.3"/><polygon points="391.36,436.97 390.71,438.14 389.37,438.12 390.06,439.27 389.37,440.42 390.71,440.4 391.36,441.57 392.01,440.4 393.35,440.42 392.66,439.27 393.35,438.12 392.01,438.14" fill="#0072BD" stroke="#0072BD" stroke-width="0.3"/><polygon points="398.77,499.42 398.12,500.59 396.78,500.57 397.47,501.72 396.78,502.87 398.12,502.85 398.77,504.02 399.42,502.85 400.76,502.87 400.07,501.72 400.76,500.57 399.42,500.59" fill="#0072BD" stroke="#0072BD" stroke-width="0.3"/><polygon points="406.18,422.33 405.53,423.5 404.19,423.48 404.88,424.63 404.19,425.78 405.53,425.76 406.18,426.93 406.83,425.76 408.17,425.78 407.48,424.63 408.17,423.48 406.83,423.5" fill="#0072BD" stroke="#0072BD" stroke-width="0.3"/><polygon points="413.59,469.54 412.94,470.71 411.6,470.69 412.29,471.84 411.6,472.99 412.94,472.97 413.59,474.14 414.24,472.97 415.58,472.99 414.89,471.84 415.58,470.69 414.24,470.71" fill="#0072BD" stroke="#0072BD" stroke-width="0.3"/><polygon points="421,438.17 420.35,439.34 419.01,439.32 419.7,440.47 419.01,441.62 420.35,441.59 421,442.77 421.65,441.59 422.99,441.62 422.3,440.47 422.99,439.32 421.65,439.34" fill="#0072BD" stroke="#0072BD" stroke-width="0.3"/></g>
<g opacity="0.55"><polyline points="280.21,473.93 287.62,446.74 295.03,476.02 302.44,437.78 309.85,452.42 317.26,451.52 324.67,459.59 332.08,455.11 339.49,480.8 346.9,482.6 354.31,447.04 361.72,453.31 369.13,505.01 376.54,461.68 383.95,398.04 391.36,440.47 398.77,503.81 406.18,412.98 413.59,460.19 421,447.94" fill="none" stroke="#D95319" stroke-width="0.75" stroke-linejoin="round"/></g>
<g opacity="0.62"><circle cx="280.21" cy="473.93" r="1.6" fill="#D95319" stroke="#D95319" stroke-width="0.5"/><circle cx="287.62" cy="446.74" r="1.6" fill="#D95319" stroke="#D95319" stroke-width="0.5"/><circle cx="295.03" cy="476.02" r="1.6" fill="#D95319" stroke="#D95319" stroke-width="0.5"/><circle cx="302.44" cy="437.78" r="1.6" fill="#D95319" stroke="#D95319" stroke-width="0.5"/><circle cx="309.85" cy="452.42" r="1.6" fill="#D95319" stroke="#D95319" stroke-width="0.5"/><circle cx="317.26" cy="451.52" r="1.6" fill="#D95319" stroke="#D95319" stroke-width="0.5"/><circle cx="324.67" cy="459.59" r="1.6" fill="#D95319" stroke="#D95319" stroke-width="0.5"/><circle cx="332.08" cy="455.11" r="1.6" fill="#D95319" stroke="#D95319" stroke-width="0.5"/><circle cx="339.49" cy="480.8" r="1.6" fill="#D95319" stroke="#D95319" stroke-width="0.5"/><circle cx="346.9" cy="482.6" r="1.6" fill="#D95319" stroke="#D95319" stroke-width="0.5"/><circle cx="354.31" cy="447.04" r="1.6" fill="#D95319" stroke="#D95319" stroke-width="0.5"/><circle cx="361.72" cy="453.31" r="1.6" fill="#D95319" stroke="#D95319" stroke-width="0.5"/><circle cx="369.13" cy="505.01" r="1.6" fill="#D95319" stroke="#D95319" stroke-width="0.5"/><circle cx="376.54" cy="461.68" r="1.6" fill="#D95319" stroke="#D95319" stroke-width="0.5"/><circle cx="383.95" cy="398.04" r="1.6" fill="#D95319" stroke="#D95319" stroke-width="0.5"/><circle cx="391.36" cy="440.47" r="1.6" fill="#D95319" stroke="#D95319" stroke-width="0.5"/><circle cx="398.77" cy="503.81" r="1.6" fill="#D95319" stroke="#D95319" stroke-width="0.5"/><circle cx="406.18" cy="412.98" r="1.6" fill="#D95319" stroke="#D95319" stroke-width="0.5"/><circle cx="413.59" cy="460.19" r="1.6" fill="#D95319" stroke="#D95319" stroke-width="0.5"/><circle cx="421" cy="447.94" r="1.6" fill="#D95319" stroke="#D95319" stroke-width="0.5"/></g>
<rect x="272.8" y="382.2" width="148.2" height="149.4" fill="none" stroke="#333" stroke-width="0.9"/>
<path d="M309.85 531.6v-1.6M309.85 382.2v1.6M346.9 531.6v-1.6M346.9 382.2v1.6M383.95 531.6v-1.6M383.95 382.2v1.6M272.8 516.66h1.6M421 516.66h-1.6M272.8 501.72h1.6M421 501.72h-1.6M272.8 486.78h1.6M421 486.78h-1.6M272.8 471.84h1.6M421 471.84h-1.6M272.8 456.9h1.6M421 456.9h-1.6M272.8 441.96h1.6M421 441.96h-1.6M272.8 427.02h1.6M421 427.02h-1.6M272.8 412.08h1.6M421 412.08h-1.6M272.8 397.14h1.6M421 397.14h-1.6" stroke="#333" stroke-width="0.8"/>
<g class="tl"><text x="272.8" y="541.1" text-anchor="middle">0</text><text x="309.85" y="541.1" text-anchor="middle">5</text><text x="346.9" y="541.1" text-anchor="middle">10</text><text x="383.95" y="541.1" text-anchor="middle">15</text><text x="421" y="541.1" text-anchor="middle">20</text><text x="270.2" y="534.5" text-anchor="end">0.805</text><text x="270.2" y="519.56" text-anchor="end">0.81</text><text x="270.2" y="504.62" text-anchor="end">0.815</text><text x="270.2" y="489.68" text-anchor="end">0.82</text><text x="270.2" y="474.74" text-anchor="end">0.825</text><text x="270.2" y="459.8" text-anchor="end">0.83</text><text x="270.2" y="444.86" text-anchor="end">0.835</text><text x="270.2" y="429.92" text-anchor="end">0.84</text><text x="270.2" y="414.98" text-anchor="end">0.845</text><text x="270.2" y="400.04" text-anchor="end">0.85</text><text x="270.2" y="385.1" text-anchor="end">0.855</text></g>
<text class="ti" x="346.9" y="377" text-anchor="middle">Q<tspan class="sub" dx="0.6" dy="2">NCIE</tspan></text>
<rect x="429.5" y="467.5" width="65" height="63.6" fill="#fff" stroke="#333" stroke-width="0.8"/><g opacity="0.55"><path d="M432 472.2H451" stroke="#0072BD" stroke-width="0.75"/></g><g opacity="0.62"><circle cx="441.5" cy="472.2" r="1.2" fill="#0072BD" stroke="#0072BD" stroke-width="0.4"/></g><text class="lt" transform="translate(452.7 474.5) scale(0.87 1)">NSCT: 0.8280</text><g opacity="0.55"><path d="M432 479H451" stroke="#D95319" stroke-width="0.75"/></g><g opacity="0.62"><circle cx="441.5" cy="479" r="1.9" fill="none" stroke="#D95319" stroke-width="0.7"/></g><text class="lt" transform="translate(452.7 481.3) scale(0.87 1)">CVT: 0.8281</text><g opacity="0.55"><path d="M432 485.8H451" stroke="#EDB120" stroke-width="0.75"/></g><g opacity="0.62"><rect x="439.8" y="484.1" width="3.4" height="3.4" fill="none" stroke="#EDB120" stroke-width="0.7"/></g><text class="lt" transform="translate(452.7 488.1) scale(0.87 1)">NSST: 0.8254</text><g opacity="0.55"><path d="M432 492.6H451" stroke="#7E2F8E" stroke-width="0.75"/></g><g opacity="0.62"><path d="M441.5 490.4L443.26 492.6L441.5 494.8L439.74 492.6Z" fill="none" stroke="#7E2F8E" stroke-width="0.7"/></g><text class="lt" transform="translate(452.7 494.9) scale(0.87 1)">IFCNN: 0.8298</text><g opacity="0.55"><path d="M432 499.4H451" stroke="#77AC30" stroke-width="0.75"/></g><g opacity="0.62"><path d="M440.3 498.2L442.7 500.6M440.3 500.6L442.7 498.2" stroke="#77AC30" stroke-width="0.6"/></g><text class="lt" transform="translate(452.7 501.7) scale(0.87 1)">PMGI: 0.8225</text><g opacity="0.55"><path d="M432 506.2H451" stroke="#4DBEEE" stroke-width="0.75"/></g><g opacity="0.62"><path d="M439.3 504.66L443.7 504.66L441.5 508.4Z" fill="none" stroke="#4DBEEE" stroke-width="0.7"/></g><text class="lt" transform="translate(452.7 508.5) scale(0.87 1)">U2Fusion: 0.8221</text><g opacity="0.55"><path d="M432 513H451" stroke="#A2142F" stroke-width="0.75"/></g><g opacity="0.62"><circle cx="441.5" cy="513" r="1.9" fill="none" stroke="#A2142F" stroke-width="0.7"/></g><text class="lt" transform="translate(452.7 515.3) scale(0.87 1)">LEGFF: 0.8214</text><g opacity="0.55"><path d="M432 519.8H451" stroke="#0072BD" stroke-width="0.75"/></g><g opacity="0.62"><polygon points="441.5,517.5 440.85,518.67 439.51,518.65 440.2,519.8 439.51,520.95 440.85,520.93 441.5,522.1 442.15,520.93 443.49,520.95 442.8,519.8 443.49,518.65 442.15,518.67" fill="#0072BD" stroke="#0072BD" stroke-width="0.3"/></g><text class="lt" transform="translate(452.7 522.1) scale(0.87 1)">ZMFF: 0.8271</text><g opacity="0.55"><path d="M432 526.6H451" stroke="#D95319" stroke-width="0.75"/></g><g opacity="0.62"><circle cx="441.5" cy="526.6" r="1.6" fill="#D95319" stroke="#D95319" stroke-width="0.5"/></g><text class="lt" transform="translate(452.7 528.9) scale(0.87 1)">Proposed: 0.8299</text>
</svg>
</body></html>
